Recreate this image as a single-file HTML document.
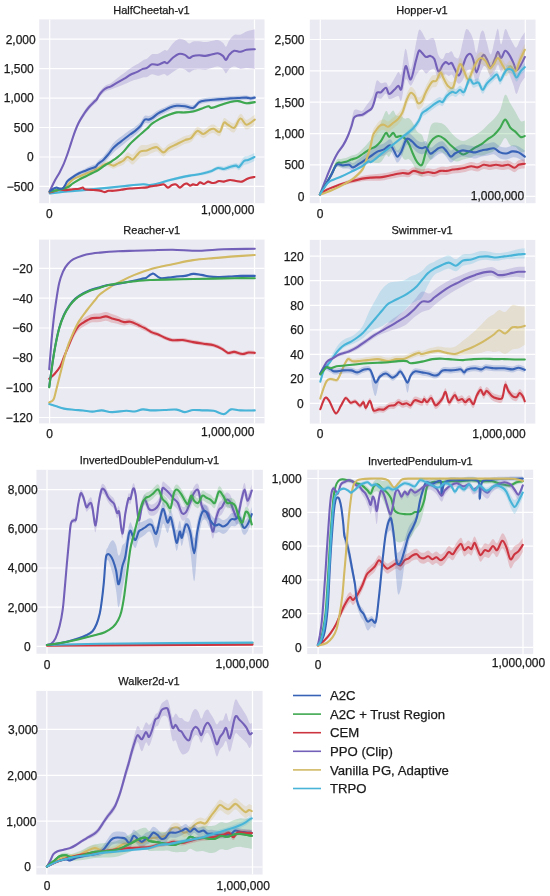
<!DOCTYPE html>
<html><head><meta charset="utf-8"><title>PPO benchmark curves</title>
<style>html,body{margin:0;padding:0;background:#fff;width:550px;height:896px;overflow:hidden}svg{display:block}</style>
</head><body>
<svg width="550" height="896" viewBox="0 0 550 896">
<rect width="550" height="896" fill="#fff"/>
<g id="p1">
<rect x="39.2" y="19.4" width="225.3" height="183.8" fill="#EAEAF2"/>
<line x1="39.2" x2="264.5" y1="39.2" y2="39.2" stroke="#ffffff" stroke-width="1.2"/>
<line x1="39.2" x2="264.5" y1="68.6" y2="68.6" stroke="#ffffff" stroke-width="1.2"/>
<line x1="39.2" x2="264.5" y1="98.1" y2="98.1" stroke="#ffffff" stroke-width="1.2"/>
<line x1="39.2" x2="264.5" y1="127.5" y2="127.5" stroke="#ffffff" stroke-width="1.2"/>
<line x1="39.2" x2="264.5" y1="157.0" y2="157.0" stroke="#ffffff" stroke-width="1.2"/>
<line x1="39.2" x2="264.5" y1="186.4" y2="186.4" stroke="#ffffff" stroke-width="1.2"/>
<line x1="49.7" x2="49.7" y1="19.4" y2="203.2" stroke="#ffffff" stroke-width="1.2"/>
<line x1="254.5" x2="254.5" y1="19.4" y2="203.2" stroke="#ffffff" stroke-width="1.2"/>
<clipPath id="cp1"><rect x="39.2" y="19.4" width="225.3" height="183.8"/></clipPath>
<g clip-path="url(#cp1)">
<path d="M49.5,191.1C50.3,189.3 52.7,183.9 54.4,180.6C56.1,177.3 58.1,174.1 59.6,171.2C61.1,168.4 62.1,166.4 63.4,163.3C64.7,160.2 66.0,156.6 67.3,152.8C68.6,149.1 69.8,144.9 71.1,141.0C72.4,137.0 73.7,132.6 75.0,129.1C76.3,125.6 77.3,122.9 78.8,120.0C80.3,117.0 82.2,114.0 83.9,111.4C85.6,108.8 87.4,106.4 89.1,104.3C90.8,102.3 92.9,100.4 94.2,99.1C95.5,97.8 96.0,97.7 96.8,96.5C97.6,95.3 98.2,93.5 99.3,92.0C100.4,90.5 101.9,88.6 103.2,87.4C104.5,86.2 105.8,85.4 107.0,84.8C108.2,84.1 108.7,84.7 110.5,83.5C112.3,82.3 115.8,79.2 118.1,77.5C120.4,75.7 122.2,74.6 124.3,73.1C126.3,71.5 128.3,69.6 130.4,68.2C132.5,66.8 134.5,65.9 136.6,64.6C138.7,63.3 141.1,61.4 142.8,60.4C144.5,59.5 145.4,59.8 146.9,58.8C148.4,57.7 150.1,55.1 152.0,54.3C153.9,53.5 156.1,54.5 158.2,53.8C160.2,53.2 162.8,50.8 164.3,50.2C165.8,49.6 166.0,51.5 167.4,50.4C168.8,49.3 170.7,45.6 172.6,43.7C174.5,41.8 176.6,39.6 178.7,39.0C180.8,38.5 183.2,39.5 184.9,40.3C186.6,41.0 187.6,43.3 189.0,43.6C190.4,43.8 191.4,42.0 193.1,41.6C194.8,41.2 197.2,41.2 199.3,41.3C201.4,41.4 203.4,42.2 205.4,42.1C207.4,42.1 209.5,41.3 211.6,41.0C213.7,40.6 215.9,39.7 217.8,40.0C219.7,40.3 221.5,41.7 222.9,42.8C224.3,43.9 225.0,47.1 226.0,46.7C227.0,46.3 227.7,42.6 229.1,40.7C230.5,38.7 232.3,36.0 234.2,35.0C236.1,34.0 238.3,35.3 240.4,34.7C242.5,34.1 244.1,32.4 246.5,31.5C248.9,30.6 253.4,29.6 254.8,29.2L254.8,69.2C253.4,69.0 248.9,68.2 246.5,68.1C244.1,68.1 242.5,69.2 240.4,68.9C238.3,68.6 236.1,66.5 234.2,66.6C232.3,66.6 230.5,68.0 229.1,69.1C227.7,70.3 227.0,73.3 226.0,73.3C225.0,73.3 224.3,70.1 222.9,69.0C221.5,67.9 219.7,66.7 217.8,66.6C215.9,66.4 213.7,67.5 211.6,68.0C209.5,68.6 207.4,69.5 205.4,69.7C203.4,69.9 201.4,69.2 199.3,69.3C197.2,69.4 194.8,69.7 193.1,70.2C191.4,70.7 190.4,72.6 189.0,72.4C187.6,72.3 186.6,70.1 184.9,69.5C183.2,68.9 180.8,68.3 178.7,68.8C176.6,69.2 174.5,71.1 172.6,72.3C170.7,73.5 168.8,75.5 167.4,75.8C166.0,76.1 165.8,74.0 164.3,74.0C162.8,74.0 160.2,75.7 158.2,75.8C156.1,75.8 153.9,74.1 152.0,74.3C150.1,74.5 148.4,76.5 146.9,77.1C145.4,77.6 144.5,76.9 142.8,77.4C141.1,77.8 138.7,78.9 136.6,79.6C134.5,80.3 132.5,80.6 130.4,81.4C128.3,82.2 126.3,83.5 124.3,84.3C122.2,85.2 120.4,85.8 118.1,86.7C115.8,87.6 112.3,89.0 110.5,89.7C108.7,90.4 108.2,90.1 107.0,90.7C105.8,91.2 104.5,92.0 103.2,93.2C101.9,94.3 100.4,96.1 99.3,97.6C98.2,99.1 97.6,100.9 96.8,102.1C96.0,103.2 95.5,103.3 94.2,104.5C92.9,105.8 90.8,107.6 89.1,109.7C87.4,111.7 85.6,114.0 83.9,116.6C82.2,119.1 80.3,122.0 78.8,124.8C77.3,127.6 76.3,130.1 75.0,133.5C73.7,136.8 72.4,141.0 71.1,144.8C69.8,148.6 68.6,152.6 67.3,156.2C66.0,159.7 64.7,163.2 63.4,166.1C62.1,169.0 61.1,170.9 59.6,173.6C58.1,176.2 56.1,179.1 54.4,182.2C52.7,185.3 50.3,190.5 49.5,192.1Z" fill="#7360B8" fill-opacity="0.24" stroke="none"/><path d="M49.5,191.6C50.3,189.9 52.7,184.6 54.4,181.4C56.1,178.2 58.1,175.2 59.6,172.4C61.1,169.6 62.1,167.7 63.4,164.7C64.7,161.7 66.0,158.1 67.3,154.5C68.6,150.9 69.8,146.8 71.1,142.9C72.4,139.0 73.7,134.7 75.0,131.3C76.3,127.9 77.3,125.3 78.8,122.4C80.3,119.5 82.2,116.6 83.9,114.0C85.6,111.4 87.4,109.0 89.1,107.0C90.8,105.0 92.9,103.1 94.2,101.8C95.5,100.5 96.0,100.5 96.8,99.3C97.6,98.1 98.2,96.3 99.3,94.8C100.4,93.3 101.9,91.5 103.2,90.3C104.5,89.1 105.8,88.3 107.0,87.7C108.2,87.1 108.7,87.5 110.5,86.6C112.3,85.7 115.8,83.4 118.1,82.1C120.4,80.8 122.2,79.9 124.3,78.7C126.3,77.5 128.3,75.9 130.4,74.8C132.5,73.7 134.5,73.1 136.6,72.1C138.7,71.1 141.1,69.6 142.8,68.9C144.5,68.2 145.4,68.7 146.9,67.9C148.4,67.1 150.1,64.8 152.0,64.3C153.9,63.8 156.1,65.2 158.2,64.8C160.2,64.4 162.8,62.4 164.3,62.1C165.8,61.8 166.0,63.8 167.4,63.1C168.8,62.4 170.7,59.5 172.6,58.0C174.5,56.5 176.6,54.4 178.7,53.9C180.8,53.4 183.2,54.2 184.9,54.9C186.6,55.6 187.6,57.8 189.0,58.0C190.4,58.2 191.4,56.4 193.1,55.9C194.8,55.4 197.2,55.3 199.3,55.3C201.4,55.3 203.4,56.0 205.4,55.9C207.4,55.8 209.5,54.9 211.6,54.5C213.7,54.1 215.9,53.1 217.8,53.3C219.7,53.5 221.5,54.8 222.9,55.9C224.3,57.0 225.0,60.2 226.0,60.0C227.0,59.8 227.7,56.4 229.1,54.9C230.5,53.4 232.3,51.3 234.2,50.8C236.1,50.3 238.3,52.0 240.4,51.8C242.5,51.6 244.1,50.2 246.5,49.8C248.9,49.4 253.4,49.3 254.8,49.2" fill="none" stroke="#7360B8" stroke-width="2.1" stroke-linejoin="round" stroke-linecap="round"/><path d="M49.7,193.0C51.5,192.8 55.4,192.1 60.6,191.5C65.8,191.0 74.2,190.4 81.1,189.7C87.9,189.1 94.8,188.4 101.7,187.6C108.6,186.9 115.3,186.2 122.2,185.4C129.1,184.7 138.2,183.6 142.8,183.3C147.4,183.1 147.1,184.2 150.0,184.0C152.9,183.8 156.7,182.8 160.0,181.9C163.3,181.0 166.7,179.7 170.0,178.8C173.3,177.9 176.7,177.1 180.0,176.3C183.3,175.5 186.7,174.8 190.0,174.2C193.3,173.6 196.7,173.2 200.0,172.5C203.3,171.8 207.0,170.9 210.0,169.8C213.0,168.7 215.7,166.4 218.0,165.9C220.3,165.4 222.0,167.0 224.0,166.8C226.0,166.6 228.0,165.3 230.0,164.6C232.0,164.0 234.5,163.1 236.0,162.9C237.5,162.8 237.7,164.8 239.0,163.8C240.3,162.8 242.5,158.3 244.0,157.0C245.5,155.7 246.2,156.7 248.0,156.0C249.8,155.3 253.4,153.5 254.5,153.0L254.5,161.0C253.4,161.5 249.8,163.3 248.0,164.0C246.2,164.7 245.5,164.0 244.0,165.0C242.5,166.0 240.3,169.6 239.0,170.2C237.7,170.7 237.5,168.4 236.0,168.3C234.5,168.1 232.0,168.9 230.0,169.4C228.0,169.9 226.0,171.1 224.0,171.2C222.0,171.3 220.3,169.7 218.0,170.1C215.7,170.4 213.0,172.5 210.0,173.4C207.0,174.3 203.3,174.9 200.0,175.5C196.7,176.1 193.3,176.4 190.0,177.0C186.7,177.6 183.3,178.2 180.0,178.9C176.7,179.6 173.3,180.3 170.0,181.2C166.7,182.1 163.3,183.3 160.0,184.1C156.7,184.9 152.9,185.8 150.0,186.0C147.1,186.2 147.4,185.1 142.8,185.3C138.2,185.5 129.1,186.5 122.2,187.2C115.3,187.8 108.6,188.5 101.7,189.2C94.8,189.8 87.9,190.5 81.1,191.1C74.2,191.6 65.8,192.2 60.6,192.7C55.4,193.1 51.5,193.8 49.7,194.0Z" fill="#48B4D8" fill-opacity="0.24" stroke="none"/><path d="M49.7,193.5C51.5,193.3 55.4,192.6 60.6,192.1C65.8,191.6 74.2,191.0 81.1,190.4C87.9,189.8 94.8,189.1 101.7,188.4C108.6,187.7 115.3,187.0 122.2,186.3C129.1,185.6 138.2,184.5 142.8,184.3C147.4,184.1 147.1,185.2 150.0,185.0C152.9,184.8 156.7,183.8 160.0,183.0C163.3,182.2 166.7,180.9 170.0,180.0C173.3,179.1 176.7,178.3 180.0,177.6C183.3,176.9 186.7,176.2 190.0,175.6C193.3,175.0 196.7,174.7 200.0,174.0C203.3,173.3 207.0,172.6 210.0,171.6C213.0,170.6 215.7,168.4 218.0,168.0C220.3,167.6 222.0,169.2 224.0,169.0C226.0,168.8 228.0,167.6 230.0,167.0C232.0,166.4 234.5,165.6 236.0,165.6C237.5,165.6 237.7,167.8 239.0,167.0C240.3,166.2 242.5,162.2 244.0,161.0C245.5,159.8 246.2,160.7 248.0,160.0C249.8,159.3 253.4,157.5 254.5,157.0" fill="none" stroke="#48B4D8" stroke-width="2.1" stroke-linejoin="round" stroke-linecap="round"/><path d="M49.7,191.5C50.6,191.2 53.3,190.4 55.0,190.0C56.7,189.6 58.1,189.0 60.0,188.8C61.9,188.7 64.3,189.2 66.4,189.1C68.5,189.0 70.6,188.4 72.7,188.2C74.8,188.0 77.4,188.1 79.1,187.8C80.8,187.5 82.0,186.4 82.9,186.5C83.9,186.6 83.0,187.8 84.8,188.2C86.5,188.6 90.9,188.8 93.4,189.0C95.9,189.2 98.2,189.2 100.0,189.6C101.8,189.9 103.1,191.1 104.5,191.1C105.9,191.1 106.9,190.0 108.4,189.8C109.9,189.6 111.4,190.0 113.5,189.8C115.6,189.6 118.3,189.2 121.1,188.8C123.8,188.4 127.1,187.8 130.0,187.5C132.9,187.2 135.8,187.2 138.6,187.0C141.4,186.8 145.0,186.7 146.9,186.4C148.8,186.1 148.5,185.7 150.0,185.4C151.5,185.1 154.3,184.8 156.0,184.6C157.7,184.4 158.7,184.2 160.0,184.0C161.3,183.8 162.7,183.0 164.0,183.4C165.3,183.8 166.7,186.5 168.0,186.6C169.3,186.7 170.7,184.5 172.0,184.0C173.3,183.5 174.7,183.0 176.0,183.4C177.3,183.8 178.7,186.6 180.0,186.6C181.3,186.6 182.8,184.1 184.0,183.4C185.2,182.7 186.0,182.4 187.0,182.6C188.0,182.8 189.0,184.5 190.0,184.6C191.0,184.7 191.8,183.5 193.0,183.4C194.2,183.3 195.8,184.3 197.0,184.0C198.2,183.7 198.8,181.6 200.0,181.4C201.2,181.2 202.7,183.1 204.0,183.0C205.3,182.9 206.7,180.8 208.0,180.6C209.3,180.4 210.7,181.9 212.0,182.0C213.3,182.1 214.8,181.7 216.0,181.4C217.2,181.1 217.7,180.1 219.0,180.0C220.3,179.9 222.2,180.8 224.0,180.6C225.8,180.4 228.0,179.1 230.0,179.0C232.0,178.9 234.0,179.7 236.0,180.0C238.0,180.3 240.0,181.0 242.0,180.6C244.0,180.2 245.9,178.2 248.0,177.4C250.1,176.6 253.4,176.2 254.5,176.0L254.5,178.0C253.4,178.2 250.1,178.6 248.0,179.4C245.9,180.2 244.0,182.2 242.0,182.6C240.0,183.0 238.0,182.3 236.0,182.0C234.0,181.7 232.0,180.9 230.0,181.0C228.0,181.1 225.8,182.4 224.0,182.6C222.2,182.8 220.3,181.9 219.0,182.0C217.7,182.1 217.2,183.1 216.0,183.4C214.8,183.7 213.3,184.1 212.0,184.0C210.7,183.9 209.3,182.4 208.0,182.6C206.7,182.8 205.3,184.9 204.0,185.0C202.7,185.1 201.2,183.2 200.0,183.4C198.8,183.6 198.2,185.7 197.0,186.0C195.8,186.3 194.2,185.3 193.0,185.4C191.8,185.5 191.0,186.7 190.0,186.6C189.0,186.5 188.0,184.8 187.0,184.6C186.0,184.4 185.2,184.7 184.0,185.4C182.8,186.1 181.3,188.6 180.0,188.6C178.7,188.6 177.3,185.8 176.0,185.4C174.7,185.0 173.3,185.5 172.0,186.0C170.7,186.5 169.3,188.7 168.0,188.6C166.7,188.5 165.3,185.8 164.0,185.4C162.7,185.0 161.3,185.8 160.0,186.0C158.7,186.2 157.7,186.4 156.0,186.6C154.3,186.8 151.5,187.1 150.0,187.4C148.5,187.7 148.8,188.1 146.9,188.4C145.0,188.7 141.4,188.8 138.6,189.0C135.8,189.2 132.9,189.2 130.0,189.5C127.1,189.8 123.8,190.4 121.1,190.8C118.3,191.2 115.6,191.6 113.5,191.8C111.4,192.0 109.9,191.6 108.4,191.8C106.9,192.0 105.9,193.1 104.5,193.1C103.1,193.1 101.8,191.9 100.0,191.6C98.2,191.2 95.9,191.2 93.4,191.0C90.9,190.8 86.5,190.6 84.8,190.2C83.0,189.8 83.9,188.6 82.9,188.5C82.0,188.4 80.8,189.5 79.1,189.8C77.4,190.1 74.8,190.0 72.7,190.2C70.6,190.4 68.5,191.0 66.4,191.1C64.3,191.2 61.9,190.7 60.0,190.8C58.1,191.0 56.7,191.6 55.0,192.0C53.3,192.4 50.6,193.2 49.7,193.5Z" fill="#CC3540" fill-opacity="0.24" stroke="none"/><path d="M49.7,192.5C50.6,192.2 53.3,191.4 55.0,191.0C56.7,190.6 58.1,190.0 60.0,189.8C61.9,189.7 64.3,190.2 66.4,190.1C68.5,190.0 70.6,189.4 72.7,189.2C74.8,189.0 77.4,189.1 79.1,188.8C80.8,188.5 82.0,187.4 82.9,187.5C83.9,187.6 83.0,188.8 84.8,189.2C86.5,189.6 90.9,189.8 93.4,190.0C95.9,190.2 98.2,190.2 100.0,190.6C101.8,190.9 103.1,192.1 104.5,192.1C105.9,192.1 106.9,191.0 108.4,190.8C109.9,190.6 111.4,191.0 113.5,190.8C115.6,190.6 118.3,190.2 121.1,189.8C123.8,189.4 127.1,188.8 130.0,188.5C132.9,188.2 135.8,188.2 138.6,188.0C141.4,187.8 145.0,187.7 146.9,187.4C148.8,187.1 148.5,186.7 150.0,186.4C151.5,186.1 154.3,185.8 156.0,185.6C157.7,185.4 158.7,185.2 160.0,185.0C161.3,184.8 162.7,184.0 164.0,184.4C165.3,184.8 166.7,187.5 168.0,187.6C169.3,187.7 170.7,185.5 172.0,185.0C173.3,184.5 174.7,184.0 176.0,184.4C177.3,184.8 178.7,187.6 180.0,187.6C181.3,187.6 182.8,185.1 184.0,184.4C185.2,183.7 186.0,183.4 187.0,183.6C188.0,183.8 189.0,185.5 190.0,185.6C191.0,185.7 191.8,184.5 193.0,184.4C194.2,184.3 195.8,185.3 197.0,185.0C198.2,184.7 198.8,182.6 200.0,182.4C201.2,182.2 202.7,184.1 204.0,184.0C205.3,183.9 206.7,181.8 208.0,181.6C209.3,181.4 210.7,182.9 212.0,183.0C213.3,183.1 214.8,182.7 216.0,182.4C217.2,182.1 217.7,181.1 219.0,181.0C220.3,180.9 222.2,181.8 224.0,181.6C225.8,181.4 228.0,180.1 230.0,180.0C232.0,179.9 234.0,180.7 236.0,181.0C238.0,181.3 240.0,182.0 242.0,181.6C244.0,181.2 245.9,179.2 248.0,178.4C250.1,177.6 253.4,177.2 254.5,177.0" fill="none" stroke="#CC3540" stroke-width="2.1" stroke-linejoin="round" stroke-linecap="round"/><path d="M49.7,191.0C51.4,190.6 57.2,189.7 60.0,188.7C62.8,187.7 64.3,186.7 66.4,185.0C68.5,183.3 70.6,180.1 72.7,178.4C74.8,176.8 77.0,176.1 79.1,175.1C81.2,174.1 83.4,173.2 85.5,172.3C87.6,171.4 89.7,170.7 91.8,169.6C93.9,168.6 96.1,167.5 98.2,166.3C100.3,165.0 102.8,162.9 104.5,162.0C106.2,161.2 106.9,160.9 108.4,161.0C109.9,161.1 111.8,162.8 113.5,162.5C115.2,162.3 116.8,160.6 118.5,159.6C120.2,158.6 122.1,157.8 123.6,156.6C125.1,155.4 126.0,152.7 127.5,152.4C129.0,152.0 131.0,155.0 132.5,154.6C134.0,154.2 135.2,151.5 136.6,150.0C138.0,148.4 139.0,146.3 140.7,145.5C142.4,144.7 145.0,145.4 146.9,145.1C148.8,144.8 150.3,143.8 152.0,143.5C153.7,143.2 155.2,142.2 157.1,143.0C159.0,143.8 161.4,148.2 163.3,148.4C165.2,148.6 166.2,145.7 168.4,144.3C170.6,142.9 173.9,141.6 176.7,140.2C179.4,138.8 182.5,137.1 184.9,136.1C187.3,135.1 188.9,135.6 191.0,134.1C193.1,132.6 195.1,127.6 197.2,126.9C199.3,126.2 201.3,130.1 203.4,129.9C205.5,129.7 207.8,126.6 209.5,125.7C211.2,124.8 212.0,124.2 213.7,124.6C215.4,124.9 218.1,128.6 219.8,127.5C221.5,126.5 222.5,119.5 223.9,118.3C225.3,117.0 226.3,119.4 228.0,120.2C229.7,121.0 232.1,124.2 234.2,123.2C236.3,122.1 238.3,114.4 240.4,113.9C242.5,113.3 244.1,119.7 246.5,119.9C248.9,120.0 253.4,115.5 254.8,114.6L254.8,124.6C253.4,125.4 248.9,129.8 246.5,129.5C244.1,129.3 242.5,122.9 240.4,123.3C238.3,123.8 236.3,131.4 234.2,132.4C232.1,133.4 229.7,130.1 228.0,129.2C226.3,128.3 225.3,126.0 223.9,127.1C222.5,128.3 221.5,135.3 219.8,136.3C218.1,137.2 215.4,133.4 213.7,133.1C212.0,132.7 211.2,133.2 209.5,134.1C207.8,134.9 205.5,137.9 203.4,138.1C201.3,138.2 199.3,134.2 197.2,134.9C195.1,135.6 193.1,140.6 191.0,142.1C188.9,143.6 187.3,143.1 184.9,144.1C182.5,145.1 179.4,146.8 176.7,148.2C173.9,149.6 170.6,150.9 168.4,152.3C166.2,153.7 165.2,156.5 163.3,156.4C161.4,156.3 159.0,152.1 157.1,151.6C155.2,151.0 153.7,152.4 152.0,153.1C150.3,153.8 148.8,155.0 146.9,155.7C145.0,156.4 142.4,156.4 140.7,157.3C139.0,158.2 138.0,159.8 136.6,161.0C135.2,162.3 134.0,164.6 132.5,164.6C131.0,164.6 129.0,161.1 127.5,161.0C126.0,161.0 125.1,163.5 123.6,164.4C122.1,165.3 120.2,165.9 118.5,166.6C116.8,167.3 115.2,168.7 113.5,168.7C111.8,168.6 109.9,166.7 108.4,166.4C106.9,166.1 106.2,166.1 104.5,166.8C102.8,167.4 100.3,169.1 98.2,170.1C96.1,171.2 93.9,172.3 91.8,173.2C89.7,174.0 87.6,174.7 85.5,175.5C83.4,176.3 81.2,177.0 79.1,177.9C77.0,178.8 74.8,179.3 72.7,180.8C70.6,182.3 68.5,185.4 66.4,187.0C64.3,188.6 62.8,189.5 60.0,190.3C57.2,191.1 51.4,191.7 49.7,192.0Z" fill="#D2B964" fill-opacity="0.24" stroke="none"/><path d="M49.7,191.5C51.4,191.2 57.2,190.4 60.0,189.5C62.8,188.6 64.3,187.7 66.4,186.0C68.5,184.3 70.6,181.2 72.7,179.6C74.8,178.0 77.0,177.4 79.1,176.5C81.2,175.6 83.4,174.8 85.5,173.9C87.6,173.1 89.7,172.4 91.8,171.4C93.9,170.4 96.1,169.4 98.2,168.2C100.3,167.0 102.8,165.2 104.5,164.4C106.2,163.7 106.9,163.5 108.4,163.7C109.9,163.9 111.8,165.7 113.5,165.6C115.2,165.5 116.8,163.9 118.5,163.1C120.2,162.2 122.1,161.6 123.6,160.5C125.1,159.4 126.0,156.8 127.5,156.7C129.0,156.5 131.0,159.8 132.5,159.6C134.0,159.4 135.2,156.9 136.6,155.5C138.0,154.1 139.0,152.2 140.7,151.4C142.4,150.6 145.0,150.9 146.9,150.4C148.8,149.9 150.3,148.8 152.0,148.3C153.7,147.8 155.2,146.6 157.1,147.3C159.0,148.0 161.4,152.2 163.3,152.4C165.2,152.6 166.2,149.7 168.4,148.3C170.6,146.9 173.9,145.6 176.7,144.2C179.4,142.8 182.5,141.1 184.9,140.1C187.3,139.1 188.9,139.6 191.0,138.1C193.1,136.6 195.1,131.6 197.2,130.9C199.3,130.2 201.3,134.2 203.4,134.0C205.5,133.8 207.8,130.8 209.5,129.9C211.2,129.0 212.0,128.5 213.7,128.8C215.4,129.1 218.1,132.9 219.8,131.9C221.5,130.9 222.5,123.9 223.9,122.7C225.3,121.5 226.3,123.9 228.0,124.7C229.7,125.5 232.1,128.8 234.2,127.8C236.3,126.8 238.3,119.1 240.4,118.6C242.5,118.1 244.1,124.5 246.5,124.7C248.9,124.9 253.4,120.4 254.8,119.6" fill="none" stroke="#D2B964" stroke-width="2.1" stroke-linejoin="round" stroke-linecap="round"/><path d="M49.7,190.3C51.4,190.0 57.0,189.0 60.0,188.3C63.0,187.6 65.5,187.1 67.6,186.1C69.7,185.1 70.8,183.6 72.7,182.3C74.6,181.0 77.0,179.6 79.1,178.4C81.2,177.2 83.4,176.4 85.5,175.3C87.6,174.2 89.7,173.2 91.8,172.1C93.9,171.0 96.1,170.2 98.2,168.9C100.3,167.6 102.4,165.8 104.5,164.4C106.6,163.0 108.8,162.0 110.9,160.6C113.0,159.2 115.2,157.9 117.3,156.2C119.4,154.5 121.5,152.6 123.6,150.4C125.7,148.2 127.5,145.4 130.0,142.8C132.5,140.2 135.8,137.3 138.6,134.8C141.4,132.3 144.7,129.7 146.9,127.6C149.1,125.6 149.8,124.2 152.0,122.5C154.2,120.8 157.5,118.9 160.2,117.4C162.9,115.9 165.7,114.7 168.4,113.7C171.2,112.7 173.9,111.6 176.7,111.2C179.4,110.8 182.2,111.4 184.9,111.2C187.6,111.0 190.4,110.8 193.1,110.2C195.8,109.6 198.7,108.4 201.3,107.5C203.9,106.6 206.8,105.1 208.5,105.0C210.2,104.9 209.7,106.9 211.6,106.7C213.5,106.5 216.7,105.0 219.8,104.0C222.9,103.0 227.0,101.6 230.1,100.9C233.2,100.2 235.6,99.7 238.3,99.9C241.0,100.1 243.8,101.8 246.5,102.0C249.2,102.2 253.4,101.1 254.8,100.9L254.8,103.3C253.4,103.5 249.2,104.6 246.5,104.4C243.8,104.2 241.0,102.5 238.3,102.3C235.6,102.1 233.2,102.6 230.1,103.3C227.0,104.0 222.9,105.4 219.8,106.4C216.7,107.4 213.5,108.9 211.6,109.1C209.7,109.3 210.2,107.3 208.5,107.4C206.8,107.5 203.9,109.0 201.3,109.9C198.7,110.8 195.8,112.0 193.1,112.6C190.4,113.2 187.6,113.4 184.9,113.6C182.2,113.8 179.4,113.2 176.7,113.6C173.9,114.0 171.2,115.1 168.4,116.1C165.7,117.1 162.9,118.3 160.2,119.8C157.5,121.3 154.2,123.2 152.0,124.9C149.8,126.6 149.1,128.0 146.9,130.0C144.7,132.1 141.4,134.7 138.6,137.2C135.8,139.7 132.5,142.6 130.0,145.2C127.5,147.8 125.7,150.6 123.6,152.8C121.5,155.0 119.4,156.9 117.3,158.6C115.2,160.3 113.0,161.6 110.9,163.0C108.8,164.4 106.6,165.4 104.5,166.8C102.4,168.2 100.3,170.0 98.2,171.3C96.1,172.6 93.9,173.4 91.8,174.5C89.7,175.6 87.6,176.6 85.5,177.7C83.4,178.8 81.2,179.6 79.1,180.8C77.0,182.0 74.6,183.4 72.7,184.7C70.8,186.0 69.7,187.5 67.6,188.5C65.5,189.5 63.0,190.0 60.0,190.7C57.0,191.4 51.4,192.4 49.7,192.7Z" fill="#3DA84F" fill-opacity="0.24" stroke="none"/><path d="M49.7,191.5C51.4,191.2 57.0,190.2 60.0,189.5C63.0,188.8 65.5,188.3 67.6,187.3C69.7,186.3 70.8,184.8 72.7,183.5C74.6,182.2 77.0,180.8 79.1,179.6C81.2,178.4 83.4,177.6 85.5,176.5C87.6,175.4 89.7,174.4 91.8,173.3C93.9,172.2 96.1,171.4 98.2,170.1C100.3,168.8 102.4,167.0 104.5,165.6C106.6,164.2 108.8,163.2 110.9,161.8C113.0,160.4 115.2,159.1 117.3,157.4C119.4,155.7 121.5,153.8 123.6,151.6C125.7,149.4 127.5,146.6 130.0,144.0C132.5,141.4 135.8,138.5 138.6,136.0C141.4,133.5 144.7,130.9 146.9,128.8C149.1,126.8 149.8,125.4 152.0,123.7C154.2,122.0 157.5,120.1 160.2,118.6C162.9,117.1 165.7,115.9 168.4,114.9C171.2,113.9 173.9,112.8 176.7,112.4C179.4,112.0 182.2,112.6 184.9,112.4C187.6,112.2 190.4,112.0 193.1,111.4C195.8,110.8 198.7,109.6 201.3,108.7C203.9,107.8 206.8,106.3 208.5,106.2C210.2,106.1 209.7,108.1 211.6,107.9C213.5,107.7 216.7,106.2 219.8,105.2C222.9,104.2 227.0,102.8 230.1,102.1C233.2,101.4 235.6,100.9 238.3,101.1C241.0,101.3 243.8,103.0 246.5,103.2C249.2,103.4 253.4,102.3 254.8,102.1" fill="none" stroke="#3DA84F" stroke-width="2.1" stroke-linejoin="round" stroke-linecap="round"/><path d="M49.7,191.0C50.2,190.6 51.9,189.0 53.0,188.3C54.1,187.6 55.4,186.9 56.4,186.8C57.4,186.6 58.0,187.5 59.0,187.5C60.0,187.6 61.5,188.0 62.6,187.3C63.7,186.5 64.7,184.5 65.5,183.2C66.3,181.9 66.4,180.8 67.6,179.5C68.8,178.2 70.8,176.8 72.7,175.5C74.6,174.1 77.0,172.5 79.1,171.3C81.2,170.2 83.4,169.4 85.5,168.4C87.6,167.5 90.1,166.3 91.8,165.6C93.5,164.9 94.5,164.9 95.6,164.1C96.7,163.3 96.9,162.1 98.2,160.8C99.5,159.5 101.6,158.2 103.3,156.5C105.0,154.7 106.7,152.3 108.4,150.1C110.1,147.8 111.8,144.9 113.5,143.0C115.2,141.1 116.8,139.9 118.5,138.5C120.2,137.2 121.7,136.3 123.6,134.8C125.5,133.4 128.2,131.4 130.0,130.1C131.8,128.8 132.7,128.6 134.5,127.2C136.3,125.8 139.0,123.6 140.7,121.7C142.4,119.8 143.4,116.8 144.8,115.8C146.2,114.9 147.7,116.2 148.9,116.0C150.1,115.9 150.4,115.8 152.0,114.8C153.6,113.8 156.1,111.6 158.2,110.3C160.2,109.1 162.2,108.3 164.3,107.4C166.4,106.4 168.4,105.2 170.5,104.4C172.6,103.7 174.3,103.2 176.7,103.0C179.1,102.9 182.2,103.1 184.9,103.5C187.6,103.9 190.7,106.0 193.1,105.3C195.5,104.7 197.2,100.8 199.3,99.6C201.4,98.4 203.0,98.4 205.4,98.0C207.8,97.7 210.9,97.5 213.7,97.3C216.4,97.1 219.2,97.0 221.9,96.8C224.6,96.6 227.4,96.3 230.1,96.2C232.8,96.0 235.6,96.0 238.3,95.8C241.0,95.7 244.4,95.4 246.5,95.5C248.6,95.6 249.2,96.3 250.6,96.4C252.0,96.4 254.1,95.7 254.8,95.6L254.8,99.6C254.1,99.7 252.0,100.4 250.6,100.4C249.2,100.5 248.6,99.7 246.5,99.7C244.4,99.6 241.0,100.0 238.3,100.2C235.6,100.3 232.8,100.4 230.1,100.6C227.4,100.8 224.6,101.2 221.9,101.4C219.2,101.6 216.4,101.8 213.7,102.1C210.9,102.3 207.8,102.5 205.4,103.0C203.0,103.4 201.4,103.4 199.3,104.6C197.2,105.9 195.5,109.8 193.1,110.5C190.7,111.2 187.6,109.2 184.9,108.9C182.2,108.6 179.1,108.4 176.7,108.6C174.3,108.8 172.6,109.4 170.5,110.2C168.4,110.9 166.4,112.2 164.3,113.2C162.2,114.3 160.2,115.1 158.2,116.5C156.1,117.9 153.6,120.5 152.0,121.6C150.4,122.7 150.1,122.9 148.9,123.2C147.7,123.4 146.2,122.3 144.8,123.4C143.4,124.4 142.4,127.6 140.7,129.7C139.0,131.7 136.3,134.1 134.5,135.6C132.7,137.2 131.8,137.5 130.0,138.9C128.2,140.3 125.5,142.6 123.6,144.2C121.7,145.7 120.2,146.9 118.5,148.3C116.8,149.7 115.2,150.9 113.5,152.6C111.8,154.3 110.1,156.5 108.4,158.3C106.7,160.1 105.0,162.0 103.3,163.3C101.6,164.7 99.5,165.6 98.2,166.6C96.9,167.7 96.7,169.0 95.6,169.7C94.5,170.4 93.5,170.2 91.8,170.8C90.1,171.3 87.6,172.2 85.5,173.0C83.4,173.7 81.2,174.3 79.1,175.3C77.0,176.2 74.6,177.6 72.7,178.7C70.8,179.9 68.8,181.1 67.6,182.3C66.4,183.5 66.3,184.6 65.5,185.8C64.7,187.0 63.7,188.9 62.6,189.5C61.5,190.1 60.0,189.6 59.0,189.5C58.0,189.3 57.4,188.4 56.4,188.4C55.4,188.5 54.1,189.1 53.0,189.7C51.9,190.3 50.2,191.6 49.7,192.0Z" fill="#3762B5" fill-opacity="0.24" stroke="none"/><path d="M49.7,191.5C50.2,191.1 51.9,189.7 53.0,189.0C54.1,188.3 55.4,187.7 56.4,187.6C57.4,187.5 58.0,188.4 59.0,188.5C60.0,188.6 61.5,189.1 62.6,188.4C63.7,187.7 64.7,185.8 65.5,184.5C66.3,183.2 66.4,182.1 67.6,180.9C68.8,179.7 70.8,178.4 72.7,177.1C74.6,175.8 77.0,174.4 79.1,173.3C81.2,172.2 83.4,171.5 85.5,170.7C87.6,169.8 90.1,168.8 91.8,168.2C93.5,167.6 94.5,167.7 95.6,166.9C96.7,166.2 96.9,164.9 98.2,163.7C99.5,162.5 101.6,161.5 103.3,159.9C105.0,158.3 106.7,156.2 108.4,154.2C110.1,152.2 111.8,149.6 113.5,147.8C115.2,146.0 116.8,144.8 118.5,143.4C120.2,142.0 121.7,141.0 123.6,139.5C125.5,138.0 128.2,135.8 130.0,134.5C131.8,133.2 132.7,132.9 134.5,131.4C136.3,129.9 139.0,127.7 140.7,125.7C142.4,123.7 143.4,120.6 144.8,119.6C146.2,118.6 147.7,119.8 148.9,119.6C150.1,119.4 150.4,119.2 152.0,118.2C153.6,117.2 156.1,114.7 158.2,113.4C160.2,112.1 162.2,111.3 164.3,110.3C166.4,109.3 168.4,108.0 170.5,107.3C172.6,106.5 174.3,106.0 176.7,105.8C179.1,105.6 182.2,105.8 184.9,106.2C187.6,106.6 190.7,108.6 193.1,107.9C195.5,107.2 197.2,103.3 199.3,102.1C201.4,100.9 203.0,100.9 205.4,100.5C207.8,100.1 210.9,99.9 213.7,99.7C216.4,99.5 219.2,99.3 221.9,99.1C224.6,98.9 227.4,98.6 230.1,98.4C232.8,98.2 235.6,98.1 238.3,98.0C241.0,97.9 244.4,97.5 246.5,97.6C248.6,97.7 249.2,98.4 250.6,98.4C252.0,98.4 254.1,97.7 254.8,97.6" fill="none" stroke="#3762B5" stroke-width="2.1" stroke-linejoin="round" stroke-linecap="round"/>
</g>
</g>
<g id="p2">
<rect x="309.8" y="19.6" width="225.7" height="183.6" fill="#EAEAF2"/>
<line x1="309.8" x2="535.5" y1="39.5" y2="39.5" stroke="#ffffff" stroke-width="1.2"/>
<line x1="309.8" x2="535.5" y1="70.9" y2="70.9" stroke="#ffffff" stroke-width="1.2"/>
<line x1="309.8" x2="535.5" y1="102.2" y2="102.2" stroke="#ffffff" stroke-width="1.2"/>
<line x1="309.8" x2="535.5" y1="133.6" y2="133.6" stroke="#ffffff" stroke-width="1.2"/>
<line x1="309.8" x2="535.5" y1="164.9" y2="164.9" stroke="#ffffff" stroke-width="1.2"/>
<line x1="309.8" x2="535.5" y1="196.3" y2="196.3" stroke="#ffffff" stroke-width="1.2"/>
<line x1="320.3" x2="320.3" y1="19.6" y2="203.2" stroke="#ffffff" stroke-width="1.2"/>
<line x1="525.3" x2="525.3" y1="19.6" y2="203.2" stroke="#ffffff" stroke-width="1.2"/>
<clipPath id="cp2"><rect x="309.8" y="19.6" width="225.7" height="183.6"/></clipPath>
<g clip-path="url(#cp2)">
<path d="M319.9,194.0C320.2,193.1 320.9,191.4 322.0,188.3C323.1,185.3 325.0,180.3 326.8,175.7C328.6,171.2 330.9,165.1 332.7,161.0C334.5,156.9 335.7,154.3 337.5,151.2C339.3,148.1 341.6,145.6 343.4,142.5C345.2,139.4 346.7,136.5 348.1,132.7C349.5,129.0 350.6,123.7 351.6,120.0C352.6,116.3 353.0,112.3 354.0,110.6C355.0,108.9 356.2,109.7 357.6,109.7C359.0,109.8 360.7,111.6 362.3,110.8C363.9,109.9 365.4,106.8 367.0,104.6C368.6,102.5 370.5,100.2 371.7,98.0C372.9,95.8 373.2,94.1 374.1,91.2C375.0,88.3 375.7,81.9 376.8,80.6C377.9,79.3 379.4,82.8 380.9,83.2C382.4,83.5 384.6,82.0 386.0,82.6C387.4,83.2 387.7,87.2 389.1,86.5C390.5,85.9 392.8,81.2 394.3,78.8C395.9,76.4 397.2,73.0 398.4,72.1C399.6,71.3 400.2,77.5 401.4,73.6C402.6,69.7 404.1,49.4 405.6,48.7C407.2,48.0 409.0,70.0 410.7,69.3C412.4,68.6 414.4,51.0 415.8,44.5C417.2,38.0 417.9,32.3 418.9,30.3C419.9,28.3 420.8,30.8 422.0,32.3C423.2,33.8 424.7,38.4 426.1,39.5C427.5,40.6 428.8,38.8 430.2,38.8C431.6,38.8 432.9,36.8 434.3,39.5C435.7,42.2 437.0,51.6 438.4,54.9C439.8,58.1 441.4,59.2 442.6,59.0C443.8,58.8 444.6,54.5 445.6,53.4C446.6,52.4 447.7,53.2 448.7,52.9C449.7,52.6 450.8,50.7 451.8,51.4C452.8,52.0 453.7,56.1 454.9,57.0C456.1,57.9 457.6,59.7 459.0,56.9C460.4,54.2 461.9,45.1 463.1,40.5C464.3,35.9 465.0,30.5 466.2,29.2C467.4,27.9 469.1,30.9 470.3,32.8C471.5,34.7 472.4,37.2 473.4,40.5C474.4,43.9 475.3,54.0 476.5,52.9C477.7,51.8 479.4,37.2 480.6,33.6C481.8,30.0 482.7,30.0 483.7,31.4C484.7,32.8 485.5,38.3 486.7,42.1C487.9,45.9 489.4,55.0 490.8,54.4C492.2,53.8 493.8,42.7 495.0,38.4C496.2,34.2 497.0,27.8 498.0,28.9C499.0,29.9 499.9,44.5 501.1,44.6C502.3,44.7 503.8,30.6 505.2,29.2C506.6,27.8 507.9,33.9 509.3,36.4C510.7,38.9 512.3,42.5 513.5,44.4C514.7,46.2 515.3,48.3 516.5,47.4C517.7,46.5 519.2,41.3 520.6,38.8C522.0,36.3 524.1,33.4 524.8,32.3L524.8,77.5C524.1,78.5 522.0,81.0 520.6,83.7C519.2,86.4 517.7,93.7 516.5,93.9C515.3,94.1 514.7,88.4 513.5,85.2C512.3,81.9 510.7,77.5 509.3,74.3C507.9,71.2 506.6,66.8 505.2,66.4C503.8,66.0 502.3,72.1 501.1,71.9C499.9,71.7 499.0,65.1 498.0,65.0C497.0,64.8 496.2,69.1 495.0,71.1C493.8,73.1 492.2,77.5 490.8,76.9C489.4,76.4 487.9,69.7 486.7,68.0C485.5,66.2 484.7,65.4 483.7,66.2C482.7,67.0 481.8,69.7 480.6,72.6C479.4,75.5 477.7,83.5 476.5,83.7C475.3,83.9 474.4,76.2 473.4,73.8C472.4,71.3 471.5,69.5 470.3,69.2C469.1,68.9 467.4,70.0 466.2,71.7C465.0,73.4 464.3,77.5 463.1,79.5C461.9,81.5 460.4,83.7 459.0,83.7C457.6,83.7 456.1,81.2 454.9,79.6C453.7,78.1 452.8,75.2 451.8,74.6C450.8,74.0 449.7,76.0 448.7,75.9C447.7,75.9 446.6,74.3 445.6,74.3C444.6,74.2 443.8,75.1 442.6,75.8C441.4,76.5 439.8,79.6 438.4,78.5C437.0,77.4 435.7,70.7 434.3,69.3C432.9,67.9 431.6,69.6 430.2,70.3C428.8,71.0 427.5,73.6 426.1,73.4C424.7,73.2 423.2,69.7 422.0,69.3C420.8,68.9 419.9,70.2 418.9,71.3C417.9,72.4 417.2,73.8 415.8,76.2C414.4,78.6 412.4,85.1 410.7,85.7C409.0,86.3 407.2,77.1 405.6,79.5C404.1,81.9 402.6,97.6 401.4,100.3C400.2,103.1 399.6,96.5 398.4,96.0C397.2,95.5 395.9,96.9 394.3,97.4C392.8,97.9 390.5,99.6 389.1,99.0C387.7,98.3 387.4,93.4 386.0,93.4C384.6,93.3 382.4,98.0 380.9,98.7C379.4,99.4 377.9,96.6 376.8,97.7C375.7,98.9 375.0,103.6 374.1,105.7C373.2,107.8 372.9,108.9 371.7,110.3C370.5,111.7 368.6,112.8 367.0,113.9C365.4,115.0 363.9,116.5 362.3,117.0C360.7,117.4 359.0,116.5 357.6,116.7C356.2,117.0 355.0,116.7 354.0,118.4C353.0,120.1 352.6,123.8 351.6,127.1C350.6,130.3 349.5,134.5 348.1,137.8C346.7,141.0 345.2,143.9 343.4,146.6C341.6,149.4 339.3,151.6 337.5,154.4C335.7,157.2 334.5,159.8 332.7,163.6C330.9,167.5 328.6,173.3 326.8,177.6C325.0,181.9 323.1,186.7 322.0,189.6C320.9,192.5 320.2,194.1 319.9,195.0Z" fill="#7360B8" fill-opacity="0.24" stroke="none"/><path d="M319.9,194.5C320.2,193.6 320.9,191.9 322.0,189.0C323.1,186.1 325.0,181.2 326.8,176.8C328.6,172.4 330.9,166.5 332.7,162.6C334.5,158.7 335.7,156.1 337.5,153.2C339.3,150.2 341.6,147.8 343.4,144.9C345.2,142.0 346.7,138.7 348.1,135.5C349.5,132.3 350.6,129.0 351.6,126.0C352.6,123.0 353.0,119.5 354.0,117.7C355.0,115.9 356.2,115.9 357.6,115.4C359.0,114.9 360.7,115.4 362.3,114.8C363.9,114.2 365.4,112.9 367.0,111.8C368.6,110.7 370.5,109.9 371.7,108.3C372.9,106.7 373.2,105.0 374.1,102.4C375.0,99.8 375.7,94.6 376.8,92.9C377.9,91.2 379.4,93.2 380.9,92.3C382.4,91.4 384.6,87.5 386.0,87.8C387.4,88.1 387.7,93.6 389.1,93.9C390.5,94.2 392.8,91.2 394.3,89.8C395.9,88.4 397.2,85.9 398.4,85.7C399.6,85.5 400.2,92.0 401.4,88.8C402.6,85.5 404.1,67.8 405.6,66.2C407.2,64.7 409.0,80.3 410.7,79.5C412.4,78.7 414.4,65.9 415.8,61.1C417.2,56.3 417.9,52.2 418.9,50.8C419.9,49.4 420.8,51.9 422.0,52.9C423.2,53.9 424.7,56.5 426.1,57.0C427.5,57.5 428.8,55.6 430.2,55.9C431.6,56.2 432.9,56.4 434.3,59.0C435.7,61.6 437.0,70.3 438.4,71.3C439.8,72.3 441.4,66.7 442.6,65.2C443.8,63.7 444.6,62.3 445.6,62.1C446.6,61.9 447.7,63.9 448.7,64.1C449.7,64.3 450.8,62.2 451.8,63.1C452.8,64.0 453.7,67.2 454.9,69.3C456.1,71.3 457.6,76.1 459.0,75.4C460.4,74.7 461.9,68.3 463.1,65.2C464.3,62.1 465.0,58.9 466.2,57.0C467.4,55.1 469.1,53.4 470.3,53.9C471.5,54.4 472.4,56.9 473.4,60.0C474.4,63.1 475.3,72.4 476.5,72.4C477.7,72.4 479.4,62.9 480.6,60.0C481.8,57.1 482.7,55.1 483.7,54.9C484.7,54.7 485.5,57.0 486.7,59.0C487.9,61.0 489.4,67.2 490.8,67.2C492.2,67.2 493.8,61.6 495.0,59.0C496.2,56.4 497.0,52.0 498.0,51.8C499.0,51.6 499.9,58.2 501.1,58.0C502.3,57.8 503.8,51.3 505.2,50.8C506.6,50.3 507.9,52.8 509.3,54.9C510.7,57.0 512.3,60.5 513.5,63.1C514.7,65.7 515.3,70.0 516.5,70.3C517.7,70.6 519.2,67.4 520.6,65.2C522.0,63.0 524.1,58.4 524.8,57.0" fill="none" stroke="#7360B8" stroke-width="2.1" stroke-linejoin="round" stroke-linecap="round"/><path d="M319.9,194.0C321.7,190.6 327.8,179.2 330.6,173.6C333.4,167.9 335.0,162.4 336.7,160.0C338.4,157.6 339.2,159.3 340.8,159.0C342.4,158.6 344.3,158.5 346.0,158.0C347.7,157.4 349.2,156.5 351.1,155.8C353.0,155.2 355.2,155.1 357.3,153.8C359.4,152.5 361.3,150.2 363.4,148.1C365.4,146.0 367.5,143.7 369.6,141.1C371.7,138.6 373.9,136.0 375.8,132.9C377.7,129.8 379.2,126.2 380.9,122.6C382.6,119.0 384.6,112.4 386.0,111.1C387.4,109.8 387.9,114.9 389.1,114.8C390.3,114.8 392.0,110.5 393.2,110.6C394.4,110.8 395.1,114.7 396.3,115.5C397.5,116.3 399.0,115.0 400.4,115.5C401.8,116.0 403.1,118.2 404.5,118.6C405.9,119.0 407.2,117.4 408.6,118.1C410.0,118.8 411.4,120.5 412.8,122.7C414.2,124.9 415.4,129.3 416.9,131.3C418.4,133.4 420.5,133.0 422.0,135.0C423.5,137.0 424.6,144.8 426.1,143.2C427.6,141.6 429.1,128.6 431.2,125.1C433.2,121.7 436.2,122.7 438.4,122.7C440.6,122.7 442.5,123.4 444.6,125.0C446.7,126.6 448.8,130.0 450.8,132.2C452.9,134.5 454.8,136.8 456.9,138.3C458.9,139.7 461.0,141.1 463.1,141.1C465.2,141.1 467.2,139.6 469.3,138.6C471.4,137.5 473.3,136.3 475.4,135.0C477.4,133.7 479.5,132.6 481.6,130.8C483.7,129.1 485.8,126.7 487.8,124.7C489.9,122.7 491.8,121.5 493.9,119.1C495.9,116.7 498.2,114.3 500.1,110.3C502.0,106.3 503.5,96.0 505.2,94.8C506.9,93.7 508.7,100.7 510.4,103.6C512.1,106.4 513.8,109.2 515.5,112.1C517.2,115.0 519.1,119.5 520.6,120.9C522.1,122.3 524.1,120.7 524.8,120.6L524.8,151.4C524.1,151.5 522.1,152.7 520.6,151.9C519.1,151.1 517.2,147.9 515.5,146.8C513.8,145.7 512.1,146.9 510.4,145.4C508.7,143.9 506.9,137.9 505.2,137.9C503.5,137.8 502.0,143.1 500.1,145.3C498.2,147.5 495.9,149.6 493.9,150.9C491.8,152.3 489.9,152.7 487.8,153.5C485.8,154.3 483.7,155.2 481.6,155.5C479.5,155.8 477.4,155.1 475.4,155.5C473.3,155.9 471.4,157.4 469.3,158.1C467.2,158.7 465.2,159.0 463.1,159.6C461.0,160.2 458.9,161.6 456.9,161.5C454.8,161.3 452.9,160.2 450.8,158.9C448.8,157.6 446.7,154.9 444.6,153.7C442.5,152.4 440.6,150.5 438.4,151.4C436.2,152.3 433.2,156.8 431.2,159.3C429.1,161.8 427.6,163.5 426.1,166.3C424.6,169.1 423.5,175.0 422.0,176.0C420.5,177.0 418.4,174.4 416.9,172.3C415.4,170.3 414.2,165.9 412.8,163.7C411.4,161.5 410.0,159.8 408.6,159.1C407.2,158.4 405.9,160.5 404.5,159.6C403.1,158.7 401.8,155.3 400.4,153.9C399.0,152.6 397.5,152.1 396.3,151.4C395.1,150.7 394.4,148.7 393.2,149.6C392.0,150.5 390.3,155.8 389.1,156.7C387.9,157.6 387.4,154.0 386.0,154.9C384.6,155.8 382.6,160.7 380.9,162.0C379.2,163.4 377.7,163.0 375.8,163.0C373.9,163.0 371.7,161.9 369.6,162.0C367.5,162.2 365.4,163.2 363.4,163.9C361.3,164.6 359.4,165.7 357.3,166.1C355.2,166.6 353.0,166.4 351.1,166.6C349.2,166.8 347.7,167.3 346.0,167.4C344.3,167.4 342.4,167.1 340.8,167.0C339.2,167.0 338.4,165.1 336.7,167.0C335.0,168.9 333.4,173.7 330.6,178.4C327.8,183.1 321.7,192.2 319.9,195.0Z" fill="#3DA84F" fill-opacity="0.24" stroke="none"/><path d="M319.9,194.5C321.7,191.4 327.8,181.2 330.6,176.1C333.4,171.0 335.0,165.9 336.7,163.7C338.4,161.5 339.2,163.0 340.8,162.7C342.4,162.4 344.3,162.2 346.0,161.7C347.7,161.2 349.2,160.3 351.1,159.6C353.0,158.9 355.2,158.6 357.3,157.6C359.4,156.6 361.3,154.9 363.4,153.5C365.4,152.1 367.5,150.6 369.6,149.4C371.7,148.2 373.9,147.7 375.8,146.3C377.7,144.9 379.2,143.3 380.9,141.1C382.6,138.9 384.6,133.6 386.0,132.9C387.4,132.2 387.9,137.0 389.1,137.0C390.3,137.0 392.0,132.9 393.2,132.9C394.4,132.9 395.1,136.5 396.3,137.0C397.5,137.5 399.0,135.8 400.4,136.0C401.8,136.2 403.1,136.9 404.5,138.1C405.9,139.3 407.2,140.6 408.6,143.2C410.0,145.8 411.4,150.4 412.8,153.5C414.2,156.6 415.4,159.8 416.9,161.7C418.4,163.6 420.5,166.5 422.0,164.8C423.5,163.1 424.6,155.4 426.1,151.4C427.6,147.4 429.1,143.7 431.2,141.1C433.2,138.5 436.2,136.3 438.4,136.0C440.6,135.7 442.5,137.5 444.6,139.1C446.7,140.7 448.8,143.4 450.8,145.3C452.9,147.2 454.8,148.9 456.9,150.4C458.9,151.9 461.0,154.3 463.1,154.5C465.2,154.7 467.2,152.6 469.3,151.4C471.4,150.2 473.3,148.5 475.4,147.3C477.4,146.1 479.5,145.6 481.6,144.2C483.7,142.8 485.8,140.6 487.8,139.1C489.9,137.6 491.8,136.9 493.9,135.0C495.9,133.1 498.2,130.4 500.1,127.8C502.0,125.2 503.5,119.6 505.2,119.6C506.9,119.6 508.7,125.8 510.4,127.8C512.1,129.8 513.8,130.4 515.5,131.9C517.2,133.4 519.1,136.3 520.6,137.0C522.1,137.7 524.1,136.2 524.8,136.0" fill="none" stroke="#3DA84F" stroke-width="2.1" stroke-linejoin="round" stroke-linecap="round"/><path d="M319.9,194.0C321.7,190.8 327.8,179.8 330.6,174.5C333.4,169.3 334.6,164.6 336.7,162.6C338.8,160.5 340.8,162.6 342.9,162.3C344.9,162.1 347.3,160.8 349.0,160.9C350.7,161.1 351.5,163.4 353.2,163.1C354.9,162.7 357.2,160.3 359.3,158.8C361.4,157.3 363.4,155.6 365.5,154.0C367.6,152.5 369.6,150.9 371.7,149.5C373.8,148.1 375.8,146.4 377.8,145.4C379.9,144.4 381.9,144.4 384.0,143.4C386.1,142.4 388.4,139.0 390.1,139.3C391.8,139.6 393.1,143.5 394.3,145.4C395.5,147.3 396.1,150.6 397.3,150.6C398.5,150.6 399.8,148.3 401.4,145.4C402.9,142.5 404.9,134.8 406.6,133.1C408.3,131.4 410.0,133.9 411.7,135.1C413.4,136.3 415.2,139.1 416.9,140.3C418.6,141.5 420.5,142.1 422.0,142.3C423.5,142.5 424.7,140.4 426.1,141.3C427.5,142.2 428.8,146.8 430.2,147.5C431.6,148.2 432.9,146.3 434.3,145.4C435.7,144.5 437.0,143.0 438.4,142.3C439.8,141.6 441.2,140.8 442.6,141.3C444.0,141.8 445.3,143.9 446.7,145.4C448.1,146.9 449.4,150.2 450.8,150.6C452.2,150.9 453.5,148.4 454.9,147.5C456.3,146.6 457.6,145.9 459.0,145.4C460.4,144.9 461.4,144.4 463.1,144.4C464.8,144.4 467.2,145.1 469.3,145.4C471.4,145.7 473.3,146.6 475.4,146.4C477.4,146.2 479.5,144.9 481.6,144.4C483.7,143.9 485.8,143.8 487.8,143.4C489.9,143.1 491.8,141.8 493.9,142.3C495.9,142.8 498.0,145.5 500.1,146.4C502.2,147.3 504.2,147.7 506.3,147.5C508.4,147.3 510.3,145.6 512.4,145.4C514.4,145.2 516.5,145.5 518.6,146.4C520.7,147.3 523.8,149.9 524.8,150.6L524.8,162.6C523.8,161.9 520.7,159.3 518.6,158.4C516.5,157.5 514.4,157.2 512.4,157.4C510.3,157.6 508.4,159.3 506.3,159.5C504.2,159.7 502.2,159.3 500.1,158.4C498.0,157.5 495.9,154.8 493.9,154.3C491.8,153.8 489.9,155.1 487.8,155.4C485.8,155.8 483.7,155.9 481.6,156.4C479.5,156.9 477.4,158.2 475.4,158.4C473.3,158.6 471.4,157.7 469.3,157.4C467.2,157.1 464.8,156.4 463.1,156.4C461.4,156.4 460.4,156.9 459.0,157.4C457.6,157.9 456.3,158.6 454.9,159.5C453.5,160.4 452.2,162.9 450.8,162.6C449.4,162.2 448.1,158.9 446.7,157.4C445.3,155.9 444.0,153.8 442.6,153.3C441.2,152.8 439.8,153.6 438.4,154.3C437.0,155.0 435.7,156.5 434.3,157.4C432.9,158.3 431.6,160.2 430.2,159.5C428.8,158.8 427.5,154.2 426.1,153.3C424.7,152.4 423.5,154.5 422.0,154.3C420.5,154.1 418.6,153.5 416.9,152.3C415.2,151.1 413.4,148.3 411.7,147.1C410.0,145.9 408.3,143.4 406.6,145.1C404.9,146.8 402.9,154.5 401.4,157.4C399.8,160.3 398.5,162.6 397.3,162.6C396.1,162.6 395.5,159.3 394.3,157.4C393.1,155.5 391.8,151.6 390.1,151.3C388.4,151.0 386.1,154.4 384.0,155.4C381.9,156.4 379.9,156.4 377.8,157.4C375.8,158.4 373.8,160.2 371.7,161.5C369.6,162.8 367.6,164.0 365.5,165.2C363.4,166.3 361.4,167.5 359.3,168.6C357.2,169.7 354.9,171.7 353.2,171.7C351.5,171.7 350.7,169.2 349.0,168.7C347.3,168.1 344.9,168.7 342.9,168.5C340.8,168.2 338.8,165.5 336.7,167.0C334.6,168.6 333.4,173.0 330.6,177.7C327.8,182.3 321.7,192.1 319.9,195.0Z" fill="#3762B5" fill-opacity="0.24" stroke="none"/><path d="M319.9,194.5C321.7,191.4 327.8,181.0 330.6,176.1C333.4,171.2 334.6,166.6 336.7,164.8C338.8,163.0 340.8,165.4 342.9,165.4C344.9,165.4 347.3,164.5 349.0,164.8C350.7,165.1 351.5,167.6 353.2,167.4C354.9,167.2 357.2,165.0 359.3,163.7C361.4,162.4 363.4,161.0 365.5,159.6C367.6,158.2 369.6,156.9 371.7,155.5C373.8,154.1 375.8,152.4 377.8,151.4C379.9,150.4 381.9,150.4 384.0,149.4C386.1,148.4 388.4,145.0 390.1,145.3C391.8,145.6 393.1,149.5 394.3,151.4C395.5,153.3 396.1,156.6 397.3,156.6C398.5,156.6 399.8,154.3 401.4,151.4C402.9,148.5 404.9,140.8 406.6,139.1C408.3,137.4 410.0,139.9 411.7,141.1C413.4,142.3 415.2,145.1 416.9,146.3C418.6,147.5 420.5,148.1 422.0,148.3C423.5,148.5 424.7,146.4 426.1,147.3C427.5,148.2 428.8,152.8 430.2,153.5C431.6,154.2 432.9,152.3 434.3,151.4C435.7,150.5 437.0,149.0 438.4,148.3C439.8,147.6 441.2,146.8 442.6,147.3C444.0,147.8 445.3,149.9 446.7,151.4C448.1,152.9 449.4,156.2 450.8,156.6C452.2,156.9 453.5,154.4 454.9,153.5C456.3,152.6 457.6,151.9 459.0,151.4C460.4,150.9 461.4,150.4 463.1,150.4C464.8,150.4 467.2,151.1 469.3,151.4C471.4,151.7 473.3,152.6 475.4,152.4C477.4,152.2 479.5,150.9 481.6,150.4C483.7,149.9 485.8,149.8 487.8,149.4C489.9,149.1 491.8,147.8 493.9,148.3C495.9,148.8 498.0,151.5 500.1,152.4C502.2,153.3 504.2,153.7 506.3,153.5C508.4,153.3 510.3,151.6 512.4,151.4C514.4,151.2 516.5,151.5 518.6,152.4C520.7,153.3 523.8,155.9 524.8,156.6" fill="none" stroke="#3762B5" stroke-width="2.1" stroke-linejoin="round" stroke-linecap="round"/><path d="M319.9,194.0C321.0,193.2 323.7,190.7 326.8,189.0C329.9,187.2 334.7,185.2 338.6,183.7C342.6,182.1 346.6,180.9 350.5,179.6C354.4,178.3 358.8,176.8 362.3,176.0C365.8,175.1 368.4,174.9 371.7,174.5C375.0,174.1 378.5,174.1 381.9,173.6C385.3,173.1 388.8,172.1 392.2,171.4C395.6,170.7 399.8,169.6 402.5,169.3C405.2,169.1 406.7,170.3 408.6,169.9C410.5,169.5 411.6,167.3 413.8,167.2C416.0,167.1 419.6,169.0 422.0,169.2C424.4,169.4 426.1,168.2 428.2,168.2C430.2,168.2 432.2,169.3 434.3,169.1C436.4,168.9 438.4,167.3 440.5,167.0C442.6,166.6 444.6,167.2 446.7,166.9C448.8,166.7 450.8,165.8 452.8,165.5C454.9,165.1 456.9,165.2 459.0,164.9C461.1,164.6 463.1,164.2 465.2,163.7C467.2,163.2 469.2,162.2 471.3,162.1C473.4,162.0 475.4,163.5 477.5,163.2C479.6,163.0 481.6,160.9 483.7,160.6C485.8,160.3 487.8,161.6 489.8,161.5C491.9,161.5 493.9,160.5 496.0,160.5C498.1,160.5 500.1,161.5 502.1,161.5C504.2,161.4 506.2,160.1 508.3,160.4C510.4,160.7 512.8,163.4 514.5,163.4C516.2,163.4 516.9,161.0 518.6,160.3C520.3,159.6 523.8,159.4 524.8,159.2L524.8,168.2C523.8,168.4 520.3,168.6 518.6,169.3C516.9,169.9 516.2,172.2 514.5,172.2C512.8,172.2 510.4,169.5 508.3,169.2C506.2,168.8 504.2,170.2 502.1,170.1C500.1,170.1 498.1,169.1 496.0,169.1C493.9,169.1 491.9,170.1 489.8,170.1C487.8,170.0 485.8,168.8 483.7,169.0C481.6,169.3 479.6,171.4 477.5,171.6C475.4,171.8 473.4,170.3 471.3,170.3C469.2,170.4 467.2,171.5 465.2,171.9C463.1,172.3 461.1,172.7 459.0,172.9C456.9,173.2 454.9,173.2 452.8,173.5C450.8,173.8 448.8,174.6 446.7,174.9C444.6,175.1 442.6,174.5 440.5,174.8C438.4,175.2 436.4,176.7 434.3,176.9C432.2,177.0 430.2,175.8 428.2,175.8C426.1,175.8 424.4,177.0 422.0,176.8C419.6,176.6 416.0,174.5 413.8,174.6C411.6,174.7 410.5,177.0 408.6,177.3C406.7,177.6 405.2,176.4 402.5,176.7C399.8,176.9 395.6,177.9 392.2,178.6C388.8,179.2 385.3,180.3 381.9,180.6C378.5,181.0 375.0,180.6 371.7,180.7C368.4,180.8 365.8,180.7 362.3,181.2C358.8,181.7 354.4,182.7 350.5,183.6C346.6,184.5 342.6,185.4 338.6,186.5C334.7,187.7 329.9,189.2 326.8,190.6C323.7,192.1 321.0,194.3 319.9,195.0Z" fill="#CC3540" fill-opacity="0.24" stroke="none"/><path d="M319.9,194.5C321.0,193.7 323.7,191.4 326.8,189.8C329.9,188.2 334.7,186.5 338.6,185.1C342.6,183.7 346.6,182.7 350.5,181.6C354.4,180.5 358.8,179.3 362.3,178.6C365.8,177.9 368.4,177.8 371.7,177.6C375.0,177.3 378.5,177.5 381.9,177.1C385.3,176.7 388.8,175.7 392.2,175.0C395.6,174.3 399.8,173.2 402.5,173.0C405.2,172.8 406.7,173.9 408.6,173.6C410.5,173.2 411.6,171.0 413.8,170.9C416.0,170.8 419.6,172.8 422.0,173.0C424.4,173.2 426.1,172.0 428.2,172.0C430.2,172.0 432.2,173.2 434.3,173.0C436.4,172.8 438.4,171.2 440.5,170.9C442.6,170.6 444.6,171.1 446.7,170.9C448.8,170.7 450.8,169.8 452.8,169.5C454.9,169.2 456.9,169.2 459.0,168.9C461.1,168.6 463.1,168.2 465.2,167.8C467.2,167.4 469.2,166.3 471.3,166.2C473.4,166.1 475.4,167.6 477.5,167.4C479.6,167.2 481.6,165.1 483.7,164.8C485.8,164.5 487.8,165.8 489.8,165.8C491.9,165.8 493.9,164.8 496.0,164.8C498.1,164.8 500.1,165.8 502.1,165.8C504.2,165.8 506.2,164.5 508.3,164.8C510.4,165.1 512.8,167.8 514.5,167.8C516.2,167.8 516.9,165.5 518.6,164.8C520.3,164.1 523.8,163.9 524.8,163.7" fill="none" stroke="#CC3540" stroke-width="2.1" stroke-linejoin="round" stroke-linecap="round"/><path d="M319.9,194.0C320.9,193.6 323.9,192.6 326.0,191.8C328.1,190.9 329.6,190.4 332.7,188.8C335.8,187.3 341.1,184.6 344.6,182.5C348.2,180.4 351.1,178.8 354.0,176.2C356.9,173.7 360.1,170.8 362.3,167.1C364.5,163.4 365.6,158.4 367.0,154.2C368.4,149.9 369.6,145.4 370.6,141.4C371.6,137.5 371.9,133.3 372.9,130.5C373.9,127.7 375.3,126.2 376.5,124.5C377.7,122.8 378.8,121.3 380.0,120.4C381.2,119.6 382.6,119.3 384.0,119.5C385.4,119.6 386.7,121.7 388.1,121.5C389.5,121.3 390.5,119.7 392.2,118.3C393.9,116.9 396.7,115.0 398.4,113.0C400.1,111.1 401.1,109.9 402.5,106.8C403.9,103.7 405.2,97.7 406.6,94.4C408.0,91.1 409.3,87.8 410.7,87.1C412.1,86.4 413.6,88.4 414.8,90.1C416.0,91.8 416.7,96.4 417.9,97.2C419.1,98.1 420.8,96.7 422.0,95.1C423.2,93.5 424.1,90.1 425.1,87.9C426.1,85.7 427.0,83.8 428.2,81.8C429.4,79.8 430.9,76.8 432.3,75.6C433.7,74.4 435.0,76.1 436.4,74.6C437.8,73.1 439.3,66.8 440.5,66.4C441.7,66.1 442.4,70.3 443.6,72.5C444.8,74.7 446.2,78.2 447.7,79.7C449.2,81.2 451.4,83.2 452.8,81.8C454.2,80.4 454.7,75.5 455.9,71.5C457.1,67.5 458.6,59.1 460.0,58.1C461.4,57.1 462.7,62.7 464.1,65.3C465.5,67.9 466.8,73.5 468.2,73.5C469.6,73.5 470.9,68.2 472.3,65.3C473.7,62.4 475.1,58.3 476.5,56.1C477.9,53.9 479.1,52.2 480.6,52.0C482.1,51.8 484.2,53.4 485.7,55.1C487.2,56.8 488.4,61.8 489.8,62.3C491.2,62.8 492.5,59.8 493.9,58.1C495.3,56.4 496.4,51.6 498.0,52.0C499.6,52.4 501.8,58.2 503.2,60.2C504.6,62.2 505.1,64.3 506.3,64.3C507.5,64.3 508.9,60.0 510.4,60.2C511.9,60.4 514.0,66.1 515.5,65.3C517.0,64.5 518.1,58.7 519.6,55.1C521.1,51.5 523.9,45.7 524.8,43.8L524.8,55.8C523.9,57.7 521.1,63.5 519.6,67.1C518.1,70.7 517.0,76.4 515.5,77.3C514.0,78.2 511.9,72.4 510.4,72.2C508.9,72.0 507.5,76.3 506.3,76.3C505.1,76.3 504.6,74.2 503.2,72.2C501.8,70.2 499.6,64.3 498.0,64.0C496.4,63.6 495.3,68.4 493.9,70.1C492.5,71.8 491.2,74.8 489.8,74.3C488.4,73.8 487.2,68.8 485.7,67.1C484.2,65.4 482.1,63.8 480.6,64.0C479.1,64.2 477.9,65.9 476.5,68.1C475.1,70.3 473.7,74.4 472.3,77.3C470.9,80.2 469.6,85.5 468.2,85.5C466.8,85.5 465.5,79.9 464.1,77.3C462.7,74.7 461.4,69.1 460.0,70.1C458.6,71.1 457.1,79.5 455.9,83.5C454.7,87.5 454.2,92.4 452.8,93.8C451.4,95.2 449.2,93.2 447.7,91.7C446.2,90.2 444.8,86.7 443.6,84.5C442.4,82.3 441.7,78.1 440.5,78.4C439.3,78.8 437.8,85.1 436.4,86.6C435.0,88.1 433.7,86.4 432.3,87.6C430.9,88.8 429.4,91.8 428.2,93.8C427.0,95.8 426.1,97.7 425.1,99.9C424.1,102.1 423.2,105.6 422.0,107.1C420.8,108.6 419.1,110.0 417.9,109.2C416.7,108.3 416.0,103.6 414.8,101.9C413.6,100.2 412.1,98.1 410.7,98.7C409.3,99.4 408.0,102.6 406.6,105.8C405.2,109.0 403.9,115.0 402.5,118.0C401.1,121.1 400.1,122.3 398.4,124.1C396.7,126.0 393.9,127.8 392.2,129.1C390.5,130.5 389.5,132.0 388.1,132.1C386.7,132.3 385.4,130.2 384.0,129.9C382.6,129.7 381.2,130.0 380.0,130.8C378.8,131.6 377.7,133.1 376.5,134.7C375.3,136.3 373.9,137.8 372.9,140.5C371.9,143.2 371.6,147.2 370.6,150.8C369.6,154.3 368.4,158.1 367.0,161.7C365.6,165.2 364.5,169.3 362.3,172.3C360.1,175.3 356.9,177.6 354.0,179.8C351.1,182.0 348.2,183.5 344.6,185.3C341.1,187.2 335.8,189.5 332.7,190.8C329.6,192.1 328.1,192.5 326.0,193.2C323.9,193.9 320.9,194.7 319.9,195.0Z" fill="#D2B964" fill-opacity="0.24" stroke="none"/><path d="M319.9,194.5C320.9,194.2 323.9,193.3 326.0,192.5C328.1,191.7 329.6,191.2 332.7,189.8C335.8,188.4 341.1,185.9 344.6,183.9C348.2,181.9 351.1,180.4 354.0,178.0C356.9,175.6 360.1,173.0 362.3,169.7C364.5,166.3 365.6,161.8 367.0,157.9C368.4,154.0 369.6,149.8 370.6,146.1C371.6,142.4 371.9,138.2 372.9,135.5C373.9,132.8 375.3,131.2 376.5,129.6C377.7,127.9 378.8,126.4 380.0,125.6C381.2,124.8 382.6,124.5 384.0,124.7C385.4,124.9 386.7,127.0 388.1,126.8C389.5,126.6 390.5,125.1 392.2,123.7C393.9,122.3 396.7,120.5 398.4,118.6C400.1,116.7 401.1,115.5 402.5,112.4C403.9,109.3 405.2,103.3 406.6,100.1C408.0,96.8 409.3,93.6 410.7,92.9C412.1,92.2 413.6,94.3 414.8,96.0C416.0,97.7 416.7,102.4 417.9,103.2C419.1,104.0 420.8,102.6 422.0,101.1C423.2,99.5 424.1,96.1 425.1,93.9C426.1,91.7 427.0,89.8 428.2,87.8C429.4,85.8 430.9,82.8 432.3,81.6C433.7,80.4 435.0,82.1 436.4,80.6C437.8,79.1 439.3,72.8 440.5,72.4C441.7,72.1 442.4,76.3 443.6,78.5C444.8,80.7 446.2,84.2 447.7,85.7C449.2,87.2 451.4,89.2 452.8,87.8C454.2,86.4 454.7,81.5 455.9,77.5C457.1,73.5 458.6,65.1 460.0,64.1C461.4,63.1 462.7,68.7 464.1,71.3C465.5,73.9 466.8,79.5 468.2,79.5C469.6,79.5 470.9,74.2 472.3,71.3C473.7,68.4 475.1,64.3 476.5,62.1C477.9,59.9 479.1,58.2 480.6,58.0C482.1,57.8 484.2,59.4 485.7,61.1C487.2,62.8 488.4,67.8 489.8,68.3C491.2,68.8 492.5,65.8 493.9,64.1C495.3,62.4 496.4,57.6 498.0,58.0C499.6,58.4 501.8,64.2 503.2,66.2C504.6,68.2 505.1,70.3 506.3,70.3C507.5,70.3 508.9,66.0 510.4,66.2C511.9,66.4 514.0,72.1 515.5,71.3C517.0,70.5 518.1,64.7 519.6,61.1C521.1,57.5 523.9,51.7 524.8,49.8" fill="none" stroke="#D2B964" stroke-width="2.1" stroke-linejoin="round" stroke-linecap="round"/><path d="M319.9,194.0C320.7,192.8 322.9,189.1 324.5,186.9C326.1,184.8 326.7,182.8 329.4,181.0C332.1,179.2 337.3,177.7 340.8,176.0C344.3,174.4 346.9,173.0 350.5,171.2C354.1,169.4 359.4,167.0 362.3,165.2C365.2,163.4 366.6,161.2 368.2,160.4C369.8,159.6 369.4,161.9 371.7,160.6C374.0,159.2 378.5,155.0 381.9,152.2C385.3,149.4 388.8,146.7 392.2,143.9C395.6,141.1 399.1,138.2 402.5,135.2C405.9,132.2 410.1,128.8 412.8,125.7C415.5,122.6 417.4,119.5 418.9,116.7C420.4,114.0 420.8,111.1 422.0,109.4C423.2,107.7 424.7,107.3 426.1,106.3C427.5,105.3 428.8,104.3 430.2,103.3C431.6,102.3 432.8,101.2 434.3,100.2C435.9,99.2 438.1,97.4 439.5,97.1C440.9,96.8 441.4,98.9 442.6,98.1C443.8,97.2 445.2,93.7 446.7,92.0C448.2,90.3 450.3,88.4 451.8,87.9C453.3,87.4 454.5,89.2 455.9,88.9C457.3,88.6 458.6,86.0 460.0,85.8C461.4,85.6 462.6,89.6 464.1,87.9C465.7,86.2 467.8,76.9 469.3,75.5C470.9,74.1 471.9,79.2 473.4,79.7C474.9,80.2 477.0,77.6 478.5,78.6C480.0,79.6 481.2,85.6 482.6,85.8C484.0,86.0 485.1,81.6 486.7,79.7C488.2,77.8 490.2,76.0 491.9,74.5C493.6,73.0 495.6,70.1 497.0,70.4C498.4,70.8 498.9,76.8 500.1,76.6C501.3,76.4 503.0,71.3 504.2,69.4C505.4,67.5 505.9,65.8 507.3,65.3C508.7,64.8 510.9,64.9 512.4,66.3C513.9,67.7 515.1,73.3 516.5,73.5C517.9,73.7 519.2,69.0 520.6,67.3C522.0,65.6 524.1,63.9 524.8,63.2L524.8,71.2C524.1,71.9 522.0,73.6 520.6,75.3C519.2,77.0 517.9,81.7 516.5,81.5C515.1,81.3 513.9,75.7 512.4,74.3C510.9,72.9 508.7,72.8 507.3,73.3C505.9,73.8 505.4,75.5 504.2,77.4C503.0,79.3 501.3,84.4 500.1,84.6C498.9,84.8 498.4,78.8 497.0,78.4C495.6,78.1 493.6,81.0 491.9,82.5C490.2,84.0 488.2,85.8 486.7,87.7C485.1,89.6 484.0,94.0 482.6,93.8C481.2,93.6 480.0,87.6 478.5,86.6C477.0,85.6 474.9,88.2 473.4,87.7C471.9,87.2 470.9,82.1 469.3,83.5C467.8,84.9 465.7,94.2 464.1,95.9C462.6,97.6 461.4,93.6 460.0,93.8C458.6,94.0 457.3,96.6 455.9,96.9C454.5,97.2 453.3,95.4 451.8,95.9C450.3,96.4 448.2,98.3 446.7,100.0C445.2,101.7 443.8,105.2 442.6,106.1C441.4,106.9 440.9,104.8 439.5,105.1C438.1,105.4 435.9,107.2 434.3,108.2C432.8,109.2 431.6,110.3 430.2,111.3C428.8,112.3 427.5,113.3 426.1,114.3C424.7,115.3 423.2,115.7 422.0,117.4C420.8,119.1 420.4,122.0 418.9,124.5C417.4,126.9 415.5,129.5 412.8,131.9C410.1,134.3 405.9,136.3 402.5,138.8C399.1,141.3 395.6,144.0 392.2,146.7C388.8,149.4 385.3,152.1 381.9,154.8C378.5,157.5 374.0,161.5 371.7,162.8C369.4,164.2 369.8,161.9 368.2,162.6C366.6,163.3 365.2,165.5 362.3,167.2C359.4,169.0 354.1,171.3 350.5,173.0C346.9,174.7 344.3,176.0 340.8,177.6C337.3,179.1 332.1,180.5 329.4,182.2C326.7,184.0 326.1,185.9 324.5,188.1C322.9,190.2 320.7,193.8 319.9,195.0Z" fill="#48B4D8" fill-opacity="0.24" stroke="none"/><path d="M319.9,194.5C320.7,193.3 322.9,189.7 324.5,187.5C326.1,185.3 326.7,183.4 329.4,181.6C332.1,179.8 337.3,178.4 340.8,176.8C344.3,175.2 346.9,173.9 350.5,172.1C354.1,170.3 359.4,168.0 362.3,166.2C365.2,164.4 366.6,162.2 368.2,161.5C369.8,160.8 369.4,163.0 371.7,161.7C374.0,160.4 378.5,156.2 381.9,153.5C385.3,150.8 388.8,148.1 392.2,145.3C395.6,142.6 399.1,139.8 402.5,137.0C405.9,134.2 410.1,131.5 412.8,128.8C415.5,126.1 417.4,123.2 418.9,120.6C420.4,118.0 420.8,115.1 422.0,113.4C423.2,111.7 424.7,111.3 426.1,110.3C427.5,109.3 428.8,108.3 430.2,107.3C431.6,106.3 432.8,105.2 434.3,104.2C435.9,103.2 438.1,101.4 439.5,101.1C440.9,100.8 441.4,102.9 442.6,102.1C443.8,101.2 445.2,97.7 446.7,96.0C448.2,94.3 450.3,92.4 451.8,91.9C453.3,91.4 454.5,93.2 455.9,92.9C457.3,92.6 458.6,90.0 460.0,89.8C461.4,89.6 462.6,93.6 464.1,91.9C465.7,90.2 467.8,80.9 469.3,79.5C470.9,78.1 471.9,83.2 473.4,83.7C474.9,84.2 477.0,81.6 478.5,82.6C480.0,83.6 481.2,89.6 482.6,89.8C484.0,90.0 485.1,85.6 486.7,83.7C488.2,81.8 490.2,80.0 491.9,78.5C493.6,77.0 495.6,74.1 497.0,74.4C498.4,74.8 498.9,80.8 500.1,80.6C501.3,80.4 503.0,75.3 504.2,73.4C505.4,71.5 505.9,69.8 507.3,69.3C508.7,68.8 510.9,68.9 512.4,70.3C513.9,71.7 515.1,77.3 516.5,77.5C517.9,77.7 519.2,73.0 520.6,71.3C522.0,69.6 524.1,67.9 524.8,67.2" fill="none" stroke="#48B4D8" stroke-width="2.1" stroke-linejoin="round" stroke-linecap="round"/>
</g>
</g>
<g id="p3">
<rect x="39.0" y="239.6" width="225.5" height="183.8" fill="#EAEAF2"/>
<line x1="39.0" x2="264.5" y1="268.4" y2="268.4" stroke="#ffffff" stroke-width="1.2"/>
<line x1="39.0" x2="264.5" y1="298.2" y2="298.2" stroke="#ffffff" stroke-width="1.2"/>
<line x1="39.0" x2="264.5" y1="328.0" y2="328.0" stroke="#ffffff" stroke-width="1.2"/>
<line x1="39.0" x2="264.5" y1="357.9" y2="357.9" stroke="#ffffff" stroke-width="1.2"/>
<line x1="39.0" x2="264.5" y1="387.7" y2="387.7" stroke="#ffffff" stroke-width="1.2"/>
<line x1="39.0" x2="264.5" y1="417.5" y2="417.5" stroke="#ffffff" stroke-width="1.2"/>
<line x1="49.6" x2="49.6" y1="239.6" y2="423.4" stroke="#ffffff" stroke-width="1.2"/>
<line x1="254.5" x2="254.5" y1="239.6" y2="423.4" stroke="#ffffff" stroke-width="1.2"/>
<clipPath id="cp3"><rect x="39.0" y="239.6" width="225.5" height="183.8"/></clipPath>
<g clip-path="url(#cp3)">
<path d="M49.2,378.0C50.1,377.1 52.7,375.0 54.5,372.8C56.3,370.6 58.6,367.7 60.2,364.8C61.8,361.8 62.6,358.7 64.0,355.1C65.4,351.4 67.1,347.0 68.7,342.9C70.3,338.8 71.9,333.9 73.5,330.5C75.1,327.1 76.6,324.5 78.2,322.6C79.8,320.6 81.4,319.8 83.0,318.7C84.6,317.6 86.1,316.6 87.7,315.8C89.3,315.0 90.4,314.3 92.4,313.9C94.5,313.4 97.8,313.7 100.0,313.3C102.2,313.0 103.8,311.8 105.8,312.0C107.8,312.1 109.9,313.3 111.9,314.0C114.0,314.8 116.0,315.4 118.1,316.2C120.2,317.0 122.2,318.3 124.3,318.7C126.3,319.1 128.0,318.1 130.4,318.7C132.8,319.3 135.8,321.1 138.6,322.5C141.3,323.8 144.7,325.6 146.9,326.9C149.1,328.1 150.1,329.2 152.0,330.1C153.9,331.1 156.1,331.5 158.2,332.4C160.2,333.3 161.9,334.5 164.3,335.5C166.7,336.5 169.5,337.8 172.6,338.2C175.7,338.6 179.4,337.7 182.8,338.0C186.2,338.3 189.7,339.5 193.1,340.1C196.5,340.7 200.0,341.2 203.4,341.7C206.8,342.2 210.6,342.4 213.7,343.3C216.8,344.2 219.5,345.5 221.9,346.8C224.3,348.1 225.9,350.4 228.0,350.9C230.1,351.4 231.8,349.7 234.2,349.9C236.6,350.1 240.0,351.9 242.4,352.0C244.8,352.1 246.5,350.7 248.6,350.5C250.7,350.3 253.8,350.8 254.8,350.9L254.8,354.9C253.8,354.8 250.7,354.3 248.6,354.5C246.5,354.7 244.8,356.1 242.4,356.0C240.0,355.9 236.6,354.1 234.2,353.9C231.8,353.7 230.1,355.4 228.0,354.9C225.9,354.4 224.3,352.1 221.9,350.8C219.5,349.5 216.8,348.2 213.7,347.3C210.6,346.4 206.8,346.2 203.4,345.7C200.0,345.2 196.5,344.7 193.1,344.1C189.7,343.5 186.2,342.3 182.8,342.0C179.4,341.7 175.7,342.6 172.6,342.2C169.5,341.8 166.7,340.4 164.3,339.5C161.9,338.6 160.2,337.4 158.2,336.6C156.1,335.8 153.9,335.5 152.0,334.7C150.1,333.9 149.1,332.9 146.9,331.7C144.7,330.6 141.3,329.1 138.6,327.9C135.8,326.7 132.8,325.1 130.4,324.7C128.0,324.3 126.3,325.6 124.3,325.5C122.2,325.4 120.2,324.5 118.1,324.0C116.0,323.5 114.0,323.3 111.9,322.8C109.9,322.2 107.8,321.0 105.8,320.8C103.8,320.7 102.2,321.8 100.0,322.1C97.8,322.3 94.5,322.0 92.4,322.3C90.4,322.7 89.3,323.4 87.7,324.2C86.1,324.9 84.6,325.8 83.0,326.9C81.4,328.0 79.8,328.8 78.2,330.6C76.6,332.5 75.1,335.0 73.5,337.9C71.9,340.8 70.3,344.8 68.7,348.3C67.1,351.8 65.4,355.6 64.0,358.9C62.6,362.2 61.8,365.3 60.2,368.0C58.6,370.7 56.3,373.2 54.5,375.2C52.7,377.1 50.1,378.9 49.2,379.6Z" fill="#CC3540" fill-opacity="0.24" stroke="none"/><path d="M49.2,378.8C50.1,378.0 52.7,376.1 54.5,374.0C56.3,371.9 58.6,369.2 60.2,366.4C61.8,363.6 62.6,360.5 64.0,357.0C65.4,353.5 67.1,349.4 68.7,345.6C70.3,341.8 71.9,337.4 73.5,334.2C75.1,331.0 76.6,328.5 78.2,326.6C79.8,324.7 81.4,323.9 83.0,322.8C84.6,321.7 86.1,320.8 87.7,320.0C89.3,319.2 90.4,318.5 92.4,318.1C94.5,317.7 97.8,318.0 100.0,317.7C102.2,317.4 103.8,316.3 105.8,316.4C107.8,316.5 109.9,317.8 111.9,318.4C114.0,319.0 116.0,319.5 118.1,320.1C120.2,320.7 122.2,321.8 124.3,322.1C126.3,322.4 128.0,321.2 130.4,321.7C132.8,322.2 135.8,323.9 138.6,325.2C141.3,326.5 144.7,328.1 146.9,329.3C149.1,330.5 150.1,331.5 152.0,332.4C153.9,333.3 156.1,333.6 158.2,334.5C160.2,335.4 161.9,336.6 164.3,337.5C166.7,338.4 169.5,339.8 172.6,340.2C175.7,340.6 179.4,339.7 182.8,340.0C186.2,340.3 189.7,341.5 193.1,342.1C196.5,342.7 200.0,343.2 203.4,343.7C206.8,344.2 210.6,344.4 213.7,345.3C216.8,346.2 219.5,347.5 221.9,348.8C224.3,350.1 225.9,352.4 228.0,352.9C230.1,353.4 231.8,351.7 234.2,351.9C236.6,352.1 240.0,353.9 242.4,354.0C244.8,354.1 246.5,352.7 248.6,352.5C250.7,352.3 253.8,352.8 254.8,352.9" fill="none" stroke="#CC3540" stroke-width="2.1" stroke-linejoin="round" stroke-linecap="round"/><path d="M49.2,403.2C50.4,403.6 53.9,404.7 56.4,405.5C58.9,406.3 61.1,407.2 64.0,407.8C66.8,408.4 70.3,408.6 73.5,408.9C76.7,409.2 79.8,409.4 83.0,409.7C86.2,410.0 89.3,410.8 92.4,410.8C95.5,410.8 98.5,409.5 101.7,409.6C105.0,409.7 107.8,411.2 111.9,411.3C116.0,411.4 122.5,410.1 126.3,410.0C130.1,409.9 131.8,410.9 134.5,410.7C137.2,410.5 139.9,408.8 142.8,408.6C145.7,408.4 148.4,409.5 152.0,409.6C155.6,409.7 160.2,409.3 164.3,409.2C168.4,409.1 173.3,408.4 176.7,408.8C180.1,409.2 182.2,411.2 184.9,411.3C187.6,411.4 190.0,409.5 193.1,409.2C196.2,408.9 200.0,409.5 203.4,409.6C206.8,409.7 210.3,409.4 213.7,410.0C217.1,410.6 221.0,413.5 223.9,413.3C226.8,413.1 228.3,409.2 231.1,408.6C233.8,408.0 236.4,409.4 240.4,409.6C244.4,409.8 252.4,409.6 254.8,409.6L254.8,411.2C252.4,411.2 244.4,411.4 240.4,411.2C236.4,411.0 233.8,409.6 231.1,410.2C228.3,410.8 226.8,414.7 223.9,414.9C221.0,415.1 217.1,412.2 213.7,411.6C210.3,411.0 206.8,411.3 203.4,411.2C200.0,411.1 196.2,410.5 193.1,410.8C190.0,411.1 187.6,413.0 184.9,412.9C182.2,412.8 180.1,410.8 176.7,410.4C173.3,410.1 168.4,410.7 164.3,410.8C160.2,410.9 155.6,411.3 152.0,411.2C148.4,411.1 145.7,410.0 142.8,410.2C139.9,410.4 137.2,412.1 134.5,412.3C131.8,412.5 130.1,411.5 126.3,411.6C122.5,411.7 116.0,413.0 111.9,412.9C107.8,412.8 105.0,411.3 101.7,411.2C98.5,411.1 95.5,412.4 92.4,412.4C89.3,412.4 86.2,411.6 83.0,411.3C79.8,411.0 76.7,410.8 73.5,410.5C70.3,410.2 66.8,410.0 64.0,409.4C61.1,408.8 58.9,407.9 56.4,407.1C53.9,406.3 50.4,405.2 49.2,404.8Z" fill="#48B4D8" fill-opacity="0.24" stroke="none"/><path d="M49.2,404.0C50.4,404.4 53.9,405.5 56.4,406.3C58.9,407.1 61.1,408.0 64.0,408.6C66.8,409.2 70.3,409.4 73.5,409.7C76.7,410.0 79.8,410.2 83.0,410.5C86.2,410.8 89.3,411.6 92.4,411.6C95.5,411.6 98.5,410.3 101.7,410.4C105.0,410.5 107.8,412.0 111.9,412.1C116.0,412.2 122.5,410.9 126.3,410.8C130.1,410.7 131.8,411.7 134.5,411.5C137.2,411.3 139.9,409.6 142.8,409.4C145.7,409.2 148.4,410.3 152.0,410.4C155.6,410.5 160.2,410.1 164.3,410.0C168.4,409.9 173.3,409.2 176.7,409.6C180.1,410.0 182.2,412.0 184.9,412.1C187.6,412.2 190.0,410.3 193.1,410.0C196.2,409.7 200.0,410.3 203.4,410.4C206.8,410.5 210.3,410.2 213.7,410.8C217.1,411.4 221.0,414.3 223.9,414.1C226.8,413.9 228.3,410.0 231.1,409.4C233.8,408.8 236.4,410.2 240.4,410.4C244.4,410.6 252.4,410.4 254.8,410.4" fill="none" stroke="#48B4D8" stroke-width="2.1" stroke-linejoin="round" stroke-linecap="round"/><path d="M49.2,401.9C49.9,401.4 52.3,401.2 53.5,399.0C54.7,396.8 55.3,392.9 56.4,388.6C57.5,384.3 58.9,378.4 60.2,373.4C61.5,368.3 62.6,363.3 64.0,358.3C65.4,353.2 67.1,347.5 68.7,343.1C70.3,338.7 71.8,335.5 73.5,331.7C75.2,327.9 77.0,323.9 79.2,320.3C81.4,316.7 84.2,313.2 86.7,309.9C89.2,306.6 92.1,303.1 94.3,300.4C96.5,297.7 97.4,296.0 100.0,293.7C102.6,291.4 106.2,289.0 109.9,286.7C113.6,284.4 118.1,282.1 122.2,280.0C126.3,277.9 129.5,276.3 134.5,274.3C139.5,272.3 145.7,269.9 152.0,268.1C158.3,266.3 165.8,265.0 172.6,263.6C179.4,262.2 186.2,260.5 193.1,259.5C199.9,258.5 206.8,258.1 213.7,257.5C220.5,256.9 227.3,256.3 234.2,255.8C241.0,255.3 251.4,254.6 254.8,254.4L254.8,255.6C251.4,255.8 241.0,256.5 234.2,257.0C227.3,257.5 220.5,258.1 213.7,258.7C206.8,259.3 199.9,259.7 193.1,260.7C186.2,261.7 179.4,263.4 172.6,264.8C165.8,266.2 158.3,267.5 152.0,269.3C145.7,271.1 139.5,273.5 134.5,275.5C129.5,277.5 126.3,279.1 122.2,281.2C118.1,283.3 113.6,285.6 109.9,287.9C106.2,290.2 102.6,292.6 100.0,294.9C97.4,297.2 96.5,298.9 94.3,301.6C92.1,304.3 89.2,307.8 86.7,311.1C84.2,314.4 81.4,317.9 79.2,321.5C77.0,325.1 75.2,329.1 73.5,332.9C71.8,336.7 70.3,339.9 68.7,344.3C67.1,348.7 65.4,354.4 64.0,359.5C62.6,364.6 61.5,369.6 60.2,374.6C58.9,379.7 57.5,385.5 56.4,389.8C55.3,394.1 54.7,398.0 53.5,400.2C52.3,402.4 49.9,402.6 49.2,403.1Z" fill="#D2B964" fill-opacity="0.24" stroke="none"/><path d="M49.2,402.5C49.9,402.0 52.3,401.8 53.5,399.6C54.7,397.4 55.3,393.5 56.4,389.2C57.5,384.9 58.9,379.1 60.2,374.0C61.5,368.9 62.6,363.9 64.0,358.9C65.4,353.8 67.1,348.1 68.7,343.7C70.3,339.3 71.8,336.1 73.5,332.3C75.2,328.5 77.0,324.5 79.2,320.9C81.4,317.3 84.2,313.8 86.7,310.5C89.2,307.2 92.1,303.7 94.3,301.0C96.5,298.3 97.4,296.6 100.0,294.3C102.6,292.0 106.2,289.6 109.9,287.3C113.6,285.0 118.1,282.7 122.2,280.6C126.3,278.5 129.5,276.9 134.5,274.9C139.5,272.9 145.7,270.5 152.0,268.7C158.3,266.9 165.8,265.6 172.6,264.2C179.4,262.8 186.2,261.1 193.1,260.1C199.9,259.1 206.8,258.7 213.7,258.1C220.5,257.5 227.3,256.9 234.2,256.4C241.0,255.9 251.4,255.2 254.8,255.0" fill="none" stroke="#D2B964" stroke-width="2.1" stroke-linejoin="round" stroke-linecap="round"/><path d="M49.2,385.8C49.8,381.7 51.6,368.1 52.6,361.1C53.6,354.2 54.3,349.8 55.4,344.1C56.5,338.4 57.8,332.1 59.2,327.0C60.6,321.9 62.2,317.5 64.0,313.7C65.8,309.9 67.8,306.9 69.7,304.2C71.6,301.5 73.2,299.6 75.4,297.6C77.6,295.7 80.5,293.9 83.0,292.5C85.5,291.1 87.7,290.1 90.5,289.0C93.3,287.9 97.1,287.0 100.0,286.2C102.9,285.4 105.5,284.4 107.8,284.0C110.1,283.6 111.1,283.9 114.0,283.5C116.9,283.1 121.5,282.2 125.0,281.5C128.5,280.8 132.0,280.1 135.0,279.5C138.0,278.9 141.0,278.0 142.8,277.6C144.6,277.2 144.8,277.6 146.0,277.0C147.2,276.4 149.0,274.6 150.0,273.9C151.0,273.2 151.3,273.1 152.0,272.9C152.7,272.7 152.6,272.2 154.0,272.9C155.4,273.6 157.8,276.4 160.2,277.0C162.6,277.6 165.7,276.9 168.4,276.6C171.2,276.4 173.9,275.8 176.7,275.5C179.4,275.2 182.2,275.3 184.9,274.9C187.6,274.5 190.4,273.1 193.1,272.9C195.8,272.7 198.6,273.5 201.3,273.9C204.0,274.3 206.8,275.1 209.5,275.5C212.2,275.9 214.4,276.0 217.8,276.0C221.2,276.0 226.3,275.7 230.1,275.5C233.9,275.3 236.3,275.0 240.4,274.9C244.5,274.8 252.4,274.9 254.8,274.9L254.8,276.9C252.4,276.9 244.5,276.8 240.4,276.9C236.3,277.0 233.9,277.3 230.1,277.5C226.3,277.7 221.2,278.0 217.8,278.0C214.4,278.0 212.2,277.9 209.5,277.5C206.8,277.1 204.0,276.3 201.3,275.9C198.6,275.5 195.8,274.7 193.1,274.9C190.4,275.1 187.6,276.5 184.9,276.9C182.2,277.3 179.4,277.2 176.7,277.5C173.9,277.8 171.2,278.4 168.4,278.6C165.7,278.9 162.6,279.6 160.2,279.0C157.8,278.4 155.4,275.6 154.0,274.9C152.6,274.2 152.7,274.7 152.0,274.9C151.3,275.1 151.0,275.2 150.0,275.9C149.0,276.6 147.2,278.4 146.0,279.0C144.8,279.6 144.6,279.2 142.8,279.6C141.0,280.0 138.0,280.9 135.0,281.5C132.0,282.1 128.5,282.8 125.0,283.5C121.5,284.2 116.9,285.1 114.0,285.5C111.1,285.9 110.1,285.6 107.8,286.0C105.5,286.4 102.9,287.4 100.0,288.2C97.1,289.0 93.3,289.9 90.5,291.0C87.7,292.1 85.5,293.1 83.0,294.5C80.5,295.9 77.6,297.7 75.4,299.6C73.2,301.6 71.6,303.5 69.7,306.2C67.8,308.9 65.8,311.9 64.0,315.7C62.2,319.5 60.6,323.9 59.2,329.0C57.8,334.1 56.5,340.4 55.4,346.1C54.3,351.8 53.6,356.2 52.6,363.1C51.6,370.1 49.8,383.7 49.2,387.8Z" fill="#3762B5" fill-opacity="0.24" stroke="none"/><path d="M49.2,386.8C49.8,382.7 51.6,369.1 52.6,362.1C53.6,355.2 54.3,350.8 55.4,345.1C56.5,339.4 57.8,333.1 59.2,328.0C60.6,322.9 62.2,318.5 64.0,314.7C65.8,310.9 67.8,307.9 69.7,305.2C71.6,302.5 73.2,300.6 75.4,298.6C77.6,296.7 80.5,294.9 83.0,293.5C85.5,292.1 87.7,291.1 90.5,290.0C93.3,288.9 97.1,288.0 100.0,287.2C102.9,286.4 105.5,285.4 107.8,285.0C110.1,284.6 111.1,284.9 114.0,284.5C116.9,284.1 121.5,283.2 125.0,282.5C128.5,281.8 132.0,281.1 135.0,280.5C138.0,279.9 141.0,279.0 142.8,278.6C144.6,278.2 144.8,278.6 146.0,278.0C147.2,277.4 149.0,275.6 150.0,274.9C151.0,274.2 151.3,274.1 152.0,273.9C152.7,273.7 152.6,273.2 154.0,273.9C155.4,274.6 157.8,277.4 160.2,278.0C162.6,278.6 165.7,277.9 168.4,277.6C171.2,277.4 173.9,276.8 176.7,276.5C179.4,276.2 182.2,276.3 184.9,275.9C187.6,275.5 190.4,274.1 193.1,273.9C195.8,273.7 198.6,274.5 201.3,274.9C204.0,275.3 206.8,276.1 209.5,276.5C212.2,276.9 214.4,277.0 217.8,277.0C221.2,277.0 226.3,276.7 230.1,276.5C233.9,276.3 236.3,276.0 240.4,275.9C244.5,275.8 252.4,275.9 254.8,275.9" fill="none" stroke="#3762B5" stroke-width="2.1" stroke-linejoin="round" stroke-linecap="round"/><path d="M49.2,386.5C49.8,382.4 51.6,368.8 52.6,361.8C53.6,354.9 54.3,350.5 55.4,344.8C56.5,339.1 57.8,332.8 59.2,327.7C60.6,322.6 62.2,318.2 64.0,314.4C65.8,310.6 67.8,307.6 69.7,304.9C71.6,302.2 73.2,300.2 75.4,298.3C77.6,296.4 80.5,294.6 83.0,293.2C85.5,291.8 87.7,290.8 90.5,289.7C93.3,288.6 97.1,287.8 100.0,286.9C102.9,286.0 104.8,285.2 107.8,284.5C110.8,283.8 114.3,283.1 118.1,282.5C121.9,281.9 126.3,281.4 130.4,280.9C134.5,280.4 139.2,280.0 142.8,279.7C146.4,279.4 147.0,279.4 152.0,279.2C157.0,279.0 165.8,278.8 172.6,278.6C179.4,278.4 186.2,278.3 193.1,278.2C199.9,278.1 206.8,277.9 213.7,277.8C220.5,277.7 227.3,277.5 234.2,277.4C241.0,277.3 251.4,277.4 254.8,277.4L254.8,279.0C251.4,279.0 241.0,278.9 234.2,279.0C227.3,279.1 220.5,279.3 213.7,279.4C206.8,279.5 199.9,279.7 193.1,279.8C186.2,279.9 179.4,280.0 172.6,280.2C165.8,280.4 157.0,280.6 152.0,280.8C147.0,281.0 146.4,281.0 142.8,281.3C139.2,281.6 134.5,282.0 130.4,282.5C126.3,283.0 121.9,283.5 118.1,284.1C114.3,284.7 110.8,285.4 107.8,286.1C104.8,286.8 102.9,287.6 100.0,288.5C97.1,289.4 93.3,290.2 90.5,291.3C87.7,292.4 85.5,293.4 83.0,294.8C80.5,296.2 77.6,298.0 75.4,299.9C73.2,301.9 71.6,303.8 69.7,306.5C67.8,309.2 65.8,312.2 64.0,316.0C62.2,319.8 60.6,324.2 59.2,329.3C57.8,334.4 56.5,340.7 55.4,346.4C54.3,352.1 53.6,356.5 52.6,363.4C51.6,370.4 49.8,384.0 49.2,388.1Z" fill="#3DA84F" fill-opacity="0.24" stroke="none"/><path d="M49.2,387.3C49.8,383.2 51.6,369.6 52.6,362.6C53.6,355.7 54.3,351.3 55.4,345.6C56.5,339.9 57.8,333.6 59.2,328.5C60.6,323.4 62.2,319.0 64.0,315.2C65.8,311.4 67.8,308.4 69.7,305.7C71.6,303.0 73.2,301.1 75.4,299.1C77.6,297.2 80.5,295.4 83.0,294.0C85.5,292.6 87.7,291.6 90.5,290.5C93.3,289.4 97.1,288.6 100.0,287.7C102.9,286.8 104.8,286.0 107.8,285.3C110.8,284.6 114.3,283.9 118.1,283.3C121.9,282.7 126.3,282.2 130.4,281.7C134.5,281.2 139.2,280.8 142.8,280.5C146.4,280.2 147.0,280.2 152.0,280.0C157.0,279.8 165.8,279.6 172.6,279.4C179.4,279.2 186.2,279.1 193.1,279.0C199.9,278.9 206.8,278.7 213.7,278.6C220.5,278.5 227.3,278.3 234.2,278.2C241.0,278.1 251.4,278.2 254.8,278.2" fill="none" stroke="#3DA84F" stroke-width="2.1" stroke-linejoin="round" stroke-linecap="round"/><path d="M49.2,368.7C49.6,363.8 50.9,347.4 51.6,339.3C52.3,331.2 52.8,326.6 53.5,320.3C54.2,314.0 55.0,307.6 56.0,301.3C57.0,295.0 58.0,287.4 59.2,282.4C60.4,277.3 61.6,274.2 63.0,271.0C64.4,267.8 66.0,265.5 67.8,263.4C69.5,261.3 71.0,260.0 73.5,258.6C76.0,257.2 79.8,255.8 83.0,254.8C86.2,253.9 89.6,253.4 92.4,252.9C95.2,252.4 95.7,252.4 100.0,252.0C104.3,251.6 112.3,251.0 118.1,250.7C123.8,250.4 128.8,250.3 134.5,250.1C140.2,249.9 145.7,249.9 152.0,249.7C158.3,249.5 164.7,249.0 172.6,249.1C180.5,249.2 190.8,250.2 199.3,250.1C207.9,250.0 214.7,248.9 223.9,248.6C233.2,248.3 249.7,248.3 254.8,248.2L254.8,249.4C249.7,249.5 233.2,249.5 223.9,249.8C214.7,250.1 207.9,251.2 199.3,251.3C190.8,251.4 180.5,250.4 172.6,250.3C164.7,250.2 158.3,250.7 152.0,250.9C145.7,251.1 140.2,251.1 134.5,251.3C128.8,251.5 123.8,251.6 118.1,251.9C112.3,252.2 104.3,252.8 100.0,253.2C95.7,253.6 95.2,253.6 92.4,254.1C89.6,254.6 86.2,255.1 83.0,256.0C79.8,256.9 76.0,258.4 73.5,259.8C71.0,261.2 69.5,262.5 67.8,264.6C66.0,266.7 64.4,269.0 63.0,272.2C61.6,275.4 60.4,278.6 59.2,283.6C58.0,288.7 57.0,296.2 56.0,302.5C55.0,308.8 54.2,315.2 53.5,321.5C52.8,327.8 52.3,332.4 51.6,340.5C50.9,348.6 49.6,365.0 49.2,369.9Z" fill="#7360B8" fill-opacity="0.24" stroke="none"/><path d="M49.2,369.3C49.6,364.4 50.9,348.0 51.6,339.9C52.3,331.8 52.8,327.2 53.5,320.9C54.2,314.6 55.0,308.2 56.0,301.9C57.0,295.6 58.0,288.1 59.2,283.0C60.4,277.9 61.6,274.8 63.0,271.6C64.4,268.4 66.0,266.1 67.8,264.0C69.5,261.9 71.0,260.6 73.5,259.2C76.0,257.8 79.8,256.4 83.0,255.4C86.2,254.5 89.6,254.0 92.4,253.5C95.2,253.0 95.7,253.0 100.0,252.6C104.3,252.2 112.3,251.6 118.1,251.3C123.8,251.0 128.8,250.9 134.5,250.7C140.2,250.5 145.7,250.5 152.0,250.3C158.3,250.1 164.7,249.6 172.6,249.7C180.5,249.8 190.8,250.8 199.3,250.7C207.9,250.6 214.7,249.5 223.9,249.2C233.2,248.9 249.7,248.9 254.8,248.8" fill="none" stroke="#7360B8" stroke-width="2.1" stroke-linejoin="round" stroke-linecap="round"/>
</g>
</g>
<g id="p4">
<rect x="309.8" y="239.9" width="225.5" height="183.7" fill="#EAEAF2"/>
<line x1="309.8" x2="535.3" y1="256.2" y2="256.2" stroke="#ffffff" stroke-width="1.2"/>
<line x1="309.8" x2="535.3" y1="280.7" y2="280.7" stroke="#ffffff" stroke-width="1.2"/>
<line x1="309.8" x2="535.3" y1="305.3" y2="305.3" stroke="#ffffff" stroke-width="1.2"/>
<line x1="309.8" x2="535.3" y1="329.8" y2="329.8" stroke="#ffffff" stroke-width="1.2"/>
<line x1="309.8" x2="535.3" y1="354.3" y2="354.3" stroke="#ffffff" stroke-width="1.2"/>
<line x1="309.8" x2="535.3" y1="378.9" y2="378.9" stroke="#ffffff" stroke-width="1.2"/>
<line x1="309.8" x2="535.3" y1="403.4" y2="403.4" stroke="#ffffff" stroke-width="1.2"/>
<line x1="320.3" x2="320.3" y1="239.9" y2="423.6" stroke="#ffffff" stroke-width="1.2"/>
<line x1="525.1" x2="525.1" y1="239.9" y2="423.6" stroke="#ffffff" stroke-width="1.2"/>
<clipPath id="cp4"><rect x="309.8" y="239.9" width="225.5" height="183.7"/></clipPath>
<g clip-path="url(#cp4)">
<path d="M320.3,380.5C320.8,378.6 322.4,372.2 323.4,369.4C324.4,366.5 325.2,365.5 326.4,363.4C327.6,361.4 329.2,359.3 330.6,357.1C332.0,354.9 333.2,352.5 334.7,350.2C336.2,347.8 338.1,344.8 339.8,343.0C341.5,341.1 343.0,340.2 344.9,339.1C346.8,338.0 349.0,337.7 351.1,336.6C353.2,335.5 355.2,334.2 357.3,332.3C359.4,330.3 361.3,328.4 363.4,324.7C365.4,321.1 367.5,314.8 369.6,310.6C371.7,306.3 373.8,302.7 375.8,299.2C377.9,295.6 380.0,291.8 381.9,289.3C383.8,286.8 385.4,285.4 387.1,284.2C388.8,283.0 390.3,282.5 392.2,282.1C394.1,281.7 396.3,281.8 398.4,281.5C400.4,281.2 402.4,281.1 404.5,280.2C406.6,279.4 408.6,277.6 410.7,276.6C412.8,275.5 415.0,275.0 416.9,274.0C418.8,273.0 420.1,272.3 422.0,270.8C423.9,269.3 426.1,266.3 428.2,264.8C430.2,263.3 432.2,262.7 434.3,261.7C436.4,260.7 438.1,259.7 440.5,258.6C442.9,257.6 446.1,255.3 448.7,255.4C451.3,255.5 453.5,259.2 455.9,259.1C458.3,258.9 460.5,255.4 463.1,254.5C465.7,253.6 468.6,254.3 471.3,253.8C474.0,253.2 476.8,251.7 479.5,251.3C482.2,250.9 485.1,251.1 487.8,251.4C490.6,251.7 493.3,252.8 496.0,253.0C498.7,253.2 501.5,252.8 504.2,252.4C506.9,252.0 510.0,251.2 512.4,250.7C514.8,250.1 516.5,249.6 518.6,249.1C520.7,248.7 523.8,248.4 524.8,248.2L524.8,258.5C523.8,258.5 520.7,258.4 518.6,258.4C516.5,258.5 514.8,258.8 512.4,259.0C510.0,259.2 506.9,259.1 504.2,259.4C501.5,259.7 498.7,260.7 496.0,260.7C493.3,260.8 490.6,259.9 487.8,259.9C485.1,259.8 482.2,259.8 479.5,260.5C476.8,261.2 474.0,263.1 471.3,263.9C468.6,264.8 465.7,264.5 463.1,265.7C460.5,266.9 458.3,270.8 455.9,271.3C453.5,271.8 451.3,268.5 448.7,268.6C446.1,268.7 442.9,270.8 440.5,271.8C438.1,272.9 436.4,272.8 434.3,274.9C432.2,277.0 430.2,280.9 428.2,284.7C426.1,288.5 423.9,294.8 422.0,297.5C420.1,300.2 418.8,299.6 416.9,300.7C415.0,301.7 412.8,302.4 410.7,304.0C408.6,305.6 406.6,308.2 404.5,310.2C402.4,312.2 400.4,314.0 398.4,316.0C396.3,318.0 394.1,321.0 392.2,322.1C390.3,323.2 388.8,322.0 387.1,322.7C385.4,323.4 383.8,325.2 381.9,326.2C380.0,327.2 377.9,327.7 375.8,328.7C373.8,329.7 371.7,330.7 369.6,332.2C367.5,333.7 365.4,336.3 363.4,337.9C361.3,339.5 359.4,340.6 357.3,341.7C355.2,342.8 353.2,343.7 351.1,344.6C349.0,345.5 346.8,346.2 344.9,347.3C343.0,348.4 341.5,349.4 339.8,351.1C338.1,352.7 336.2,355.1 334.7,357.1C333.2,359.1 332.0,361.3 330.6,363.1C329.2,364.9 327.6,366.4 326.4,368.0C325.2,369.6 324.4,370.4 323.4,372.9C322.4,375.4 320.8,381.3 320.3,383.0Z" fill="#48B4D8" fill-opacity="0.24" stroke="none"/><path d="M320.3,381.7C320.8,380.0 322.4,374.0 323.4,371.4C324.4,368.8 325.2,368.0 326.4,366.3C327.6,364.6 329.2,363.0 330.6,361.1C332.0,359.2 333.2,357.1 334.7,355.0C336.2,352.9 338.1,350.5 339.8,348.8C341.5,347.1 343.0,345.9 344.9,344.7C346.8,343.5 349.0,342.8 351.1,341.6C353.2,340.4 355.2,339.0 357.3,337.5C359.4,336.0 361.3,334.4 363.4,332.4C365.4,330.3 367.5,327.6 369.6,325.2C371.7,322.8 373.8,320.4 375.8,318.0C377.9,315.6 380.0,313.0 381.9,310.8C383.8,308.6 385.4,306.2 387.1,304.7C388.8,303.2 390.3,302.6 392.2,301.6C394.1,300.6 396.3,299.5 398.4,298.5C400.4,297.5 402.4,296.6 404.5,295.4C406.6,294.2 408.6,292.8 410.7,291.3C412.8,289.8 415.0,288.1 416.9,286.2C418.8,284.3 420.1,282.2 422.0,280.0C423.9,277.8 426.1,274.8 428.2,272.9C430.2,271.0 432.2,269.9 434.3,268.7C436.4,267.5 438.1,266.7 440.5,265.7C442.9,264.7 446.1,262.6 448.7,262.6C451.3,262.6 453.5,266.1 455.9,265.7C458.3,265.3 460.5,261.5 463.1,260.5C465.7,259.5 468.6,260.1 471.3,259.5C474.0,258.9 476.8,257.3 479.5,256.8C482.2,256.3 485.1,256.3 487.8,256.4C490.6,256.5 493.3,257.5 496.0,257.5C498.7,257.5 501.5,256.8 504.2,256.4C506.9,256.0 510.0,255.7 512.4,255.4C514.8,255.1 516.5,254.6 518.6,254.4C520.7,254.2 523.8,254.1 524.8,254.0" fill="none" stroke="#48B4D8" stroke-width="2.1" stroke-linejoin="round" stroke-linecap="round"/><path d="M320.3,372.6C321.4,370.6 324.7,363.3 326.8,360.7C328.9,358.0 330.7,358.2 332.7,356.9C334.7,355.7 336.4,354.2 338.6,353.1C340.8,352.0 343.7,351.3 345.7,350.5C347.7,349.8 348.7,349.4 350.5,348.6C352.3,347.7 354.4,346.6 356.4,345.3C358.4,344.1 360.3,342.5 362.3,341.2C364.3,339.8 366.2,338.5 368.2,337.2C370.2,335.8 372.1,334.4 374.1,333.1C376.1,331.9 377.3,331.8 380.0,329.8C382.7,327.7 387.0,323.5 390.1,321.0C393.2,318.6 395.6,317.1 398.4,315.1C401.1,313.1 403.9,311.4 406.6,308.8C409.3,306.2 412.2,302.5 414.8,299.6C417.4,296.7 419.6,292.6 422.0,291.6C424.4,290.6 427.1,293.9 429.2,293.6C431.2,293.3 432.1,291.4 434.3,289.9C436.5,288.3 439.9,286.0 442.6,284.3C445.4,282.6 448.1,281.0 450.8,279.6C453.5,278.2 456.3,277.1 459.0,275.9C461.7,274.7 464.5,273.4 467.2,272.4C469.9,271.4 472.6,270.8 475.4,270.1C478.1,269.4 480.9,268.9 483.7,268.4C486.4,267.9 489.5,266.7 491.9,267.0C494.3,267.2 495.9,269.4 498.0,269.9C500.1,270.4 501.8,270.2 504.2,269.9C506.6,269.6 510.0,268.4 512.4,267.9C514.8,267.4 516.5,267.0 518.6,266.8C520.7,266.6 523.8,266.8 524.8,266.8L524.8,277.8C523.8,277.6 520.7,277.0 518.6,276.9C516.5,276.8 514.8,276.9 512.4,277.1C510.0,277.3 506.6,277.7 504.2,277.9C501.8,278.1 500.1,278.7 498.0,278.4C495.9,278.0 494.3,276.0 491.9,275.8C489.5,275.5 486.4,276.3 483.7,277.0C480.9,277.7 478.1,278.9 475.4,280.1C472.6,281.2 469.9,282.3 467.2,283.7C464.5,285.1 461.7,286.8 459.0,288.3C456.3,289.9 453.5,291.2 450.8,292.9C448.1,294.6 445.4,296.4 442.6,298.5C439.9,300.6 436.5,303.4 434.3,305.3C432.1,307.2 431.2,308.7 429.2,309.8C427.1,310.9 424.4,310.7 422.0,311.9C419.6,313.1 417.4,314.8 414.8,316.8C412.2,318.9 409.3,322.3 406.6,324.2C403.9,326.1 401.1,327.2 398.4,328.3C395.6,329.4 393.2,329.7 390.1,330.8C387.0,331.9 382.7,333.5 380.0,334.8C377.3,336.0 376.1,336.9 374.1,338.1C372.1,339.4 370.2,340.8 368.2,342.2C366.2,343.5 364.3,344.8 362.3,346.2C360.3,347.5 358.4,348.9 356.4,350.1C354.4,351.2 352.3,352.1 350.5,352.8C348.7,353.6 347.7,353.9 345.7,354.5C343.7,355.1 340.8,355.6 338.6,356.5C336.4,357.4 334.7,358.8 332.7,359.9C330.7,361.0 328.9,360.7 326.8,363.1C324.7,365.6 321.4,372.7 320.3,374.6Z" fill="#7360B8" fill-opacity="0.24" stroke="none"/><path d="M320.3,373.6C321.4,371.7 324.7,364.4 326.8,361.9C328.9,359.4 330.7,359.6 332.7,358.4C334.7,357.2 336.4,355.8 338.6,354.8C340.8,353.8 343.7,353.2 345.7,352.5C347.7,351.8 348.7,351.5 350.5,350.7C352.3,349.9 354.4,348.9 356.4,347.7C358.4,346.5 360.3,345.0 362.3,343.6C364.3,342.2 366.2,340.9 368.2,339.5C370.2,338.1 372.1,336.6 374.1,335.3C376.1,334.0 377.3,333.3 380.0,331.8C382.7,330.3 387.0,328.0 390.1,326.2C393.2,324.4 395.6,322.8 398.4,321.1C401.1,319.4 403.9,318.1 406.6,316.0C409.3,313.9 412.2,311.2 414.8,308.8C417.4,306.4 419.6,302.8 422.0,301.6C424.4,300.4 427.1,302.3 429.2,301.6C431.2,300.9 432.1,299.2 434.3,297.5C436.5,295.8 439.9,293.2 442.6,291.3C445.4,289.4 448.1,287.7 450.8,286.2C453.5,284.7 456.3,283.5 459.0,282.1C461.7,280.7 464.5,279.2 467.2,278.0C469.9,276.8 472.6,275.8 475.4,274.9C478.1,274.0 480.9,272.9 483.7,272.4C486.4,271.9 489.5,271.4 491.9,271.8C494.3,272.2 495.9,274.4 498.0,274.9C500.1,275.4 501.8,275.2 504.2,274.9C506.6,274.6 510.0,273.4 512.4,272.9C514.8,272.4 516.5,272.0 518.6,271.8C520.7,271.6 523.8,271.8 524.8,271.8" fill="none" stroke="#7360B8" stroke-width="2.1" stroke-linejoin="round" stroke-linecap="round"/><path d="M320.3,397.6C320.8,396.0 322.2,391.0 323.3,387.9C324.4,384.9 325.6,381.2 326.8,379.5C328.0,377.7 329.2,377.7 330.4,377.5C331.6,377.2 332.7,377.9 333.9,377.9C335.1,377.9 336.3,379.0 337.5,377.7C338.7,376.5 339.8,373.1 341.0,370.5C342.2,367.9 343.4,364.4 344.6,362.1C345.8,359.8 346.7,357.2 348.1,356.7C349.5,356.1 350.8,358.6 352.8,358.8C354.8,359.1 357.4,358.5 359.9,358.3C362.3,358.0 364.5,357.5 367.5,357.1C370.5,356.6 374.4,355.6 377.8,355.7C381.2,355.8 385.0,357.7 388.1,357.7C391.2,357.7 393.6,356.2 396.3,355.8C399.0,355.4 401.8,356.1 404.5,355.5C407.2,354.8 410.4,352.8 412.8,351.9C415.2,351.0 417.4,350.0 418.9,349.9C420.4,349.7 420.1,351.3 422.0,351.0C423.9,350.7 427.5,348.9 430.2,348.1C432.9,347.4 435.6,346.5 438.4,346.4C441.1,346.3 443.9,347.5 446.7,347.6C449.4,347.7 452.2,347.9 454.9,346.8C457.6,345.6 460.4,342.7 463.1,340.6C465.8,338.5 468.6,336.4 471.3,334.0C474.0,331.7 476.8,329.2 479.5,326.5C482.2,323.8 485.4,320.0 487.8,318.0C490.2,316.0 492.0,315.6 493.9,314.3C495.8,312.9 497.2,310.5 499.1,310.1C501.0,309.7 503.0,312.8 505.2,311.9C507.4,311.1 510.2,305.9 512.4,304.9C514.6,304.0 516.5,305.8 518.6,306.1C520.7,306.4 523.8,306.7 524.8,306.8L524.8,344.8C523.8,345.4 520.7,347.8 518.6,348.5C516.5,349.3 514.6,348.5 512.4,349.4C510.2,350.3 507.4,353.6 505.2,353.9C503.0,354.2 501.0,351.5 499.1,351.2C497.2,350.9 495.8,352.1 493.9,352.0C492.0,351.9 490.2,350.7 487.8,350.9C485.4,351.1 482.2,352.5 479.5,353.1C476.8,353.7 474.0,354.2 471.3,354.5C468.6,354.8 465.8,354.6 463.1,354.9C460.4,355.2 457.6,356.4 454.9,356.3C452.2,356.3 449.4,355.2 446.7,354.6C443.9,354.1 441.1,353.1 438.4,353.0C435.6,353.0 432.9,353.8 430.2,354.5C427.5,355.1 423.9,356.8 422.0,357.0C420.1,357.2 420.4,355.7 418.9,355.9C417.4,356.0 415.2,357.0 412.8,357.9C410.4,358.8 407.2,360.8 404.5,361.5C401.8,362.1 399.0,361.4 396.3,361.8C393.6,362.2 391.2,363.7 388.1,363.7C385.0,363.7 381.2,361.8 377.8,361.6C374.4,361.4 370.5,362.3 367.5,362.6C364.5,362.9 362.3,363.3 359.9,363.5C357.4,363.7 354.8,364.1 352.8,363.8C350.8,363.5 349.5,361.0 348.1,361.5C346.7,362.0 345.8,364.6 344.6,366.8C343.4,369.1 342.2,372.5 341.0,375.0C339.8,377.5 338.7,380.8 337.5,381.9C336.3,383.0 335.1,381.8 333.9,381.6C332.7,381.4 331.6,380.7 330.4,380.8C329.2,380.9 328.0,380.7 326.8,382.3C325.6,383.9 324.4,387.4 323.3,390.3C322.2,393.2 320.8,398.1 320.3,399.6Z" fill="#D2B964" fill-opacity="0.24" stroke="none"/><path d="M320.3,398.6C320.8,397.0 322.2,392.1 323.3,389.1C324.4,386.1 325.6,382.5 326.8,380.8C328.0,379.1 329.2,379.2 330.4,379.0C331.6,378.8 332.7,379.5 333.9,379.6C335.1,379.7 336.3,380.8 337.5,379.6C338.7,378.4 339.8,375.1 341.0,372.5C342.2,369.9 343.4,366.6 344.6,364.3C345.8,362.1 346.7,359.5 348.1,359.0C349.5,358.5 350.8,361.0 352.8,361.3C354.8,361.6 357.4,361.2 359.9,361.0C362.3,360.8 364.5,360.4 367.5,360.1C370.5,359.8 374.4,358.9 377.8,359.1C381.2,359.3 385.0,361.1 388.1,361.1C391.2,361.1 393.6,359.5 396.3,359.1C399.0,358.7 401.8,359.4 404.5,358.7C407.2,358.0 410.4,356.0 412.8,355.0C415.2,354.0 417.4,353.1 418.9,352.9C420.4,352.7 420.1,354.2 422.0,354.0C423.9,353.8 427.5,352.4 430.2,351.9C432.9,351.4 435.6,350.7 438.4,350.9C441.1,351.1 443.9,352.4 446.7,352.9C449.4,353.4 452.2,354.3 454.9,354.0C457.6,353.7 460.4,351.9 463.1,350.9C465.8,349.9 468.6,349.0 471.3,347.8C474.0,346.6 476.8,345.2 479.5,343.7C482.2,342.2 485.4,340.1 487.8,338.6C490.2,337.1 492.0,335.9 493.9,334.5C495.8,333.1 497.2,330.5 499.1,330.3C501.0,330.1 503.0,333.9 505.2,333.4C507.4,332.9 510.2,328.3 512.4,327.3C514.6,326.3 516.5,327.6 518.6,327.3C520.7,327.1 523.8,326.1 524.8,325.8" fill="none" stroke="#D2B964" stroke-width="2.1" stroke-linejoin="round" stroke-linecap="round"/><path d="M320.3,370.5C321.1,369.5 323.7,365.0 325.4,364.3C327.1,363.6 329.1,365.7 330.6,366.4C332.2,367.1 332.6,368.2 334.7,368.4C336.8,368.6 340.2,367.6 342.9,367.4C345.6,367.2 348.7,367.1 351.1,367.4C353.5,367.7 355.2,369.5 357.3,369.4C359.4,369.3 361.3,367.3 363.4,366.8C365.4,366.3 368.1,365.4 369.6,366.4C371.2,367.3 371.7,370.3 372.7,372.5C373.7,374.7 374.6,379.5 375.8,379.7C377.0,379.9 378.2,375.1 379.9,373.6C381.6,372.1 383.9,370.3 386.0,370.5C388.1,370.7 390.5,374.3 392.2,374.6C393.9,374.9 394.9,373.5 396.3,372.5C397.7,371.5 399.0,368.0 400.4,368.4C401.8,368.8 403.3,372.7 404.5,374.6C405.7,376.5 406.6,380.1 407.6,379.7C408.6,379.3 409.5,374.4 410.7,372.5C411.9,370.6 412.9,368.9 414.8,368.4C416.7,367.9 419.8,369.0 422.0,369.4C424.2,369.8 426.1,370.0 428.2,370.5C430.2,371.0 432.6,372.3 434.3,372.5C436.0,372.7 437.0,372.4 438.4,371.5C439.8,370.6 440.5,368.1 442.6,367.4C444.7,366.7 448.4,367.5 450.8,367.4C453.2,367.3 455.2,367.0 456.9,366.8C458.6,366.6 459.8,366.0 461.0,366.4C462.2,366.8 463.1,369.4 464.1,369.4C465.1,369.4 465.3,367.1 467.2,366.4C469.1,365.7 473.0,365.3 475.4,365.3C477.8,365.3 479.9,366.6 481.6,366.4C483.3,366.2 483.6,364.5 485.7,364.3C487.8,364.1 490.8,365.1 493.9,365.3C497.0,365.5 501.1,365.1 504.2,365.3C507.3,365.5 510.0,366.5 512.4,366.4C514.8,366.3 516.5,364.6 518.6,364.7C520.7,364.8 523.8,366.4 524.8,366.8L524.8,372.8C523.8,372.4 520.7,370.8 518.6,370.7C516.5,370.6 514.8,372.3 512.4,372.4C510.0,372.5 507.3,371.5 504.2,371.3C501.1,371.1 497.0,371.5 493.9,371.3C490.8,371.1 487.8,370.1 485.7,370.3C483.6,370.5 483.3,372.2 481.6,372.4C479.9,372.6 477.8,371.3 475.4,371.3C473.0,371.3 469.1,371.7 467.2,372.4C465.3,373.1 465.1,375.4 464.1,375.4C463.1,375.4 462.2,372.8 461.0,372.4C459.8,372.0 458.6,372.6 456.9,372.8C455.2,373.0 453.2,373.3 450.8,373.4C448.4,373.5 444.7,372.7 442.6,373.4C440.5,374.1 439.8,376.6 438.4,377.5C437.0,378.4 436.0,378.7 434.3,378.5C432.6,378.3 430.2,377.0 428.2,376.5C426.1,376.0 424.2,375.8 422.0,375.4C419.8,375.0 416.7,373.9 414.8,374.4C412.9,374.9 411.9,375.4 410.7,378.5C409.5,381.6 408.6,392.3 407.6,392.7C406.6,393.1 405.7,383.7 404.5,380.6C403.3,377.6 401.8,374.8 400.4,374.4C399.0,374.0 397.7,377.5 396.3,378.5C394.9,379.5 393.9,380.9 392.2,380.6C390.5,380.3 388.1,376.7 386.0,376.5C383.9,376.3 381.6,376.4 379.9,379.6C378.2,382.8 377.0,394.2 375.8,395.7C374.6,397.2 373.7,392.4 372.7,388.5C371.7,384.6 371.2,375.0 369.6,372.4C368.1,369.8 365.4,372.3 363.4,372.8C361.3,373.3 359.4,375.3 357.3,375.4C355.2,375.5 353.5,373.7 351.1,373.4C348.7,373.1 345.6,373.2 342.9,373.4C340.2,373.6 336.8,374.6 334.7,374.4C332.6,374.2 332.2,373.1 330.6,372.4C329.1,371.7 327.1,369.6 325.4,370.3C323.7,371.0 321.1,375.5 320.3,376.5Z" fill="#3762B5" fill-opacity="0.24" stroke="none"/><path d="M320.3,373.5C321.1,372.5 323.7,368.0 325.4,367.3C327.1,366.6 329.1,368.7 330.6,369.4C332.2,370.1 332.6,371.2 334.7,371.4C336.8,371.6 340.2,370.6 342.9,370.4C345.6,370.2 348.7,370.1 351.1,370.4C353.5,370.7 355.2,372.5 357.3,372.4C359.4,372.3 361.3,370.3 363.4,369.8C365.4,369.3 368.1,368.4 369.6,369.4C371.2,370.3 371.7,373.3 372.7,375.5C373.7,377.7 374.6,382.5 375.8,382.7C377.0,382.9 378.2,378.1 379.9,376.6C381.6,375.1 383.9,373.3 386.0,373.5C388.1,373.7 390.5,377.3 392.2,377.6C393.9,377.9 394.9,376.5 396.3,375.5C397.7,374.5 399.0,371.0 400.4,371.4C401.8,371.8 403.3,375.7 404.5,377.6C405.7,379.5 406.6,383.1 407.6,382.7C408.6,382.3 409.5,377.4 410.7,375.5C411.9,373.6 412.9,371.9 414.8,371.4C416.7,370.9 419.8,372.0 422.0,372.4C424.2,372.8 426.1,373.0 428.2,373.5C430.2,374.0 432.6,375.3 434.3,375.5C436.0,375.7 437.0,375.4 438.4,374.5C439.8,373.6 440.5,371.1 442.6,370.4C444.7,369.7 448.4,370.5 450.8,370.4C453.2,370.3 455.2,370.0 456.9,369.8C458.6,369.6 459.8,369.0 461.0,369.4C462.2,369.8 463.1,372.4 464.1,372.4C465.1,372.4 465.3,370.1 467.2,369.4C469.1,368.7 473.0,368.3 475.4,368.3C477.8,368.3 479.9,369.6 481.6,369.4C483.3,369.2 483.6,367.5 485.7,367.3C487.8,367.1 490.8,368.1 493.9,368.3C497.0,368.5 501.1,368.1 504.2,368.3C507.3,368.5 510.0,369.5 512.4,369.4C514.8,369.3 516.5,367.6 518.6,367.7C520.7,367.8 523.8,369.4 524.8,369.8" fill="none" stroke="#3762B5" stroke-width="2.1" stroke-linejoin="round" stroke-linecap="round"/><path d="M320.3,373.7C321.3,372.5 324.7,367.5 326.4,366.5C328.1,365.5 328.9,367.7 330.6,367.5C332.3,367.3 334.0,366.0 336.7,365.5C339.4,365.0 343.6,364.9 347.0,364.5C350.4,364.1 353.9,363.8 357.3,363.4C360.7,363.0 364.1,362.6 367.5,362.4C370.9,362.2 374.4,362.2 377.8,362.0C381.2,361.8 384.7,361.7 388.1,361.4C391.5,361.1 395.3,360.5 398.4,360.3C401.5,360.1 404.6,360.0 406.6,360.3C408.7,360.6 408.1,362.3 410.7,362.4C413.3,362.5 418.4,361.5 422.0,360.8C425.6,360.1 428.9,358.8 432.3,358.3C435.7,357.8 439.2,357.8 442.6,357.9C446.0,358.0 449.4,358.5 452.8,358.7C456.2,358.9 459.7,359.4 463.1,359.3C466.5,359.2 470.0,358.5 473.4,358.3C476.8,358.1 480.3,357.9 483.7,357.9C487.1,357.9 490.5,358.2 493.9,358.3C497.3,358.4 500.8,358.2 504.2,358.3C507.6,358.4 511.1,358.6 514.5,358.7C517.9,358.8 523.1,358.7 524.8,358.7L524.8,360.3C523.1,360.3 517.9,360.4 514.5,360.3C511.1,360.2 507.6,360.0 504.2,359.9C500.8,359.8 497.3,360.0 493.9,359.9C490.5,359.8 487.1,359.5 483.7,359.5C480.3,359.5 476.8,359.7 473.4,359.9C470.0,360.1 466.5,360.8 463.1,360.9C459.7,361.0 456.2,360.5 452.8,360.3C449.4,360.1 446.0,359.6 442.6,359.5C439.2,359.4 435.7,359.4 432.3,359.9C428.9,360.4 425.6,361.7 422.0,362.4C418.4,363.1 413.3,364.1 410.7,364.0C408.1,363.9 408.7,362.2 406.6,361.9C404.6,361.6 401.5,361.7 398.4,361.9C395.3,362.1 391.5,362.7 388.1,363.0C384.7,363.3 381.2,363.4 377.8,363.6C374.4,363.8 370.9,363.8 367.5,364.0C364.1,364.2 360.7,364.6 357.3,365.0C353.9,365.4 350.4,365.8 347.0,366.1C343.6,366.5 339.4,366.6 336.7,367.1C334.0,367.6 332.3,368.9 330.6,369.1C328.9,369.3 328.1,367.1 326.4,368.1C324.7,369.1 321.3,374.1 320.3,375.3Z" fill="#3DA84F" fill-opacity="0.24" stroke="none"/><path d="M320.3,374.5C321.3,373.3 324.7,368.3 326.4,367.3C328.1,366.3 328.9,368.5 330.6,368.3C332.3,368.1 334.0,366.8 336.7,366.3C339.4,365.8 343.6,365.7 347.0,365.3C350.4,364.9 353.9,364.6 357.3,364.2C360.7,363.8 364.1,363.4 367.5,363.2C370.9,363.0 374.4,363.0 377.8,362.8C381.2,362.6 384.7,362.5 388.1,362.2C391.5,361.9 395.3,361.3 398.4,361.1C401.5,360.9 404.6,360.8 406.6,361.1C408.7,361.5 408.1,363.1 410.7,363.2C413.3,363.3 418.4,362.3 422.0,361.6C425.6,360.9 428.9,359.6 432.3,359.1C435.7,358.6 439.2,358.6 442.6,358.7C446.0,358.8 449.4,359.3 452.8,359.5C456.2,359.7 459.7,360.2 463.1,360.1C466.5,360.0 470.0,359.3 473.4,359.1C476.8,358.9 480.3,358.7 483.7,358.7C487.1,358.7 490.5,359.0 493.9,359.1C497.3,359.2 500.8,359.0 504.2,359.1C507.6,359.2 511.1,359.4 514.5,359.5C517.9,359.6 523.1,359.5 524.8,359.5" fill="none" stroke="#3DA84F" stroke-width="2.1" stroke-linejoin="round" stroke-linecap="round"/><path d="M320.3,408.2C321.1,406.3 323.5,398.3 325.0,396.8C326.5,395.4 327.4,397.1 329.2,399.6C331.0,402.0 333.7,411.0 335.7,411.7C337.7,412.4 339.3,406.5 341.0,403.9C342.7,401.3 344.1,396.6 345.7,396.0C347.3,395.5 348.9,400.0 350.5,400.6C352.1,401.1 353.6,398.7 355.2,399.2C356.8,399.6 358.5,403.1 359.9,403.2C361.3,403.3 362.5,399.2 363.5,399.5C364.5,399.9 364.7,405.6 365.8,405.4C366.9,405.1 368.7,397.8 370.0,398.1C371.3,398.5 372.0,406.2 373.5,407.6C375.0,408.9 377.1,406.6 378.8,406.4C380.6,406.2 382.3,406.9 384.0,406.3C385.7,405.7 387.4,403.4 389.1,402.7C390.8,401.9 392.8,402.6 394.3,401.9C395.9,401.3 397.0,398.9 398.4,398.7C399.8,398.5 401.1,400.6 402.5,400.8C403.9,400.9 405.2,399.5 406.6,399.7C408.0,399.8 409.3,402.3 410.7,401.8C412.1,401.3 412.9,397.2 414.8,396.6C416.7,396.1 420.4,398.8 422.0,398.6C423.6,398.4 423.2,395.5 424.1,395.5C425.0,395.5 425.9,398.8 427.1,398.6C428.3,398.4 429.8,394.0 431.2,394.5C432.6,395.0 434.0,401.0 435.4,401.7C436.8,402.3 438.3,399.7 439.5,398.5C440.7,397.3 441.6,396.1 442.6,394.4C443.6,392.7 444.6,387.6 445.6,388.3C446.6,389.0 447.7,397.3 448.7,398.5C449.7,399.7 450.8,396.6 451.8,395.4C452.8,394.2 453.9,391.1 454.9,391.3C455.9,391.5 456.8,395.8 458.0,396.5C459.2,397.1 460.9,395.0 462.1,395.4C463.3,395.7 464.0,398.4 465.2,398.4C466.4,398.4 467.9,395.0 469.3,395.3C470.7,395.7 472.2,401.0 473.4,400.5C474.6,400.0 475.3,394.7 476.5,392.3C477.7,389.9 479.4,386.3 480.6,386.1C481.8,385.9 482.7,391.0 483.7,391.2C484.7,391.3 485.3,386.9 486.7,387.1C488.1,387.2 490.3,391.0 491.9,392.2C493.4,393.4 494.3,393.9 496.0,394.2C497.7,394.5 500.6,396.4 502.1,394.2C503.6,392.0 504.2,382.1 505.2,380.9C506.2,379.7 507.1,385.1 508.3,387.0C509.5,388.8 511.0,391.1 512.4,392.1C513.8,393.2 515.3,393.7 516.5,393.1C517.7,392.6 518.6,389.2 519.6,389.0C520.6,388.9 521.8,390.7 522.7,392.1C523.6,393.5 524.4,396.4 524.8,397.2L524.8,405.2C524.4,404.3 523.6,401.5 522.7,400.1C521.8,398.7 520.6,396.8 519.6,397.0C518.6,397.1 517.7,400.6 516.5,401.1C515.3,401.6 513.8,401.1 512.4,400.1C511.0,399.0 509.5,396.7 508.3,394.8C507.1,392.9 506.2,387.5 505.2,388.7C504.2,389.9 503.6,399.8 502.1,402.0C500.6,404.2 497.7,402.3 496.0,402.0C494.3,401.6 493.4,401.2 491.9,400.0C490.3,398.8 488.1,394.9 486.7,394.7C485.3,394.6 484.7,399.0 483.7,398.8C482.7,398.7 481.8,393.5 480.6,393.7C479.4,393.9 477.7,397.5 476.5,399.9C475.3,402.3 474.6,407.6 473.4,408.1C472.2,408.6 470.7,403.2 469.3,402.9C467.9,402.5 466.4,406.0 465.2,406.0C464.0,406.0 463.3,403.2 462.1,402.8C460.9,402.5 459.2,404.6 458.0,403.9C456.8,403.2 455.9,398.9 454.9,398.7C453.9,398.5 452.8,401.6 451.8,402.8C450.8,404.0 449.7,407.1 448.7,405.9C447.7,404.7 446.6,396.4 445.6,395.7C444.6,395.0 443.6,400.1 442.6,401.8C441.6,403.5 440.7,404.7 439.5,405.9C438.3,407.1 436.8,409.6 435.4,408.9C434.0,408.3 432.6,402.2 431.2,401.7C429.8,401.2 428.3,405.6 427.1,405.8C425.9,406.0 425.0,402.7 424.1,402.7C423.2,402.7 423.6,405.6 422.0,405.8C420.4,406.0 416.7,403.3 414.8,403.8C412.9,404.3 412.1,408.3 410.7,408.8C409.3,409.3 408.0,406.9 406.6,406.7C405.2,406.6 403.9,408.0 402.5,407.8C401.1,407.6 399.8,405.5 398.4,405.7C397.0,405.8 395.9,408.1 394.3,408.7C392.8,409.2 390.8,408.5 389.1,409.1C387.4,409.8 385.7,412.0 384.0,412.5C382.3,413.0 380.6,412.2 378.8,412.4C377.1,412.5 375.0,414.7 373.5,413.2C372.0,411.8 371.3,404.1 370.0,403.6C368.7,403.2 366.9,410.5 365.8,410.6C364.7,410.8 364.5,405.1 363.5,404.7C362.5,404.3 361.3,408.3 359.9,408.2C358.5,408.1 356.8,404.4 355.2,403.8C353.6,403.3 352.1,405.5 350.5,404.8C348.9,404.2 347.3,399.5 345.7,400.0C344.1,400.4 342.7,405.0 341.0,407.5C339.3,410.0 337.7,415.8 335.7,414.9C333.7,414.0 331.0,404.9 329.2,402.2C327.4,399.6 326.5,397.9 325.0,399.2C323.5,400.5 321.1,408.4 320.3,410.2Z" fill="#CC3540" fill-opacity="0.24" stroke="none"/><path d="M320.3,409.2C321.1,407.3 323.5,399.4 325.0,398.0C326.5,396.6 327.4,398.3 329.2,400.9C331.0,403.4 333.7,412.5 335.7,413.3C337.7,414.1 339.3,408.2 341.0,405.7C342.7,403.1 344.1,398.5 345.7,398.0C347.3,397.5 348.9,402.1 350.5,402.7C352.1,403.3 353.6,401.0 355.2,401.5C356.8,402.0 358.5,405.6 359.9,405.7C361.3,405.8 362.5,401.7 363.5,402.1C364.5,402.5 364.7,408.2 365.8,408.0C366.9,407.8 368.7,400.5 370.0,400.9C371.3,401.3 372.0,409.0 373.5,410.4C375.0,411.8 377.1,409.6 378.8,409.4C380.6,409.2 382.3,410.0 384.0,409.4C385.7,408.8 387.4,406.6 389.1,405.9C390.8,405.2 392.8,405.9 394.3,405.3C395.9,404.7 397.0,402.4 398.4,402.2C399.8,402.0 401.1,404.1 402.5,404.3C403.9,404.5 405.2,403.0 406.6,403.2C408.0,403.4 409.3,405.8 410.7,405.3C412.1,404.8 412.9,400.7 414.8,400.2C416.7,399.7 420.4,402.4 422.0,402.2C423.6,402.0 423.2,399.1 424.1,399.1C425.0,399.1 425.9,402.4 427.1,402.2C428.3,402.0 429.8,397.6 431.2,398.1C432.6,398.6 434.0,404.6 435.4,405.3C436.8,406.0 438.3,403.4 439.5,402.2C440.7,401.0 441.6,399.8 442.6,398.1C443.6,396.4 444.6,391.3 445.6,392.0C446.6,392.7 447.7,401.0 448.7,402.2C449.7,403.4 450.8,400.3 451.8,399.1C452.8,397.9 453.9,394.8 454.9,395.0C455.9,395.2 456.8,399.5 458.0,400.2C459.2,400.9 460.9,398.8 462.1,399.1C463.3,399.4 464.0,402.2 465.2,402.2C466.4,402.2 467.9,398.8 469.3,399.1C470.7,399.5 472.2,404.8 473.4,404.3C474.6,403.8 475.3,398.5 476.5,396.1C477.7,393.7 479.4,390.1 480.6,389.9C481.8,389.7 482.7,394.8 483.7,395.0C484.7,395.2 485.3,390.7 486.7,390.9C488.1,391.1 490.3,394.9 491.9,396.1C493.4,397.3 494.3,397.8 496.0,398.1C497.7,398.4 500.6,400.3 502.1,398.1C503.6,395.9 504.2,386.0 505.2,384.8C506.2,383.6 507.1,389.0 508.3,390.9C509.5,392.8 511.0,395.1 512.4,396.1C513.8,397.1 515.3,397.6 516.5,397.1C517.7,396.6 518.6,393.2 519.6,393.0C520.6,392.8 521.8,394.7 522.7,396.1C523.6,397.5 524.4,400.4 524.8,401.2" fill="none" stroke="#CC3540" stroke-width="2.1" stroke-linejoin="round" stroke-linecap="round"/>
</g>
</g>
<g id="p5">
<rect x="36.5" y="469.8" width="226.4" height="184.0" fill="#EAEAF2"/>
<line x1="36.5" x2="262.9" y1="489.6" y2="489.6" stroke="#ffffff" stroke-width="1.2"/>
<line x1="36.5" x2="262.9" y1="528.8" y2="528.8" stroke="#ffffff" stroke-width="1.2"/>
<line x1="36.5" x2="262.9" y1="568.0" y2="568.0" stroke="#ffffff" stroke-width="1.2"/>
<line x1="36.5" x2="262.9" y1="607.2" y2="607.2" stroke="#ffffff" stroke-width="1.2"/>
<line x1="36.5" x2="262.9" y1="646.4" y2="646.4" stroke="#ffffff" stroke-width="1.2"/>
<line x1="47.0" x2="47.0" y1="469.8" y2="653.8" stroke="#ffffff" stroke-width="1.2"/>
<line x1="252.9" x2="252.9" y1="469.8" y2="653.8" stroke="#ffffff" stroke-width="1.2"/>
<clipPath id="cp5"><rect x="36.5" y="469.8" width="226.4" height="184.0"/></clipPath>
<g clip-path="url(#cp5)">
<path d="M46.9,644.8 L252.6,642.5L252.6,643.5 L46.9,645.8Z" fill="#D2B964" fill-opacity="0.24" stroke="none"/><path d="M46.9,645.3 L252.6,643.0" fill="none" stroke="#D2B964" stroke-width="2.1" stroke-linejoin="round" stroke-linecap="round"/><path d="M46.9,645.1 L252.6,644.1L252.6,645.1 L46.9,646.1Z" fill="#CC3540" fill-opacity="0.24" stroke="none"/><path d="M46.9,645.6 L252.6,644.6" fill="none" stroke="#CC3540" stroke-width="2.1" stroke-linejoin="round" stroke-linecap="round"/><path d="M46.9,644.5C55.8,644.3 65.7,643.7 100.0,643.3C134.3,642.9 227.2,642.3 252.6,642.1L252.6,643.1C227.2,643.3 134.3,643.9 100.0,644.3C65.7,644.7 55.8,645.3 46.9,645.5Z" fill="#48B4D8" fill-opacity="0.24" stroke="none"/><path d="M46.9,645.0C55.8,644.8 65.7,644.2 100.0,643.8C134.3,643.4 227.2,642.8 252.6,642.6" fill="none" stroke="#48B4D8" stroke-width="2.1" stroke-linejoin="round" stroke-linecap="round"/><path d="M46.9,644.5C47.6,644.2 50.0,643.9 51.4,642.7C52.8,641.5 54.1,640.3 55.5,637.3C56.9,634.4 58.4,629.7 59.6,624.8C60.8,619.9 61.9,614.3 62.7,608.1C63.6,601.9 64.0,595.0 64.7,587.4C65.4,579.9 66.1,570.6 66.8,562.7C67.5,554.8 68.2,546.9 68.9,540.0C69.6,533.1 70.1,525.0 70.9,521.3C71.8,517.6 73.2,518.6 74.0,517.8C74.8,517.0 75.3,519.2 76.0,516.5C76.7,513.8 77.3,506.2 78.1,501.8C78.9,497.4 79.8,491.7 80.6,490.2C81.4,488.7 82.2,490.9 83.2,492.9C84.2,495.0 85.4,501.5 86.3,502.6C87.2,503.8 87.7,500.9 88.4,500.0C89.2,499.1 90.1,497.0 90.8,497.3C91.5,497.6 91.7,498.4 92.5,502.0C93.3,505.5 94.6,519.3 95.6,518.5C96.6,517.7 97.7,502.6 98.7,497.0C99.7,491.3 100.7,486.4 101.7,484.5C102.7,482.6 103.8,484.3 104.8,485.5C105.8,486.7 106.9,490.0 107.9,491.7C108.9,493.4 110.0,494.6 111.0,495.8C112.0,497.0 113.1,496.8 114.1,498.9C115.1,500.9 116.2,506.7 117.1,508.1C117.9,509.5 118.3,503.7 119.2,507.1C120.1,510.5 121.3,528.5 122.3,528.7C123.3,528.9 124.4,513.9 125.4,508.1C126.4,502.3 127.7,496.1 128.5,493.7C129.3,491.3 129.7,495.4 130.5,493.7C131.3,492.0 132.3,484.2 133.2,483.5C134.0,482.8 134.7,484.3 135.6,489.6C136.5,494.9 137.7,513.2 138.7,515.3C139.7,517.4 140.8,505.4 141.8,501.9C142.8,498.5 143.7,494.3 144.9,494.6C146.1,494.8 147.6,501.9 149.0,503.6C150.4,505.2 151.7,504.7 153.1,504.3C154.5,503.9 156.0,502.7 157.2,501.1C158.4,499.5 159.4,497.9 160.3,494.8C161.2,491.7 161.6,484.3 162.4,482.4C163.2,480.5 164.2,482.4 165.4,483.2C166.6,484.0 168.2,485.7 169.6,487.1C171.0,488.6 172.3,490.5 173.7,492.0C175.1,493.5 176.4,493.6 177.8,496.0C179.2,498.4 180.5,504.6 181.9,506.2C183.3,507.8 184.6,507.0 186.0,505.4C187.4,503.8 188.7,499.6 190.1,496.4C191.5,493.2 192.8,488.3 194.2,486.3C195.6,484.3 197.1,482.3 198.3,484.4C199.5,486.5 200.4,495.4 201.4,498.8C202.4,502.2 203.3,503.3 204.5,504.7C205.7,506.2 207.2,504.1 208.6,507.4C210.0,510.7 211.5,523.8 212.7,524.6C213.9,525.4 214.8,515.9 215.8,512.3C216.8,508.7 217.9,505.1 218.9,503.0C219.9,500.9 220.8,501.7 222.0,500.0C223.2,498.3 224.7,493.7 226.1,492.8C227.5,491.9 229.0,493.1 230.2,494.8C231.4,496.5 232.1,500.4 233.3,503.0C234.5,505.6 236.0,511.9 237.4,510.2C238.8,508.5 240.3,497.5 241.5,492.9C242.7,488.4 243.6,482.6 244.6,482.9C245.6,483.1 246.4,494.2 247.6,494.4C248.8,494.7 251.1,486.2 251.8,484.5L251.8,496.5C251.1,498.3 248.8,507.2 247.6,507.2C246.4,507.1 245.6,496.2 244.6,496.1C243.6,496.0 242.7,502.0 241.5,506.7C240.3,511.4 238.8,522.5 237.4,524.2C236.0,525.9 234.5,519.6 233.3,517.0C232.1,514.4 231.4,510.5 230.2,508.8C229.0,507.1 227.5,505.9 226.1,506.8C224.7,507.7 223.2,512.3 222.0,514.0C220.8,515.7 219.9,515.0 218.9,517.0C217.9,519.0 216.8,522.7 215.8,526.3C214.8,529.9 213.9,539.5 212.7,538.6C211.5,537.7 210.0,524.3 208.6,520.8C207.2,517.3 205.7,519.1 204.5,517.5C203.3,515.8 202.4,514.5 201.4,511.0C200.4,507.5 199.5,498.6 198.3,496.6C197.1,494.6 195.6,496.8 194.2,498.9C192.8,501.0 191.5,506.1 190.1,509.4C188.7,512.7 187.4,517.0 186.0,518.8C184.6,520.6 183.3,521.5 181.9,520.0C180.5,518.5 179.2,512.2 177.8,509.8C176.4,507.4 175.1,507.0 173.7,505.4C172.3,503.8 171.0,501.7 169.6,500.1C168.2,498.5 166.6,496.7 165.4,495.8C164.2,494.9 163.2,492.8 162.4,494.6C161.6,496.5 161.2,503.8 160.3,506.8C159.4,509.9 158.4,511.4 157.2,512.9C156.0,514.3 154.5,515.4 153.1,515.7C151.7,515.9 150.4,516.2 149.0,514.5C147.6,512.7 146.1,505.4 144.9,505.0C143.7,504.7 142.8,508.7 141.8,512.1C140.8,515.5 139.7,527.4 138.7,525.3C137.7,523.2 136.5,504.9 135.6,499.6C134.7,494.3 134.0,492.8 133.2,493.5C132.3,494.2 131.3,502.0 130.5,503.7C129.7,505.4 129.3,501.3 128.5,503.7C127.7,506.1 126.4,512.3 125.4,518.1C124.4,523.9 123.3,538.9 122.3,538.7C121.3,538.5 120.1,520.5 119.2,517.1C118.3,513.7 117.9,519.5 117.1,518.1C116.2,516.7 115.1,510.9 114.1,508.9C113.1,506.8 112.0,507.0 111.0,505.8C110.0,504.6 108.9,503.4 107.9,501.7C106.9,500.0 105.8,496.7 104.8,495.5C103.8,494.3 102.7,492.3 101.7,494.5C100.7,496.7 99.7,502.5 98.7,508.8C97.7,515.1 96.6,531.4 95.6,532.3C94.6,533.2 93.3,518.0 92.5,514.0C91.7,510.1 91.5,509.2 90.8,508.5C90.1,507.8 89.2,509.3 88.4,509.8C87.7,510.3 87.2,512.9 86.3,511.4C85.4,509.8 84.2,502.9 83.2,500.5C82.2,498.1 81.4,495.8 80.6,497.0C79.8,498.3 78.9,503.8 78.1,508.0C77.3,512.2 76.7,519.6 76.0,522.1C75.3,524.6 74.8,522.3 74.0,522.8C73.2,523.4 71.8,522.0 70.9,525.5C70.1,529.0 69.6,537.0 68.9,543.8C68.2,550.6 67.5,558.5 66.8,566.3C66.1,574.1 65.4,583.3 64.7,590.8C64.0,598.2 63.6,605.0 62.7,611.1C61.9,617.2 60.8,622.7 59.6,627.4C58.4,632.1 56.9,636.6 55.5,639.5C54.1,642.3 52.8,643.3 51.4,644.3C50.0,645.3 47.6,645.3 46.9,645.5Z" fill="#7360B8" fill-opacity="0.24" stroke="none"/><path d="M46.9,645.0C47.6,644.8 50.0,644.6 51.4,643.5C52.8,642.4 54.1,641.3 55.5,638.4C56.9,635.5 58.4,630.9 59.6,626.1C60.8,621.3 61.9,615.8 62.7,609.6C63.6,603.4 64.0,596.6 64.7,589.1C65.4,581.6 66.1,572.4 66.8,564.5C67.5,556.6 68.2,548.8 68.9,541.9C69.6,535.0 70.1,527.0 70.9,523.4C71.8,519.8 73.2,521.0 74.0,520.3C74.8,519.6 75.3,521.9 76.0,519.3C76.7,516.7 77.3,509.2 78.1,504.9C78.9,500.6 79.8,495.0 80.6,493.6C81.4,492.2 82.2,494.5 83.2,496.7C84.2,498.9 85.4,505.6 86.3,507.0C87.2,508.4 87.7,505.6 88.4,504.9C89.2,504.2 90.1,502.4 90.8,502.9C91.5,503.4 91.7,504.2 92.5,508.0C93.3,511.8 94.6,526.2 95.6,525.4C96.6,524.5 97.7,508.9 98.7,502.9C99.7,496.9 100.7,491.6 101.7,489.5C102.7,487.4 103.8,489.3 104.8,490.5C105.8,491.7 106.9,495.0 107.9,496.7C108.9,498.4 110.0,499.6 111.0,500.8C112.0,502.0 113.1,501.8 114.1,503.9C115.1,505.9 116.2,511.7 117.1,513.1C117.9,514.5 118.3,508.7 119.2,512.1C120.1,515.5 121.3,533.5 122.3,533.7C123.3,533.9 124.4,518.9 125.4,513.1C126.4,507.3 127.7,501.1 128.5,498.7C129.3,496.3 129.7,500.4 130.5,498.7C131.3,497.0 132.3,489.2 133.2,488.5C134.0,487.8 134.7,489.3 135.6,494.6C136.5,499.9 137.7,518.2 138.7,520.3C139.7,522.4 140.8,510.4 141.8,507.0C142.8,503.6 143.7,499.5 144.9,499.8C146.1,500.1 147.6,507.3 149.0,509.0C150.4,510.7 151.7,510.3 153.1,510.0C154.5,509.7 156.0,508.5 157.2,507.0C158.4,505.5 159.4,503.9 160.3,500.8C161.2,497.7 161.6,490.4 162.4,488.5C163.2,486.6 164.2,488.6 165.4,489.5C166.6,490.4 168.2,492.1 169.6,493.6C171.0,495.1 172.3,497.1 173.7,498.7C175.1,500.2 176.4,500.5 177.8,502.9C179.2,505.3 180.5,511.6 181.9,513.1C183.3,514.6 184.6,513.8 186.0,512.1C187.4,510.4 188.7,506.1 190.1,502.9C191.5,499.6 192.8,494.7 194.2,492.6C195.6,490.5 197.1,488.4 198.3,490.5C199.5,492.6 200.4,501.5 201.4,504.9C202.4,508.3 203.3,509.6 204.5,511.1C205.7,512.6 207.2,510.7 208.6,514.1C210.0,517.5 211.5,530.7 212.7,531.6C213.9,532.5 214.8,522.9 215.8,519.3C216.8,515.7 217.9,512.0 218.9,510.0C219.9,507.9 220.8,508.7 222.0,507.0C223.2,505.3 224.7,500.7 226.1,499.8C227.5,498.9 229.0,500.1 230.2,501.8C231.4,503.5 232.1,507.4 233.3,510.0C234.5,512.6 236.0,518.9 237.4,517.2C238.8,515.5 240.3,504.4 241.5,499.8C242.7,495.2 243.6,489.3 244.6,489.5C245.6,489.7 246.4,500.6 247.6,500.8C248.8,501.0 251.1,492.2 251.8,490.5" fill="none" stroke="#7360B8" stroke-width="2.1" stroke-linejoin="round" stroke-linecap="round"/><path d="M46.9,644.5C48.7,644.2 54.0,643.4 57.5,642.8C61.0,642.1 64.4,641.5 67.8,640.6C71.2,639.6 75.0,638.3 78.1,637.3C81.2,636.2 83.9,635.2 86.3,634.0C88.7,632.7 90.8,631.7 92.5,629.8C94.2,627.8 95.4,625.2 96.6,622.1C97.8,619.0 98.8,615.0 99.7,611.0C100.6,607.0 101.0,603.5 101.7,598.2C102.4,592.8 103.1,586.5 103.8,579.0C104.5,571.4 105.1,558.2 105.8,552.9C106.5,547.6 107.2,548.9 107.9,547.2C108.6,545.5 109.2,544.0 110.0,542.8C110.8,541.7 112.0,539.9 113.0,540.3C114.0,540.7 115.2,542.8 116.1,545.2C117.0,547.7 117.5,553.6 118.2,555.0C118.9,556.4 119.5,555.3 120.2,553.7C120.9,552.1 121.4,547.5 122.3,545.5C123.2,543.5 124.4,544.7 125.4,541.7C126.4,538.7 127.7,530.9 128.5,527.7C129.3,524.5 129.8,522.4 130.5,522.3C131.2,522.2 131.8,525.7 132.6,527.1C133.4,528.5 134.6,531.4 135.6,530.8C136.6,530.2 137.7,524.8 138.7,523.3C139.7,521.8 140.8,522.3 141.8,521.9C142.8,521.4 143.7,521.2 144.9,520.6C146.1,520.0 147.8,518.6 149.0,518.4C150.2,518.2 150.9,517.7 152.1,519.1C153.3,520.6 154.8,528.5 156.2,527.0C157.6,525.6 159.1,514.4 160.3,510.2C161.5,506.0 162.2,501.1 163.4,502.0C164.6,502.9 166.3,514.1 167.5,515.4C168.7,516.7 169.6,509.0 170.6,509.7C171.6,510.3 172.7,515.9 173.7,519.3C174.7,522.7 175.7,529.9 176.7,530.2C177.7,530.4 178.9,521.0 179.8,520.8C180.7,520.5 180.9,529.0 181.9,528.6C182.9,528.2 184.6,519.7 186.0,518.4C187.4,517.1 188.7,517.8 190.1,521.1C191.5,524.4 193.0,538.1 194.2,538.2C195.4,538.3 196.1,526.5 197.3,521.4C198.5,516.4 200.0,510.8 201.4,508.0C202.8,505.1 204.1,503.8 205.5,504.6C206.9,505.3 208.0,510.0 209.6,512.3C211.2,514.7 213.2,517.7 214.8,518.6C216.4,519.6 217.5,517.6 218.9,517.8C220.3,518.1 221.6,520.1 223.0,520.1C224.4,520.2 225.7,519.4 227.1,518.3C228.5,517.1 229.8,514.1 231.2,513.2C232.6,512.4 233.9,513.5 235.3,513.1C236.7,512.6 238.0,509.5 239.4,510.8C240.8,512.1 242.1,519.7 243.5,520.9C244.9,522.0 246.2,519.9 247.6,517.6C249.0,515.3 251.1,508.8 251.8,507.1L251.8,521.1C251.1,522.8 249.0,529.2 247.6,531.4C246.2,533.6 244.9,535.7 243.5,534.5C242.1,533.3 240.8,525.6 239.4,524.2C238.0,522.8 236.7,525.9 235.3,526.3C233.9,526.6 232.6,525.4 231.2,526.3C229.8,527.2 228.5,530.3 227.1,531.5C225.7,532.8 224.4,533.8 223.0,533.9C221.6,533.9 220.3,532.1 218.9,532.0C217.5,531.8 216.4,533.9 214.8,533.2C213.2,532.4 211.2,529.6 209.6,527.4C208.0,525.2 206.9,520.6 205.5,520.0C204.1,519.4 202.8,518.8 201.4,523.8C200.0,528.8 198.5,540.4 197.3,550.0C196.1,559.5 195.4,581.3 194.2,581.2C193.0,581.1 191.5,557.7 190.1,549.6C188.7,541.5 187.4,533.0 186.0,532.4C184.6,531.8 182.9,544.6 181.9,545.8C180.9,547.0 180.7,538.8 179.8,539.6C178.9,540.5 177.7,551.2 176.7,550.9C175.7,550.5 174.7,541.8 173.7,537.5C172.7,533.2 171.6,526.0 170.6,525.2C169.6,524.4 168.7,533.2 167.5,532.9C166.3,532.6 164.6,523.3 163.4,523.6C162.2,523.9 161.5,530.9 160.3,534.9C159.1,539.0 157.6,547.8 156.2,547.9C154.8,548.0 153.3,538.2 152.1,535.5C150.9,532.8 150.2,531.5 149.0,531.4C147.8,531.3 146.1,533.9 144.9,534.8C143.7,535.7 142.8,536.3 141.8,537.0C140.8,537.8 139.7,537.6 138.7,539.4C137.7,541.2 136.6,547.0 135.6,547.8C134.6,548.6 133.4,545.5 132.6,544.1C131.8,542.7 131.2,539.2 130.5,539.3C129.8,539.4 129.3,539.2 128.5,544.7C127.7,550.2 126.4,564.7 125.4,572.2C124.4,579.7 123.2,584.6 122.3,589.5C121.4,594.4 120.9,598.9 120.2,601.8C119.5,604.7 118.9,608.9 118.2,607.0C117.5,605.1 117.0,595.7 116.1,590.4C115.2,585.1 114.0,579.5 113.0,575.3C112.0,571.1 110.8,567.4 110.0,564.9C109.2,562.4 108.6,560.5 107.9,560.2C107.2,559.9 106.5,558.8 105.8,563.2C105.1,567.7 104.5,579.9 103.8,586.8C103.1,593.7 102.4,599.7 101.7,604.6C101.0,609.6 100.6,612.8 99.7,616.4C98.8,619.9 97.8,623.2 96.6,625.9C95.4,628.6 94.2,630.9 92.5,632.6C90.8,634.4 88.7,635.5 86.3,636.6C83.9,637.8 81.2,638.6 78.1,639.5C75.0,640.5 71.2,641.7 67.8,642.4C64.4,643.2 61.0,643.7 57.5,644.2C54.0,644.7 48.7,645.3 46.9,645.5Z" fill="#3762B5" fill-opacity="0.24" stroke="none"/><path d="M46.9,645.0C48.7,644.8 54.0,644.1 57.5,643.5C61.0,642.9 64.4,642.4 67.8,641.5C71.2,640.6 75.0,639.4 78.1,638.4C81.2,637.4 83.9,636.5 86.3,635.3C88.7,634.1 90.8,633.1 92.5,631.2C94.2,629.3 95.4,626.9 96.6,624.0C97.8,621.1 98.8,617.5 99.7,613.7C100.6,609.9 101.0,606.5 101.7,601.4C102.4,596.3 103.1,590.1 103.8,582.9C104.5,575.7 105.1,563.1 105.8,558.3C106.5,553.5 107.2,554.7 107.9,554.2C108.6,553.7 109.2,554.2 110.0,555.2C110.8,556.2 112.0,557.7 113.0,560.3C114.0,562.9 115.2,566.6 116.1,570.6C117.0,574.6 117.5,582.6 118.2,584.0C118.9,585.4 119.5,581.7 120.2,578.8C120.9,575.9 121.4,570.3 122.3,566.5C123.2,562.7 124.4,561.3 125.4,556.2C126.4,551.1 127.7,540.0 128.5,535.7C129.3,531.4 129.8,530.6 130.5,530.6C131.2,530.6 131.8,534.2 132.6,535.7C133.4,537.2 134.6,540.5 135.6,539.8C136.6,539.1 137.7,533.3 138.7,531.6C139.7,529.9 140.8,530.2 141.8,529.5C142.8,528.8 143.7,528.4 144.9,527.5C146.1,526.6 147.8,524.8 149.0,524.4C150.2,524.0 150.9,523.8 152.1,525.4C153.3,527.0 154.8,535.1 156.2,533.7C157.6,532.3 159.1,521.3 160.3,517.2C161.5,513.1 162.2,508.1 163.4,509.0C164.6,509.9 166.3,521.0 167.5,522.4C168.7,523.8 169.6,516.0 170.6,517.2C171.6,518.4 172.7,525.2 173.7,529.5C174.7,533.8 175.7,542.5 176.7,542.9C177.7,543.2 178.9,532.5 179.8,531.6C180.7,530.8 180.9,539.0 181.9,537.8C182.9,536.6 184.6,525.4 186.0,524.4C187.4,523.4 188.7,526.8 190.1,531.6C191.5,536.4 193.0,553.2 194.2,553.2C195.4,553.2 196.1,538.1 197.3,531.6C198.5,525.1 200.0,517.5 201.4,514.1C202.8,510.7 204.1,510.2 205.5,511.1C206.9,512.0 208.0,516.9 209.6,519.3C211.2,521.7 213.2,524.5 214.8,525.4C216.4,526.2 217.5,524.2 218.9,524.4C220.3,524.6 221.6,526.5 223.0,526.5C224.4,526.5 225.7,525.6 227.1,524.4C228.5,523.2 229.8,520.1 231.2,519.3C232.6,518.4 233.9,519.6 235.3,519.3C236.7,518.9 238.0,515.8 239.4,517.2C240.8,518.6 242.1,526.3 243.5,527.5C244.9,528.7 246.2,526.6 247.6,524.4C249.0,522.2 251.1,515.8 251.8,514.1" fill="none" stroke="#3762B5" stroke-width="2.1" stroke-linejoin="round" stroke-linecap="round"/><path d="M46.9,644.5C48.7,644.2 52.3,643.9 57.5,642.9C62.7,642.0 71.9,640.1 78.1,638.7C84.3,637.3 90.0,635.7 94.5,634.5C99.0,633.2 101.7,632.7 104.8,631.3C107.9,629.9 110.8,628.2 113.0,626.1C115.2,624.1 116.8,621.5 118.2,618.9C119.6,616.3 120.3,614.7 121.3,610.4C122.3,606.2 123.3,600.5 124.3,593.4C125.3,586.4 126.4,576.2 127.4,568.1C128.4,560.0 129.5,550.9 130.5,544.9C131.5,538.9 132.6,536.2 133.6,532.0C134.6,527.7 135.7,523.5 136.7,519.3C137.7,515.1 138.8,510.4 139.8,506.8C140.8,503.1 141.8,499.6 142.8,497.3C143.8,495.0 144.9,493.9 145.9,493.0C146.9,492.1 147.8,492.5 149.0,491.8C150.2,491.0 151.6,489.8 153.1,488.6C154.6,487.4 156.6,483.6 158.2,484.5C159.8,485.4 161.0,491.5 162.4,493.7C163.8,495.9 165.1,496.3 166.5,497.9C167.9,499.4 169.4,504.6 170.6,503.0C171.8,501.4 172.7,491.7 173.7,488.6C174.7,485.5 175.5,484.5 176.7,484.5C177.9,484.5 179.5,486.7 180.9,488.6C182.3,490.5 183.8,494.1 185.0,495.8C186.2,497.5 187.0,499.8 188.0,498.9C189.0,498.0 190.1,491.2 191.1,490.7C192.1,490.2 193.0,494.6 194.2,495.8C195.4,497.0 196.9,498.8 198.3,497.9C199.7,497.0 201.0,491.6 202.4,490.7C203.8,489.8 205.1,492.0 206.5,492.7C207.9,493.4 209.3,493.9 210.7,494.8C212.1,495.7 213.4,499.3 214.8,497.9C216.2,496.5 217.5,487.8 218.9,486.6C220.3,485.4 221.6,488.8 223.0,490.7C224.4,492.6 225.7,496.7 227.1,497.9C228.5,499.1 229.8,497.4 231.2,497.9C232.6,498.4 233.9,498.2 235.3,500.9C236.7,503.6 238.2,511.5 239.4,514.3C240.6,517.0 241.5,518.6 242.5,517.4C243.5,516.2 244.6,508.5 245.6,507.1C246.6,505.7 247.7,507.1 248.7,509.1C249.7,511.2 251.3,517.7 251.8,519.4L251.8,529.4C251.3,527.7 249.7,521.1 248.7,519.1C247.7,517.1 246.6,515.7 245.6,517.1C244.6,518.5 243.5,526.2 242.5,527.4C241.5,528.6 240.6,527.0 239.4,524.3C238.2,521.5 236.7,513.6 235.3,510.9C233.9,508.2 232.6,508.4 231.2,507.9C229.8,507.4 228.5,509.1 227.1,507.9C225.7,506.7 224.4,502.6 223.0,500.7C221.6,498.8 220.3,495.4 218.9,496.6C217.5,497.8 216.2,506.5 214.8,507.9C213.4,509.3 212.1,505.7 210.7,504.8C209.3,503.9 207.9,503.4 206.5,502.7C205.1,502.0 203.8,499.8 202.4,500.7C201.0,501.6 199.7,507.0 198.3,507.9C196.9,508.8 195.4,507.0 194.2,505.8C193.0,504.6 192.1,500.2 191.1,500.7C190.1,501.2 189.0,508.0 188.0,508.9C187.0,509.8 186.2,507.5 185.0,505.8C183.8,504.1 182.3,500.5 180.9,498.6C179.5,496.7 177.9,494.5 176.7,494.5C175.5,494.5 174.7,495.5 173.7,498.6C172.7,501.7 171.8,511.4 170.6,513.0C169.4,514.5 167.9,509.4 166.5,507.9C165.1,506.3 163.8,505.9 162.4,503.7C161.0,501.5 159.8,495.4 158.2,494.5C156.6,493.6 154.6,497.4 153.1,498.6C151.6,499.8 150.2,501.0 149.0,501.6C147.8,502.3 146.9,501.6 145.9,502.4C144.9,503.2 143.8,504.2 142.8,506.3C141.8,508.5 140.8,511.9 139.8,515.4C138.8,519.0 137.7,523.5 136.7,527.5C135.7,531.5 134.6,535.5 133.6,539.4C132.6,543.4 131.5,545.5 130.5,551.1C129.5,556.7 128.4,565.4 127.4,573.1C126.4,580.8 125.3,590.5 124.3,597.2C123.3,603.8 122.3,609.0 121.3,613.0C120.3,616.9 119.6,618.4 118.2,620.9C116.8,623.4 115.2,626.0 113.0,628.1C110.8,630.1 107.9,631.8 104.8,633.1C101.7,634.4 99.0,635.0 94.5,636.1C90.0,637.3 84.3,638.8 78.1,640.1C71.9,641.4 62.7,643.2 57.5,644.1C52.3,645.0 48.7,645.3 46.9,645.5Z" fill="#3DA84F" fill-opacity="0.24" stroke="none"/><path d="M46.9,645.0C48.7,644.8 52.3,644.4 57.5,643.5C62.7,642.6 71.9,640.8 78.1,639.4C84.3,638.0 90.0,636.5 94.5,635.3C99.0,634.1 101.7,633.6 104.8,632.2C107.9,630.8 110.8,629.2 113.0,627.1C115.2,625.0 116.8,622.5 118.2,619.9C119.6,617.3 120.3,615.8 121.3,611.7C122.3,607.6 123.3,602.1 124.3,595.3C125.3,588.4 126.4,578.5 127.4,570.6C128.4,562.7 129.5,553.8 130.5,548.0C131.5,542.2 132.6,539.8 133.6,535.7C134.6,531.6 135.7,527.5 136.7,523.4C137.7,519.3 138.8,514.7 139.8,511.1C140.8,507.5 141.8,504.0 142.8,501.8C143.8,499.6 144.9,498.6 145.9,497.7C146.9,496.8 147.8,497.4 149.0,496.7C150.2,496.0 151.6,494.8 153.1,493.6C154.6,492.4 156.6,488.6 158.2,489.5C159.8,490.4 161.0,496.5 162.4,498.7C163.8,500.9 165.1,501.3 166.5,502.9C167.9,504.4 169.4,509.6 170.6,508.0C171.8,506.4 172.7,496.7 173.7,493.6C174.7,490.5 175.5,489.5 176.7,489.5C177.9,489.5 179.5,491.7 180.9,493.6C182.3,495.5 183.8,499.1 185.0,500.8C186.2,502.5 187.0,504.8 188.0,503.9C189.0,503.0 190.1,496.2 191.1,495.7C192.1,495.2 193.0,499.6 194.2,500.8C195.4,502.0 196.9,503.8 198.3,502.9C199.7,502.0 201.0,496.6 202.4,495.7C203.8,494.8 205.1,497.0 206.5,497.7C207.9,498.4 209.3,498.9 210.7,499.8C212.1,500.7 213.4,504.3 214.8,502.9C216.2,501.5 217.5,492.8 218.9,491.6C220.3,490.4 221.6,493.8 223.0,495.7C224.4,497.6 225.7,501.7 227.1,502.9C228.5,504.1 229.8,502.4 231.2,502.9C232.6,503.4 233.9,503.2 235.3,505.9C236.7,508.6 238.2,516.5 239.4,519.3C240.6,522.0 241.5,523.6 242.5,522.4C243.5,521.2 244.6,513.5 245.6,512.1C246.6,510.7 247.7,512.1 248.7,514.1C249.7,516.1 251.3,522.7 251.8,524.4" fill="none" stroke="#3DA84F" stroke-width="2.1" stroke-linejoin="round" stroke-linecap="round"/>
</g>
</g>
<g id="p6">
<rect x="307.2" y="469.7" width="226.0" height="184.4" fill="#EAEAF2"/>
<line x1="307.2" x2="533.2" y1="478.5" y2="478.5" stroke="#ffffff" stroke-width="1.2"/>
<line x1="307.2" x2="533.2" y1="512.3" y2="512.3" stroke="#ffffff" stroke-width="1.2"/>
<line x1="307.2" x2="533.2" y1="546.1" y2="546.1" stroke="#ffffff" stroke-width="1.2"/>
<line x1="307.2" x2="533.2" y1="579.8" y2="579.8" stroke="#ffffff" stroke-width="1.2"/>
<line x1="307.2" x2="533.2" y1="613.6" y2="613.6" stroke="#ffffff" stroke-width="1.2"/>
<line x1="307.2" x2="533.2" y1="647.4" y2="647.4" stroke="#ffffff" stroke-width="1.2"/>
<line x1="318.1" x2="318.1" y1="469.7" y2="654.1" stroke="#ffffff" stroke-width="1.2"/>
<line x1="523.0" x2="523.0" y1="469.7" y2="654.1" stroke="#ffffff" stroke-width="1.2"/>
<clipPath id="cp6"><rect x="307.2" y="469.7" width="226.0" height="184.4"/></clipPath>
<g clip-path="url(#cp6)">
<path d="M317.9,644.5C318.3,643.7 319.7,641.7 320.5,639.4C321.3,637.1 321.9,635.4 322.8,630.6C323.7,625.9 324.9,619.1 325.7,610.9C326.5,602.7 327.0,592.0 327.7,581.6C328.4,571.1 329.0,558.7 329.6,548.3C330.2,537.8 330.9,527.7 331.6,518.9C332.3,510.1 333.0,501.0 333.6,495.4C334.2,489.9 334.7,488.2 335.5,485.6C336.3,482.9 337.3,480.9 338.4,479.7C339.5,478.4 340.7,478.1 342.3,477.9C343.9,477.8 346.5,478.4 348.1,478.7C349.8,479.0 350.8,479.1 352.2,479.6C353.6,480.0 354.9,481.0 356.3,481.4C357.7,481.9 359.0,481.8 360.4,482.3C361.8,482.8 363.3,483.8 364.5,484.6C365.7,485.4 366.6,486.2 367.6,487.0C368.6,487.8 369.7,490.4 370.7,489.5C371.7,488.6 372.6,483.4 373.8,481.6C375.0,479.9 376.5,478.9 377.9,478.8C379.3,478.7 380.5,480.5 382.0,480.9C383.5,481.2 385.6,480.4 387.1,480.9C388.6,481.4 390.0,481.8 391.2,483.7C392.4,485.7 393.1,490.9 394.3,492.6C395.5,494.2 396.7,493.7 398.4,493.5C400.1,493.4 402.5,492.3 404.6,491.6C406.7,490.9 409.1,489.8 410.8,489.3C412.5,488.8 413.4,488.6 414.9,488.6C416.4,488.5 418.5,488.9 420.0,489.0C421.5,489.1 422.9,490.4 424.1,489.3C425.3,488.2 425.8,484.2 427.2,482.4C428.6,480.6 430.1,479.0 432.3,478.4C434.5,477.8 437.5,478.7 440.6,478.6C443.7,478.5 447.4,477.9 450.8,477.8C454.2,477.7 457.7,478.1 461.1,478.0C464.5,477.9 468.0,477.2 471.4,477.2C474.8,477.3 478.3,478.2 481.7,478.4C485.1,478.7 488.5,478.1 491.9,478.7C495.3,479.2 499.1,481.2 502.2,482.0C505.3,482.7 508.0,483.4 510.4,483.1C512.8,482.8 514.5,480.8 516.6,480.2C518.7,479.5 521.8,479.4 522.8,479.3L522.8,483.3C521.8,483.5 518.7,483.7 516.6,484.4C514.5,485.1 512.8,487.2 510.4,487.5C508.0,487.9 505.3,487.3 502.2,486.6C499.1,486.0 495.3,484.1 491.9,483.6C488.5,483.1 485.1,483.9 481.7,483.7C478.3,483.6 474.8,482.8 471.4,482.8C468.0,482.9 464.5,483.7 461.1,484.0C457.7,484.2 454.2,483.9 450.8,484.1C447.4,484.3 443.7,485.0 440.6,485.2C437.5,485.4 434.5,484.4 432.3,485.3C430.1,486.1 428.6,486.5 427.2,490.4C425.8,494.3 425.3,503.2 424.1,508.7C422.9,514.1 421.5,519.4 420.0,523.0C418.5,526.6 416.4,527.9 414.9,530.2C413.4,532.6 412.5,535.4 410.8,537.1C409.1,538.9 406.7,539.9 404.6,540.8C402.5,541.7 400.1,542.7 398.4,542.3C396.7,541.9 395.5,541.5 394.3,538.6C393.1,535.6 392.4,529.5 391.2,524.7C390.0,519.9 388.6,514.5 387.1,510.1C385.6,505.6 383.5,501.1 382.0,498.1C380.5,495.1 379.3,492.7 377.9,491.8C376.5,490.8 375.0,491.4 373.8,492.5C372.6,493.7 371.7,498.4 370.7,498.8C369.7,499.2 368.6,496.1 367.6,494.8C366.6,493.5 365.7,492.2 364.5,490.9C363.3,489.5 361.8,487.5 360.4,486.5C359.0,485.6 357.7,485.8 356.3,485.2C354.9,484.6 353.6,483.6 352.2,483.0C350.8,482.5 349.8,482.3 348.1,481.9C346.5,481.5 343.9,480.6 342.3,480.7C340.7,480.7 339.5,480.9 338.4,482.1C337.3,483.3 336.3,485.3 335.5,487.8C334.7,490.4 334.2,492.0 333.6,497.6C333.0,503.1 332.3,512.1 331.6,520.9C330.9,529.6 330.2,539.7 329.6,550.1C329.0,560.5 328.4,572.9 327.7,583.2C327.0,593.6 326.5,604.4 325.7,612.5C324.9,620.6 323.7,627.3 322.8,632.0C321.9,636.7 321.3,638.3 320.5,640.6C319.7,642.8 318.3,644.7 317.9,645.5Z" fill="#3DA84F" fill-opacity="0.24" stroke="none"/><path d="M317.9,645.0C318.3,644.2 319.7,642.3 320.5,640.0C321.3,637.7 321.9,636.0 322.8,631.3C323.7,626.6 324.9,619.9 325.7,611.7C326.5,603.6 327.0,592.8 327.7,582.4C328.4,572.0 329.0,559.6 329.6,549.2C330.2,538.8 330.9,528.7 331.6,519.9C332.3,511.1 333.0,502.0 333.6,496.5C334.2,491.0 334.7,489.3 335.5,486.7C336.3,484.1 337.3,482.1 338.4,480.9C339.5,479.7 340.7,479.4 342.3,479.3C343.9,479.2 346.5,480.0 348.1,480.3C349.8,480.6 350.8,480.8 352.2,481.3C353.6,481.8 354.9,482.8 356.3,483.3C357.7,483.8 359.0,483.7 360.4,484.4C361.8,485.1 363.3,486.5 364.5,487.5C365.7,488.5 366.6,489.5 367.6,490.5C368.6,491.5 369.7,494.3 370.7,493.6C371.7,492.9 372.6,487.9 373.8,486.4C375.0,484.9 376.5,484.0 377.9,484.4C379.3,484.8 380.5,487.1 382.0,488.5C383.5,489.9 385.6,490.9 387.1,492.6C388.6,494.3 390.0,495.8 391.2,498.7C392.4,501.6 393.1,507.6 394.3,510.0C395.5,512.4 396.7,512.4 398.4,513.1C400.1,513.8 402.5,513.9 404.6,514.1C406.7,514.3 409.1,514.4 410.8,514.1C412.5,513.8 413.4,512.6 414.9,512.1C416.4,511.6 418.5,512.9 420.0,511.0C421.5,509.1 422.9,504.9 424.1,500.8C425.3,496.7 425.8,489.5 427.2,486.4C428.6,483.3 430.1,483.0 432.3,482.3C434.5,481.6 437.5,482.5 440.6,482.3C443.7,482.1 447.4,481.5 450.8,481.3C454.2,481.1 457.7,481.5 461.1,481.3C464.5,481.1 468.0,480.3 471.4,480.3C474.8,480.3 478.3,481.1 481.7,481.3C485.1,481.5 488.5,480.8 491.9,481.3C495.3,481.8 499.1,483.7 502.2,484.4C505.3,485.1 508.0,485.8 510.4,485.4C512.8,485.0 514.5,483.0 516.6,482.3C518.7,481.6 521.8,481.5 522.8,481.3" fill="none" stroke="#3DA84F" stroke-width="2.1" stroke-linejoin="round" stroke-linecap="round"/><path d="M317.9,645.1C319.0,644.1 322.7,641.2 324.8,638.9C326.9,636.7 328.7,634.6 330.6,631.6C332.6,628.7 334.7,625.2 336.5,621.2C338.3,617.3 339.8,611.9 341.4,607.9C343.0,603.9 344.8,599.6 346.3,597.0C347.8,594.4 349.1,592.4 350.2,592.1C351.3,591.8 351.8,595.6 353.1,595.0C354.5,594.4 356.7,590.7 358.3,588.2C359.9,585.7 361.1,583.1 362.5,580.0C363.9,576.9 365.2,572.1 366.6,569.7C368.0,567.3 369.3,567.0 370.7,565.6C372.1,564.2 373.4,563.2 374.8,561.5C376.2,559.8 377.5,555.6 378.9,555.3C380.3,555.0 381.6,558.1 383.0,559.5C384.4,560.9 385.7,563.3 387.1,563.6C388.5,563.9 389.6,562.4 391.2,561.5C392.8,560.6 394.8,558.6 396.4,558.4C397.9,558.2 399.1,561.0 400.5,560.5C401.9,560.0 403.2,556.4 404.6,555.2C406.0,554.0 407.3,554.0 408.7,553.1C410.1,552.2 411.4,550.7 412.8,549.9C414.2,549.2 415.7,548.5 416.9,548.9C418.1,549.2 418.8,551.2 420.0,551.9C421.2,552.6 422.7,553.0 424.1,552.8C425.5,552.6 426.8,550.5 428.2,550.6C429.6,550.8 430.9,553.5 432.3,553.7C433.7,553.8 435.0,551.4 436.4,551.6C437.8,551.7 439.2,554.5 440.6,554.5C442.0,554.5 443.3,552.8 444.7,551.4C446.1,550.0 447.4,546.7 448.8,546.1C450.2,545.6 451.5,548.9 452.9,548.1C454.3,547.4 455.6,543.6 457.0,541.9C458.4,540.1 459.9,537.4 461.1,537.7C462.3,538.0 463.0,543.3 464.2,543.8C465.4,544.3 467.1,540.8 468.3,540.6C469.5,540.4 470.4,543.4 471.4,542.7C472.4,542.0 473.5,536.4 474.5,536.4C475.5,536.4 476.5,540.5 477.5,542.6C478.5,544.6 479.4,548.4 480.6,548.6C481.8,548.7 483.3,544.1 484.7,543.4C486.1,542.7 487.4,545.0 488.8,544.3C490.2,543.6 491.6,539.3 493.0,539.1C494.4,538.9 495.6,544.1 497.1,543.2C498.6,542.2 500.7,534.1 502.2,533.4C503.7,532.6 504.9,535.9 506.3,538.7C507.7,541.6 509.0,549.2 510.4,550.4C511.8,551.6 513.1,547.1 514.5,545.9C515.9,544.8 517.2,544.8 518.6,543.4C520.0,542.1 522.1,538.8 522.8,537.9L522.8,551.9C522.1,553.0 520.0,557.0 518.6,558.8C517.2,560.5 515.9,560.9 514.5,562.5C513.1,564.1 511.8,569.4 510.4,568.2C509.0,567.0 507.7,558.6 506.3,555.3C504.9,551.9 503.7,547.9 502.2,548.2C500.7,548.5 498.6,556.3 497.1,557.0C495.6,557.8 494.4,552.7 493.0,552.9C491.6,553.0 490.2,557.2 488.8,557.9C487.4,558.5 486.1,556.1 484.7,556.8C483.3,557.5 481.8,562.0 480.6,561.8C479.4,561.6 478.5,557.7 477.5,555.6C476.5,553.6 475.5,549.4 474.5,549.4C473.5,549.4 472.4,554.9 471.4,555.5C470.4,556.2 469.5,553.2 468.3,553.4C467.1,553.5 465.4,556.9 464.2,556.4C463.0,555.8 462.3,550.5 461.1,550.1C459.9,549.7 458.4,552.5 457.0,554.1C455.6,555.8 454.3,559.6 452.9,560.3C451.5,560.9 450.2,557.6 448.8,558.1C447.4,558.6 446.1,561.9 444.7,563.2C443.3,564.5 442.0,566.1 440.6,566.1C439.2,566.1 437.8,563.2 436.4,563.0C435.0,562.8 433.7,565.2 432.3,564.9C430.9,564.7 429.6,562.0 428.2,561.8C426.8,561.6 425.5,563.6 424.1,563.8C422.7,563.9 421.2,563.4 420.0,562.7C418.8,562.0 418.1,559.9 416.9,559.5C415.7,559.2 414.2,559.8 412.8,560.5C411.4,561.1 410.1,562.7 408.7,563.5C407.3,564.3 406.0,564.2 404.6,565.4C403.2,566.6 401.9,570.0 400.5,570.5C399.1,571.0 397.9,568.2 396.4,568.4C394.8,568.6 392.8,570.6 391.2,571.5C389.6,572.4 388.5,573.9 387.1,573.6C385.7,573.3 384.4,570.9 383.0,569.5C381.6,568.1 380.3,565.0 378.9,565.3C377.5,565.6 376.2,569.8 374.8,571.5C373.4,573.2 372.1,574.2 370.7,575.6C369.3,577.0 368.0,577.3 366.6,579.7C365.2,582.1 363.9,586.9 362.5,590.0C361.1,593.1 359.9,595.7 358.3,598.2C356.7,600.7 354.5,604.4 353.1,605.0C351.8,605.6 351.3,601.8 350.2,602.1C349.1,602.4 347.8,604.8 346.3,607.0C344.8,609.2 343.0,612.4 341.4,615.5C339.8,618.6 338.3,622.4 336.5,625.6C334.7,628.8 332.6,632.2 330.6,634.8C328.7,637.3 326.9,639.2 324.8,641.1C322.7,643.0 319.0,645.3 317.9,646.1Z" fill="#CC3540" fill-opacity="0.24" stroke="none"/><path d="M317.9,645.6C319.0,644.7 322.7,642.1 324.8,640.0C326.9,637.9 328.7,636.0 330.6,633.2C332.6,630.4 334.7,627.0 336.5,623.4C338.3,619.8 339.8,615.3 341.4,611.7C343.0,608.1 344.8,604.4 346.3,602.0C347.8,599.6 349.1,597.4 350.2,597.1C351.3,596.8 351.8,600.6 353.1,600.0C354.5,599.4 356.7,595.7 358.3,593.2C359.9,590.7 361.1,588.1 362.5,585.0C363.9,581.9 365.2,577.1 366.6,574.7C368.0,572.3 369.3,572.0 370.7,570.6C372.1,569.2 373.4,568.2 374.8,566.5C376.2,564.8 377.5,560.6 378.9,560.3C380.3,560.0 381.6,563.1 383.0,564.5C384.4,565.9 385.7,568.3 387.1,568.6C388.5,568.9 389.6,567.4 391.2,566.5C392.8,565.6 394.8,563.6 396.4,563.4C397.9,563.2 399.1,566.0 400.5,565.5C401.9,565.0 403.2,561.5 404.6,560.3C406.0,559.1 407.3,559.1 408.7,558.3C410.1,557.4 411.4,555.9 412.8,555.2C414.2,554.5 415.7,553.9 416.9,554.2C418.1,554.6 418.8,556.6 420.0,557.3C421.2,558.0 422.7,558.5 424.1,558.3C425.5,558.1 426.8,556.0 428.2,556.2C429.6,556.4 430.9,559.1 432.3,559.3C433.7,559.5 435.0,557.1 436.4,557.3C437.8,557.5 439.2,560.3 440.6,560.3C442.0,560.3 443.3,558.7 444.7,557.3C446.1,555.9 447.4,552.6 448.8,552.1C450.2,551.6 451.5,554.9 452.9,554.2C454.3,553.5 455.6,549.7 457.0,548.0C458.4,546.3 459.9,543.5 461.1,543.9C462.3,544.2 463.0,549.6 464.2,550.1C465.4,550.6 467.1,547.2 468.3,547.0C469.5,546.8 470.4,549.8 471.4,549.1C472.4,548.4 473.5,542.9 474.5,542.9C475.5,542.9 476.5,547.0 477.5,549.1C478.5,551.2 479.4,555.0 480.6,555.2C481.8,555.4 483.3,550.8 484.7,550.1C486.1,549.4 487.4,551.8 488.8,551.1C490.2,550.4 491.6,546.2 493.0,546.0C494.4,545.8 495.6,551.0 497.1,550.1C498.6,549.2 500.7,541.3 502.2,540.8C503.7,540.3 504.9,543.9 506.3,547.0C507.7,550.1 509.0,558.1 510.4,559.3C511.8,560.5 513.1,555.6 514.5,554.2C515.9,552.8 517.2,552.7 518.6,551.1C520.0,549.5 522.1,545.9 522.8,544.9" fill="none" stroke="#CC3540" stroke-width="2.1" stroke-linejoin="round" stroke-linecap="round"/><path d="M317.9,644.5C318.5,643.8 320.4,642.6 321.5,640.3C322.6,637.9 323.8,635.9 324.8,630.3C325.8,624.7 326.9,616.5 327.7,606.6C328.5,596.8 329.0,582.8 329.6,571.4C330.2,560.0 330.9,547.9 331.6,538.1C332.3,528.3 333.0,519.1 333.6,512.5C334.2,506.0 334.9,501.5 335.5,498.7C336.1,495.9 336.9,495.9 337.5,495.7C338.1,495.5 338.8,495.9 339.4,497.4C340.0,499.0 340.8,501.3 341.4,504.8C342.0,508.3 342.8,514.5 343.3,518.6C343.8,522.7 343.8,527.0 344.3,529.6C344.8,532.3 345.5,531.7 346.3,534.3C347.1,536.9 348.2,540.6 349.2,545.3C350.2,550.0 351.1,556.7 352.1,562.4C353.1,568.1 354.2,574.0 355.0,579.5C355.8,585.0 355.9,590.9 356.8,595.3C357.7,599.6 359.3,603.2 360.4,605.6C361.5,608.0 362.3,607.5 363.5,609.6C364.7,611.6 366.2,616.6 367.6,617.7C369.0,618.8 370.3,616.0 371.7,616.1C373.1,616.2 374.6,622.1 375.8,618.5C377.0,614.8 378.0,601.7 378.9,594.3C379.8,586.9 380.3,580.6 381.0,573.8C381.7,566.9 382.1,561.2 383.0,553.2C383.9,545.2 384.9,532.1 386.1,525.6C387.3,519.2 389.2,515.5 390.2,514.3C391.2,513.1 391.6,515.4 392.3,518.4C393.0,521.3 393.6,526.5 394.3,531.8C395.0,537.1 395.7,546.8 396.4,550.3C397.1,553.7 397.5,552.8 398.4,552.5C399.2,552.2 400.5,550.4 401.5,548.3C402.5,546.2 403.4,543.4 404.6,539.8C405.8,536.3 407.3,530.3 408.7,527.2C410.1,524.0 411.4,523.3 412.8,520.9C414.2,518.5 415.7,516.5 416.9,512.7C418.1,508.8 419.0,502.1 420.0,497.8C421.0,493.5 422.0,490.1 423.0,487.0C424.0,484.0 424.7,480.3 426.2,479.4C427.7,478.4 429.6,481.3 432.0,481.1C434.4,480.9 439.0,476.4 440.6,478.2C442.2,480.0 440.9,491.3 441.5,491.8C442.1,492.3 442.6,483.7 444.0,481.2C445.4,478.8 447.3,477.9 450.0,477.3C452.7,476.7 455.3,477.2 460.0,477.4C464.7,477.6 474.7,475.4 478.0,478.6C481.3,481.7 478.9,496.1 479.6,496.3C480.3,496.5 480.3,482.7 482.0,479.6C483.7,476.5 487.0,478.2 490.0,477.7C493.0,477.2 494.5,477.0 500.0,476.8C505.5,476.6 519.0,476.6 522.8,476.6L522.8,480.6C519.0,480.7 505.5,480.9 500.0,481.2C494.5,481.5 493.0,481.8 490.0,482.3C487.0,482.8 483.7,481.3 482.0,484.4C480.3,487.5 480.3,501.3 479.6,501.1C478.9,501.0 481.3,486.5 478.0,483.4C474.7,480.4 464.7,482.7 460.0,482.6C455.3,482.5 452.7,482.0 450.0,482.7C447.3,483.4 445.4,484.3 444.0,486.8C442.6,489.2 442.1,497.9 441.5,497.4C440.9,496.9 442.2,485.6 440.6,483.8C439.0,482.0 434.4,486.6 432.0,486.9C429.6,487.1 427.7,484.2 426.2,485.2C424.7,486.3 424.0,489.9 423.0,493.0C422.0,496.1 421.0,499.1 420.0,503.8C419.0,508.5 418.1,516.2 416.9,521.0C415.7,525.8 414.2,528.9 412.8,532.6C411.4,536.3 410.1,538.0 408.7,543.3C407.3,548.5 405.8,556.7 404.6,563.8C403.4,571.0 402.5,580.9 401.5,586.0C400.5,591.1 399.2,595.4 398.4,594.5C397.5,593.6 397.1,588.0 396.4,580.5C395.7,573.1 395.0,557.3 394.3,549.8C393.6,542.3 393.0,538.6 392.3,535.4C391.6,532.1 391.2,529.9 390.2,530.3C389.2,530.7 387.3,532.9 386.1,537.7C384.9,542.6 383.9,552.1 383.0,559.2C382.1,566.3 381.7,573.3 381.0,580.3C380.3,587.3 379.8,593.7 378.9,601.3C378.0,609.0 377.0,622.1 375.8,626.3C374.6,630.5 373.1,625.6 371.7,626.3C370.3,627.0 369.0,631.4 367.6,630.5C366.2,629.6 364.7,623.5 363.5,621.1C362.3,618.7 361.5,618.8 360.4,616.2C359.3,613.6 357.7,609.9 356.8,605.5C355.9,601.0 355.8,594.6 355.0,589.6C354.2,584.5 353.1,580.0 352.1,575.2C351.1,570.4 350.2,565.4 349.2,560.9C348.2,556.4 347.1,551.7 346.3,548.5C345.5,545.2 344.8,544.6 344.3,541.4C343.8,538.1 343.8,534.0 343.3,529.0C342.8,524.0 342.0,516.2 341.4,511.6C340.8,507.0 340.0,503.4 339.4,501.4C338.8,499.3 338.1,499.2 337.5,499.3C336.9,499.5 336.1,499.4 335.5,502.1C334.9,504.8 334.2,509.2 333.6,515.7C333.0,522.1 332.3,531.2 331.6,540.9C330.9,550.7 330.2,562.7 329.6,574.0C329.0,585.3 328.5,599.3 327.7,609.0C326.9,618.7 325.8,626.8 324.8,632.3C323.8,637.7 322.6,639.5 321.5,641.7C320.4,643.9 318.5,644.9 317.9,645.5Z" fill="#3762B5" fill-opacity="0.24" stroke="none"/><path d="M317.9,645.0C318.5,644.3 320.4,643.3 321.5,641.0C322.6,638.7 323.8,636.8 324.8,631.3C325.8,625.8 326.9,617.6 327.7,607.8C328.5,598.0 329.0,584.1 329.6,572.7C330.2,561.3 330.9,549.3 331.6,539.5C332.3,529.7 333.0,520.6 333.6,514.1C334.2,507.6 334.9,503.2 335.5,500.4C336.1,497.6 336.9,497.7 337.5,497.5C338.1,497.3 338.8,497.6 339.4,499.4C340.0,501.2 340.8,504.1 341.4,508.2C342.0,512.3 342.8,519.2 343.3,523.8C343.8,528.3 343.8,532.6 344.3,535.5C344.8,538.4 345.5,538.5 346.3,541.4C347.1,544.3 348.2,548.5 349.2,553.1C350.2,557.7 351.1,563.6 352.1,568.8C353.1,574.0 354.2,579.2 355.0,584.4C355.8,589.6 355.9,595.7 356.8,600.0C357.7,604.3 359.3,607.7 360.4,610.0C361.5,612.3 362.3,611.8 363.5,613.7C364.7,615.6 366.2,620.5 367.6,621.5C369.0,622.5 370.3,619.5 371.7,619.5C373.1,619.5 374.6,625.2 375.8,621.5C377.0,617.8 378.0,604.8 378.9,597.3C379.8,589.8 380.3,583.6 381.0,576.8C381.7,569.9 382.1,563.7 383.0,556.2C383.9,548.7 384.9,537.9 386.1,531.6C387.3,525.3 389.2,519.5 390.2,518.3C391.2,517.1 391.6,520.8 392.3,524.4C393.0,528.0 393.6,533.8 394.3,539.8C395.0,545.8 395.7,556.2 396.4,560.3C397.1,564.4 397.5,564.5 398.4,564.5C399.2,564.5 400.5,562.7 401.5,560.3C402.5,557.9 403.4,554.2 404.6,550.1C405.8,546.0 407.3,539.5 408.7,535.7C410.1,531.9 411.4,530.6 412.8,527.5C414.2,524.4 415.7,521.7 416.9,517.2C418.1,512.8 419.0,505.3 420.0,500.8C421.0,496.3 422.0,493.1 423.0,490.0C424.0,486.9 424.7,483.3 426.2,482.3C427.7,481.3 429.6,484.2 432.0,484.0C434.4,483.8 439.0,479.2 440.6,481.0C442.2,482.8 440.9,494.1 441.5,494.6C442.1,495.1 442.6,486.4 444.0,484.0C445.4,481.6 447.3,480.7 450.0,480.0C452.7,479.3 455.3,479.8 460.0,480.0C464.7,480.2 474.7,477.9 478.0,481.0C481.3,484.1 478.9,498.5 479.6,498.7C480.3,498.9 480.3,485.1 482.0,482.0C483.7,478.9 487.0,480.5 490.0,480.0C493.0,479.5 494.5,479.2 500.0,479.0C505.5,478.8 519.0,478.7 522.8,478.6" fill="none" stroke="#3762B5" stroke-width="2.1" stroke-linejoin="round" stroke-linecap="round"/><path d="M317.9,643.0C318.2,641.4 319.2,637.1 319.9,633.2C320.5,629.3 321.1,626.0 321.8,619.5C322.5,613.0 323.2,602.9 323.8,594.1C324.4,585.3 325.1,576.6 325.7,566.8C326.3,557.0 327.0,545.3 327.7,535.5C328.4,525.7 329.0,515.7 329.6,508.2C330.2,500.7 330.9,494.2 331.6,490.6C332.3,487.0 333.0,486.6 333.6,486.3C334.2,486.0 334.8,487.7 335.5,488.6C336.2,489.5 336.9,492.6 337.8,491.6C338.7,490.6 339.7,484.3 340.9,482.4C342.1,480.4 343.6,480.6 345.0,479.9C346.4,479.2 347.7,478.3 349.1,478.3C350.5,478.3 352.0,479.0 353.2,479.9C354.4,480.8 355.3,482.6 356.3,483.4C357.3,484.1 358.4,483.5 359.4,484.4C360.4,485.2 361.5,487.3 362.5,488.5C363.5,489.7 364.5,490.1 365.5,491.6C366.5,493.2 367.7,495.9 368.6,497.8C369.5,499.7 370.0,503.4 370.7,502.9C371.4,502.4 372.0,495.4 372.7,494.7C373.4,494.0 374.1,496.4 374.8,498.8C375.5,501.2 376.1,509.5 376.8,509.1C377.5,508.8 378.2,500.1 378.9,496.7C379.6,493.3 380.1,489.2 381.0,488.5C381.9,487.8 383.0,490.2 384.0,492.6C385.0,495.0 386.1,499.6 387.1,502.9C388.1,506.1 389.3,511.4 390.2,512.1C391.1,512.8 391.4,510.6 392.3,507.0C393.2,503.4 394.3,493.7 395.3,490.6C396.3,487.5 397.4,487.8 398.4,488.5C399.4,489.2 400.5,494.5 401.5,494.7C402.5,494.9 403.6,490.0 404.6,489.6C405.6,489.2 406.7,493.0 407.7,492.6C408.7,492.2 409.6,487.8 410.8,487.5C412.0,487.2 413.4,490.6 414.9,490.6C416.4,490.6 418.5,488.5 420.0,487.5C421.5,486.5 422.4,485.2 424.1,484.4C425.8,483.5 428.2,482.0 430.3,482.4C432.4,482.8 434.5,484.6 436.4,486.5C438.3,488.4 440.2,493.4 441.6,493.7C443.0,494.0 443.2,490.2 444.7,488.5C446.2,486.8 448.8,484.6 450.8,483.4C452.9,482.2 454.9,481.1 457.0,481.3C459.1,481.5 461.1,484.2 463.2,484.4C465.2,484.6 467.6,481.9 469.3,482.4C471.0,482.9 471.7,487.2 473.4,487.5C475.1,487.8 477.9,484.2 479.6,484.4C481.3,484.6 482.3,487.5 483.7,488.5C485.1,489.5 486.4,491.1 487.8,490.6C489.2,490.1 490.2,486.9 491.9,485.5C493.6,484.1 496.0,483.3 498.1,482.4C500.2,481.5 502.2,480.3 504.3,480.3C506.4,480.3 508.7,481.2 510.4,482.4C512.1,483.6 513.1,485.8 514.5,487.5C515.9,489.2 517.2,493.3 518.6,492.6C520.0,491.9 522.1,484.9 522.8,483.4L522.8,488.4C522.1,490.3 520.0,498.7 518.6,499.6C517.2,500.5 515.9,495.9 514.5,494.1C513.1,492.2 512.1,489.9 510.4,488.5C508.7,487.1 506.4,485.9 504.3,485.8C502.2,485.7 500.2,486.7 498.1,487.9C496.0,489.0 493.6,490.7 491.9,492.5C490.2,494.3 489.2,498.0 487.8,498.6C486.4,499.2 485.1,497.3 483.7,496.2C482.3,495.0 481.3,492.1 479.6,491.7C477.9,491.4 475.1,494.8 473.4,494.4C471.7,493.9 471.0,489.6 469.3,488.9C467.6,488.3 465.2,490.8 463.2,490.4C461.1,490.1 459.1,487.2 457.0,486.9C454.9,486.5 452.9,487.0 450.8,488.5C448.8,489.9 446.2,493.2 444.7,495.4C443.2,497.6 443.0,501.9 441.6,501.7C440.2,501.5 438.3,496.1 436.4,494.1C434.5,492.1 432.4,490.1 430.3,489.6C428.2,489.1 425.8,490.4 424.1,491.1C422.4,491.9 421.5,493.0 420.0,493.9C418.5,494.9 416.4,496.8 414.9,496.7C413.4,496.6 412.0,493.0 410.8,493.3C409.6,493.5 408.7,497.9 407.7,498.2C406.7,498.4 405.6,494.7 404.6,494.9C403.6,495.2 402.5,500.0 401.5,499.8C400.5,499.6 399.4,494.4 398.4,493.8C397.4,493.3 396.3,493.3 395.3,496.6C394.3,499.9 393.2,509.8 392.3,513.6C391.4,517.3 391.1,519.8 390.2,519.1C389.3,518.4 388.1,512.9 387.1,509.6C386.1,506.2 385.0,501.5 384.0,499.0C383.0,496.5 381.9,493.5 381.0,494.6C380.1,495.7 379.6,500.9 378.9,505.8C378.2,510.7 377.5,523.0 376.8,524.1C376.1,525.2 375.5,515.3 374.8,512.4C374.1,509.5 373.4,506.6 372.7,506.9C372.0,507.1 371.4,513.6 370.7,513.8C370.0,514.0 369.5,510.3 368.6,508.0C367.7,505.7 366.5,502.2 365.5,500.0C364.5,497.9 363.5,496.8 362.5,495.1C361.5,493.3 360.4,490.5 359.4,489.4C358.4,488.2 357.3,489.0 356.3,488.2C355.3,487.4 354.4,485.4 353.2,484.5C352.0,483.6 350.5,482.7 349.1,482.7C347.7,482.6 346.4,483.4 345.0,484.0C343.6,484.6 342.1,484.4 340.9,486.3C339.7,488.1 338.7,494.3 337.8,495.3C336.9,496.3 336.2,493.1 335.5,492.1C334.8,491.2 334.2,489.4 333.6,489.7C333.0,490.0 332.3,490.3 331.6,493.9C330.9,497.5 330.2,504.0 329.6,511.4C329.0,518.8 328.4,528.9 327.7,538.6C327.0,548.3 326.3,560.0 325.7,569.8C325.1,579.5 324.4,588.2 323.8,597.0C323.2,605.7 322.5,615.8 321.8,622.2C321.1,628.7 320.5,631.9 319.9,635.8C319.2,639.7 318.2,643.9 317.9,645.5Z" fill="#7360B8" fill-opacity="0.24" stroke="none"/><path d="M317.9,645.0C318.2,643.4 319.2,639.1 319.9,635.2C320.5,631.3 321.1,628.0 321.8,621.5C322.5,615.0 323.2,604.9 323.8,596.1C324.4,587.3 325.1,578.6 325.7,568.8C326.3,559.0 327.0,547.3 327.7,537.5C328.4,527.7 329.0,517.7 329.6,510.2C330.2,502.7 330.9,496.2 331.6,492.6C332.3,489.0 333.0,488.6 333.6,488.3C334.2,488.0 334.8,489.7 335.5,490.6C336.2,491.5 336.9,494.6 337.8,493.6C338.7,492.6 339.7,486.3 340.9,484.4C342.1,482.4 343.6,482.6 345.0,481.9C346.4,481.2 347.7,480.3 349.1,480.3C350.5,480.3 352.0,481.0 353.2,481.9C354.4,482.8 355.3,484.6 356.3,485.4C357.3,486.1 358.4,485.5 359.4,486.4C360.4,487.2 361.5,489.3 362.5,490.5C363.5,491.7 364.5,492.1 365.5,493.6C366.5,495.2 367.7,497.9 368.6,499.8C369.5,501.7 370.0,505.4 370.7,504.9C371.4,504.4 372.0,497.4 372.7,496.7C373.4,496.0 374.1,498.4 374.8,500.8C375.5,503.2 376.1,511.5 376.8,511.1C377.5,510.8 378.2,502.1 378.9,498.7C379.6,495.3 380.1,491.2 381.0,490.5C381.9,489.8 383.0,492.2 384.0,494.6C385.0,497.0 386.1,501.6 387.1,504.9C388.1,508.1 389.3,513.4 390.2,514.1C391.1,514.8 391.4,512.6 392.3,509.0C393.2,505.4 394.3,495.7 395.3,492.6C396.3,489.5 397.4,489.8 398.4,490.5C399.4,491.2 400.5,496.5 401.5,496.7C402.5,496.9 403.6,492.0 404.6,491.6C405.6,491.2 406.7,495.0 407.7,494.6C408.7,494.2 409.6,489.8 410.8,489.5C412.0,489.2 413.4,492.6 414.9,492.6C416.4,492.6 418.5,490.5 420.0,489.5C421.5,488.5 422.4,487.2 424.1,486.4C425.8,485.5 428.2,484.0 430.3,484.4C432.4,484.8 434.5,486.6 436.4,488.5C438.3,490.4 440.2,495.4 441.6,495.7C443.0,496.0 443.2,492.2 444.7,490.5C446.2,488.8 448.8,486.6 450.8,485.4C452.9,484.2 454.9,483.1 457.0,483.3C459.1,483.5 461.1,486.2 463.2,486.4C465.2,486.6 467.6,483.9 469.3,484.4C471.0,484.9 471.7,489.2 473.4,489.5C475.1,489.8 477.9,486.2 479.6,486.4C481.3,486.6 482.3,489.5 483.7,490.5C485.1,491.5 486.4,493.1 487.8,492.6C489.2,492.1 490.2,488.9 491.9,487.5C493.6,486.1 496.0,485.3 498.1,484.4C500.2,483.5 502.2,482.3 504.3,482.3C506.4,482.3 508.7,483.2 510.4,484.4C512.1,485.6 513.1,487.8 514.5,489.5C515.9,491.2 517.2,495.3 518.6,494.6C520.0,493.9 522.1,486.9 522.8,485.4" fill="none" stroke="#7360B8" stroke-width="2.1" stroke-linejoin="round" stroke-linecap="round"/><path d="M317.9,645.0C319.4,644.6 324.2,643.8 326.7,642.4C329.1,641.0 331.0,638.8 332.6,636.5C334.2,634.2 335.4,632.3 336.5,628.7C337.6,625.1 338.4,620.5 339.4,615.0C340.4,609.5 341.5,602.6 342.3,595.5C343.1,588.4 343.6,579.9 344.3,572.1C345.0,564.3 345.7,556.8 346.3,548.6C346.9,540.5 347.6,530.7 348.2,523.2C348.8,515.7 349.5,509.2 350.2,503.7C350.9,498.2 351.5,493.4 352.1,490.0C352.8,486.6 353.3,484.9 354.1,483.2C354.9,481.5 355.8,480.7 357.0,479.9C358.2,479.1 359.3,478.9 361.4,478.6C363.5,478.3 366.3,478.1 369.7,478.0C373.1,477.9 378.9,477.7 382.0,478.0C385.1,478.3 386.6,478.7 388.1,479.7C389.6,480.7 390.2,482.6 391.2,483.8C392.2,485.0 393.1,487.1 394.3,486.9C395.5,486.7 397.0,484.1 398.4,482.7C399.8,481.3 400.4,479.4 402.5,478.6C404.6,477.8 407.9,478.1 410.8,478.0C413.7,477.9 405.1,478.0 420.0,478.0C434.9,478.0 484.2,477.9 500.0,478.0C515.8,478.1 511.2,478.0 515.0,478.4C518.8,478.8 521.5,480.1 522.8,480.4L522.8,481.6C521.5,481.3 518.8,480.0 515.0,479.6C511.2,479.2 515.8,479.3 500.0,479.2C484.2,479.1 434.9,479.2 420.0,479.2C405.1,479.2 413.7,479.1 410.8,479.2C407.9,479.3 404.6,479.0 402.5,479.8C400.4,480.6 399.8,482.5 398.4,483.9C397.0,485.3 395.5,487.9 394.3,488.1C393.1,488.3 392.2,486.2 391.2,485.0C390.2,483.8 389.6,481.9 388.1,480.9C386.6,479.9 385.1,479.5 382.0,479.2C378.9,478.9 373.1,479.1 369.7,479.2C366.3,479.3 363.5,479.5 361.4,479.8C359.3,480.1 358.2,480.3 357.0,481.1C355.8,481.9 354.9,482.7 354.1,484.4C353.3,486.1 352.8,487.8 352.1,491.2C351.5,494.6 350.9,499.4 350.2,504.9C349.5,510.4 348.8,516.9 348.2,524.4C347.6,531.9 346.9,541.7 346.3,549.8C345.7,558.0 345.0,565.5 344.3,573.3C343.6,581.1 343.1,589.6 342.3,596.7C341.5,603.9 340.4,610.7 339.4,616.2C338.4,621.7 337.6,626.3 336.5,629.9C335.4,633.5 334.2,635.4 332.6,637.7C331.0,640.0 329.1,642.2 326.7,643.6C324.2,645.0 319.4,645.8 317.9,646.2Z" fill="#D2B964" fill-opacity="0.24" stroke="none"/><path d="M317.9,645.6C319.4,645.2 324.2,644.4 326.7,643.0C329.1,641.6 331.0,639.4 332.6,637.1C334.2,634.8 335.4,632.9 336.5,629.3C337.6,625.7 338.4,621.1 339.4,615.6C340.4,610.1 341.5,603.2 342.3,596.1C343.1,589.0 343.6,580.5 344.3,572.7C345.0,564.9 345.7,557.4 346.3,549.2C346.9,541.1 347.6,531.3 348.2,523.8C348.8,516.3 349.5,509.8 350.2,504.3C350.9,498.8 351.5,494.0 352.1,490.6C352.8,487.2 353.3,485.5 354.1,483.8C354.9,482.1 355.8,481.3 357.0,480.5C358.2,479.7 359.3,479.5 361.4,479.2C363.5,478.9 366.3,478.7 369.7,478.6C373.1,478.5 378.9,478.3 382.0,478.6C385.1,478.9 386.6,479.3 388.1,480.3C389.6,481.3 390.2,483.2 391.2,484.4C392.2,485.6 393.1,487.7 394.3,487.5C395.5,487.3 397.0,484.7 398.4,483.3C399.8,481.9 400.4,480.0 402.5,479.2C404.6,478.4 407.9,478.7 410.8,478.6C413.7,478.5 405.1,478.6 420.0,478.6C434.9,478.6 484.2,478.5 500.0,478.6C515.8,478.7 511.2,478.6 515.0,479.0C518.8,479.4 521.5,480.7 522.8,481.0" fill="none" stroke="#D2B964" stroke-width="2.1" stroke-linejoin="round" stroke-linecap="round"/><path d="M317.9,644.5C318.4,643.8 319.8,643.0 320.8,640.4C321.8,637.7 322.8,634.2 323.8,628.6C324.8,623.0 325.9,615.8 326.7,607.0C327.5,598.2 328.0,586.5 328.7,575.7C329.4,565.0 330.0,552.9 330.6,542.4C331.2,532.0 332.0,520.6 332.6,513.1C333.2,505.6 333.7,500.9 334.5,497.3C335.3,493.7 336.5,492.9 337.5,491.4C338.5,489.9 339.3,489.0 340.4,488.3C341.5,487.6 343.0,487.1 344.3,487.3C345.6,487.4 347.1,488.4 348.2,489.0C349.3,489.6 349.9,491.1 351.1,490.9C352.3,490.7 353.9,488.9 355.3,487.7C356.7,486.4 358.0,484.5 359.4,483.4C360.8,482.4 362.1,481.8 363.5,481.3C364.9,480.7 366.2,479.9 367.6,480.2C369.0,480.6 370.3,483.0 371.7,483.3C373.1,483.7 374.4,481.9 375.8,482.3C377.2,482.6 378.5,484.5 379.9,485.4C381.3,486.2 382.6,487.3 384.0,487.3C385.4,487.3 386.7,485.3 388.1,485.3C389.5,485.3 390.9,487.1 392.3,487.3C393.7,487.4 395.0,486.9 396.4,486.2C397.8,485.5 399.1,484.0 400.5,483.1C401.9,482.2 403.1,481.2 404.6,481.0C406.1,480.8 408.0,481.5 409.7,482.0C411.4,482.5 413.2,484.7 414.9,484.0C416.6,483.3 418.1,478.6 420.0,477.9C421.9,477.2 424.1,479.0 426.2,479.8C428.2,480.7 430.2,482.0 432.3,482.9C434.4,483.7 436.4,485.3 438.5,484.9C440.6,484.6 442.6,481.1 444.7,480.7C446.8,480.3 449.1,481.4 450.8,482.8C452.5,484.1 453.5,488.8 454.9,488.9C456.3,489.1 457.4,484.1 459.0,483.7C460.6,483.3 462.5,487.1 464.2,486.8C465.9,486.4 467.6,481.5 469.3,481.6C471.0,481.8 472.8,487.5 474.5,487.7C476.2,487.8 477.7,482.6 479.6,482.5C481.5,482.5 483.9,487.1 485.8,487.6C487.7,488.1 489.2,486.4 490.9,485.6C492.6,484.7 494.1,482.7 496.0,482.4C497.9,482.1 500.5,483.1 502.2,483.8C503.9,484.4 504.9,484.7 506.3,486.5C507.7,488.3 509.0,492.4 510.4,494.7C511.8,497.0 513.3,499.8 514.5,500.1C515.7,500.4 516.6,498.2 517.6,496.7C518.6,495.2 519.8,492.7 520.7,491.2C521.6,489.7 522.4,488.2 522.8,487.6L522.8,497.6C522.4,498.4 521.6,500.3 520.7,502.2C519.8,504.1 518.6,507.1 517.6,509.1C516.6,511.0 515.7,514.2 514.5,513.9C513.3,513.5 511.8,509.8 510.4,506.9C509.0,504.0 507.7,499.3 506.3,496.7C504.9,494.1 503.9,492.6 502.2,491.2C500.5,489.8 497.9,488.3 496.0,488.4C494.1,488.4 492.6,490.6 490.9,491.4C489.2,492.3 487.7,493.9 485.8,493.4C483.9,492.9 481.5,488.3 479.6,488.3C477.7,488.2 476.2,493.5 474.5,493.3C472.8,493.1 471.0,487.4 469.3,487.2C467.6,487.0 465.9,491.9 464.2,492.2C462.5,492.6 460.6,488.8 459.0,489.1C457.4,489.4 456.3,494.5 454.9,494.3C453.5,494.1 452.5,489.4 450.8,488.0C449.1,486.7 446.8,485.6 444.7,485.9C442.6,486.2 440.6,489.7 438.5,490.1C436.4,490.4 434.4,488.8 432.3,487.9C430.2,487.0 428.2,485.6 426.2,484.8C424.1,483.9 421.9,482.1 420.0,482.7C418.1,483.4 416.6,488.1 414.9,488.8C413.2,489.5 411.4,487.3 409.7,486.8C408.0,486.2 406.1,485.5 404.6,485.6C403.1,485.8 401.9,486.8 400.5,487.7C399.1,488.5 397.8,490.1 396.4,490.8C395.0,491.4 393.7,491.9 392.3,491.7C390.9,491.6 389.5,489.7 388.1,489.7C386.7,489.7 385.4,491.7 384.0,491.7C382.6,491.7 381.3,490.5 379.9,489.6C378.5,488.8 377.2,486.9 375.8,486.5C374.4,486.2 373.1,487.8 371.7,487.5C370.3,487.1 369.0,484.7 367.6,484.4C366.2,484.0 364.9,484.8 363.5,485.3C362.1,485.8 360.8,486.4 359.4,487.4C358.0,488.4 356.7,490.2 355.3,491.3C353.9,492.5 352.3,494.1 351.1,494.3C349.9,494.4 349.3,492.9 348.2,492.2C347.1,491.5 345.6,490.4 344.3,490.1C343.0,489.9 341.5,490.3 340.4,490.9C339.3,491.5 338.5,492.4 337.5,493.8C336.5,495.2 335.3,495.9 334.5,499.5C333.7,503.0 333.2,507.6 332.6,515.1C332.0,522.6 331.2,534.0 330.6,544.4C330.0,554.7 329.4,566.8 328.7,577.5C328.0,588.2 327.5,599.9 326.7,608.6C325.9,617.4 324.8,624.5 323.8,630.0C322.8,635.5 321.8,639.0 320.8,641.6C319.8,644.2 318.4,644.9 317.9,645.5Z" fill="#48B4D8" fill-opacity="0.24" stroke="none"/><path d="M317.9,645.0C318.4,644.3 319.8,643.6 320.8,641.0C321.8,638.4 322.8,634.8 323.8,629.3C324.8,623.8 325.9,616.6 326.7,607.8C327.5,599.0 328.0,587.3 328.7,576.6C329.4,565.9 330.0,553.8 330.6,543.4C331.2,533.0 332.0,521.6 332.6,514.1C333.2,506.6 333.7,502.0 334.5,498.4C335.3,494.8 336.5,494.1 337.5,492.6C338.5,491.1 339.3,490.2 340.4,489.6C341.5,489.0 343.0,488.5 344.3,488.7C345.6,488.9 347.1,490.0 348.2,490.6C349.3,491.2 349.9,492.8 351.1,492.6C352.3,492.4 353.9,490.7 355.3,489.5C356.7,488.3 358.0,486.4 359.4,485.4C360.8,484.4 362.1,483.8 363.5,483.3C364.9,482.8 366.2,482.0 367.6,482.3C369.0,482.6 370.3,485.0 371.7,485.4C373.1,485.8 374.4,484.0 375.8,484.4C377.2,484.8 378.5,486.6 379.9,487.5C381.3,488.4 382.6,489.5 384.0,489.5C385.4,489.5 386.7,487.5 388.1,487.5C389.5,487.5 390.9,489.3 392.3,489.5C393.7,489.7 395.0,489.2 396.4,488.5C397.8,487.8 399.1,486.3 400.5,485.4C401.9,484.5 403.1,483.5 404.6,483.3C406.1,483.1 408.0,483.9 409.7,484.4C411.4,484.9 413.2,487.1 414.9,486.4C416.6,485.7 418.1,481.0 420.0,480.3C421.9,479.6 424.1,481.5 426.2,482.3C428.2,483.1 430.2,484.5 432.3,485.4C434.4,486.3 436.4,487.9 438.5,487.5C440.6,487.1 442.6,483.7 444.7,483.3C446.8,482.9 449.1,484.0 450.8,485.4C452.5,486.8 453.5,491.4 454.9,491.6C456.3,491.8 457.4,486.8 459.0,486.4C460.6,486.0 462.5,489.8 464.2,489.5C465.9,489.2 467.6,484.2 469.3,484.4C471.0,484.6 472.8,490.3 474.5,490.5C476.2,490.7 477.7,485.4 479.6,485.4C481.5,485.4 483.9,490.0 485.8,490.5C487.7,491.0 489.2,489.4 490.9,488.5C492.6,487.6 494.1,485.6 496.0,485.4C497.9,485.2 500.5,486.5 502.2,487.5C503.9,488.5 504.9,489.4 506.3,491.6C507.7,493.8 509.0,498.2 510.4,500.8C511.8,503.4 513.3,506.6 514.5,507.0C515.7,507.4 516.6,504.6 517.6,502.9C518.6,501.2 519.8,498.4 520.7,496.7C521.6,495.0 522.4,493.3 522.8,492.6" fill="none" stroke="#48B4D8" stroke-width="2.1" stroke-linejoin="round" stroke-linecap="round"/>
</g>
</g>
<g id="p7">
<rect x="36.3" y="690.9" width="226.3" height="183.6" fill="#EAEAF2"/>
<line x1="36.3" x2="262.6" y1="729.4" y2="729.4" stroke="#ffffff" stroke-width="1.2"/>
<line x1="36.3" x2="262.6" y1="775.3" y2="775.3" stroke="#ffffff" stroke-width="1.2"/>
<line x1="36.3" x2="262.6" y1="821.1" y2="821.1" stroke="#ffffff" stroke-width="1.2"/>
<line x1="36.3" x2="262.6" y1="867.0" y2="867.0" stroke="#ffffff" stroke-width="1.2"/>
<line x1="46.8" x2="46.8" y1="690.9" y2="874.5" stroke="#ffffff" stroke-width="1.2"/>
<line x1="252.5" x2="252.5" y1="690.9" y2="874.5" stroke="#ffffff" stroke-width="1.2"/>
<clipPath id="cp7"><rect x="36.3" y="690.9" width="226.3" height="183.6"/></clipPath>
<g clip-path="url(#cp7)">
<path d="M46.9,866.1C47.5,865.0 49.3,861.9 50.4,859.8C51.5,857.7 52.2,855.0 53.4,853.5C54.6,851.9 55.9,851.1 57.6,850.3C59.3,849.5 61.7,849.2 63.7,848.6C65.8,848.0 67.9,847.7 69.9,846.8C72.0,845.9 74.0,844.8 76.0,843.5C78.0,842.2 80.1,840.5 82.2,839.2C84.3,837.8 86.4,836.6 88.4,835.3C90.5,833.9 92.8,832.7 94.5,831.2C96.2,829.8 97.3,828.5 98.7,826.7C100.1,824.9 101.4,822.5 102.8,820.4C104.2,818.3 105.5,816.2 106.9,814.3C108.3,812.4 109.6,811.0 111.0,809.0C112.4,807.0 113.7,805.4 115.1,802.5C116.5,799.6 118.0,795.4 119.2,791.8C120.4,788.2 121.3,784.8 122.3,781.0C123.3,777.3 124.4,772.9 125.4,769.1C126.4,765.3 127.5,762.1 128.5,758.3C129.5,754.5 130.5,750.3 131.5,746.4C132.5,742.4 133.6,738.1 134.6,734.7C135.6,731.3 136.5,726.8 137.7,726.1C138.9,725.4 140.4,730.9 141.8,730.3C143.2,729.7 144.7,723.3 145.9,722.4C147.1,721.5 148.0,725.1 149.0,725.0C150.0,724.9 151.1,723.3 152.1,721.6C153.1,719.9 154.2,716.3 155.2,714.7C156.2,713.1 157.2,713.7 158.2,712.0C159.2,710.2 160.3,705.9 161.3,704.1C162.3,702.3 163.4,702.0 164.4,701.3C165.4,700.6 166.6,699.0 167.5,699.8C168.4,700.5 168.8,702.8 169.6,705.8C170.4,708.8 171.6,716.2 172.6,717.5C173.6,718.8 174.7,713.6 175.7,713.6C176.7,713.6 177.8,716.6 178.8,717.4C179.8,718.1 180.9,717.5 181.9,718.1C182.9,718.8 183.8,720.5 185.0,721.1C186.2,721.6 187.9,722.7 189.1,721.3C190.3,719.9 191.2,714.6 192.2,712.6C193.2,710.5 194.2,709.2 195.2,709.0C196.2,708.9 197.3,710.1 198.3,711.7C199.3,713.3 200.4,718.7 201.4,718.8C202.4,718.9 203.5,713.7 204.5,712.1C205.5,710.6 206.6,709.3 207.6,709.6C208.6,709.9 209.7,712.6 210.7,714.1C211.7,715.6 212.7,717.0 213.7,718.7C214.7,720.5 215.8,724.1 216.8,724.4C217.8,724.7 218.9,721.4 219.9,720.7C220.9,720.0 222.0,721.4 223.0,720.1C224.0,718.8 225.1,712.8 226.1,712.9C227.1,713.1 228.2,720.5 229.1,721.2C229.9,721.9 230.2,720.7 231.2,717.1C232.2,713.5 233.9,701.8 235.3,699.7C236.7,697.6 238.0,702.8 239.4,704.7C240.8,706.6 242.3,709.0 243.5,710.9C244.7,712.8 245.6,714.0 246.6,716.1C247.6,718.2 248.8,722.2 249.7,723.3C250.6,724.5 251.5,723.1 251.8,723.1L251.8,743.1C251.5,743.9 250.6,748.1 249.7,748.1C248.8,748.1 247.6,744.4 246.6,743.0C245.6,741.6 244.7,741.0 243.5,739.9C242.3,738.8 240.8,737.2 239.4,736.2C238.0,735.2 236.7,731.7 235.3,733.7C233.9,735.7 232.2,745.6 231.2,748.5C230.2,751.4 229.9,752.5 229.1,751.3C228.2,750.0 227.1,741.9 226.1,741.0C225.1,740.1 224.0,744.6 223.0,746.1C222.0,747.6 220.9,748.0 219.9,749.7C218.9,751.4 217.8,756.9 216.8,756.4C215.8,755.9 214.7,749.7 213.7,746.6C212.7,743.6 211.7,740.3 210.7,738.0C209.7,735.7 208.6,733.2 207.6,732.8C206.6,732.5 205.5,734.1 204.5,735.7C203.5,737.3 202.4,742.5 201.4,742.7C200.4,742.8 199.3,737.7 198.3,736.5C197.3,735.2 196.2,734.6 195.2,735.2C194.2,735.8 193.2,737.6 192.2,740.1C191.2,742.6 190.3,748.0 189.1,750.3C187.9,752.6 186.2,753.4 185.0,754.1C183.8,754.7 182.9,754.9 181.9,754.0C180.9,753.1 179.8,751.0 178.8,748.8C177.8,746.6 176.7,742.0 175.7,740.6C174.7,739.2 173.6,743.0 172.6,740.6C171.6,738.2 170.4,729.9 169.6,726.1C168.8,722.3 168.4,719.4 167.5,717.7C166.6,716.0 165.4,715.7 164.4,715.8C163.4,715.8 162.3,716.2 161.3,717.8C160.3,719.4 159.2,723.7 158.2,725.3C157.2,727.0 156.2,725.5 155.2,727.7C154.2,729.9 153.1,735.4 152.1,738.5C151.1,741.5 150.0,745.3 149.0,746.0C148.0,746.7 147.1,741.5 145.9,742.4C144.7,743.3 143.2,751.3 141.8,751.3C140.4,751.3 138.9,742.5 137.7,742.1C136.5,741.7 135.6,746.1 134.6,748.8C133.6,751.6 132.5,755.2 131.5,758.7C130.5,762.1 129.5,766.1 128.5,769.5C127.5,772.9 126.4,775.9 125.4,779.3C124.4,782.7 123.3,786.6 122.3,790.0C121.3,793.4 120.4,796.4 119.2,799.6C118.0,802.9 116.5,806.9 115.1,809.5C113.7,812.1 112.4,813.4 111.0,815.2C109.6,817.0 108.3,818.4 106.9,820.3C105.5,822.2 104.2,824.4 102.8,826.4C101.4,828.4 100.1,830.8 98.7,832.5C97.3,834.1 96.2,835.0 94.5,836.2C92.8,837.3 90.5,838.1 88.4,839.1C86.4,840.2 84.3,841.4 82.2,842.6C80.1,843.9 78.0,845.4 76.0,846.5C74.0,847.6 72.0,848.7 69.9,849.4C67.9,850.1 65.8,850.3 63.7,850.8C61.7,851.2 59.3,851.4 57.6,852.1C55.9,852.8 54.6,853.4 53.4,854.9C52.2,856.4 51.5,859.0 50.4,861.0C49.3,863.1 47.5,866.1 46.9,867.1Z" fill="#7360B8" fill-opacity="0.24" stroke="none"/><path d="M46.9,866.6C47.5,865.6 49.3,862.5 50.4,860.4C51.5,858.3 52.2,855.7 53.4,854.2C54.6,852.7 55.9,852.0 57.6,851.2C59.3,850.5 61.7,850.2 63.7,849.7C65.8,849.2 67.9,848.9 69.9,848.1C72.0,847.3 74.0,846.2 76.0,845.0C78.0,843.8 80.1,842.2 82.2,840.9C84.3,839.6 86.4,838.4 88.4,837.2C90.5,836.0 92.8,835.0 94.5,833.7C96.2,832.4 97.3,831.3 98.7,829.6C100.1,827.9 101.4,825.5 102.8,823.4C104.2,821.3 105.5,819.2 106.9,817.3C108.3,815.4 109.6,814.0 111.0,812.1C112.4,810.2 113.7,808.7 115.1,806.0C116.5,803.3 118.0,799.1 119.2,795.7C120.4,792.3 121.3,789.1 122.3,785.5C123.3,781.9 124.4,777.8 125.4,774.2C126.4,770.6 127.5,767.5 128.5,763.9C129.5,760.3 130.5,756.2 131.5,752.6C132.5,749.0 133.6,745.2 134.6,742.3C135.6,739.4 136.5,735.6 137.7,735.1C138.9,734.6 140.4,739.8 141.8,739.3C143.2,738.8 144.7,732.5 145.9,732.1C147.1,731.7 148.0,737.4 149.0,737.0C150.0,736.6 151.1,732.9 152.1,730.0C153.1,727.1 154.2,721.8 155.2,719.7C156.2,717.7 157.2,719.2 158.2,717.7C159.2,716.2 160.3,712.0 161.3,710.5C162.3,709.0 163.4,708.8 164.4,708.5C165.4,708.2 166.6,707.3 167.5,708.5C168.4,709.7 168.8,712.4 169.6,715.6C170.4,718.9 171.6,726.5 172.6,728.0C173.6,729.5 174.7,724.6 175.7,724.9C176.7,725.2 177.8,728.8 178.8,730.0C179.8,731.2 180.9,730.9 181.9,732.1C182.9,733.3 183.8,735.8 185.0,737.2C186.2,738.6 187.9,741.3 189.1,740.3C190.3,739.3 191.2,733.2 192.2,731.0C193.2,728.8 194.2,727.2 195.2,726.9C196.2,726.6 197.3,727.6 198.3,729.0C199.3,730.4 200.4,735.5 201.4,735.1C202.4,734.8 203.5,729.0 204.5,726.9C205.5,724.8 206.6,722.8 207.6,722.8C208.6,722.8 209.7,724.8 210.7,726.9C211.7,729.0 212.7,732.2 213.7,735.1C214.7,738.0 215.8,744.0 216.8,744.4C217.8,744.8 218.9,739.1 219.9,737.2C220.9,735.3 222.0,734.6 223.0,733.1C224.0,731.6 225.1,727.1 226.1,728.0C227.1,728.9 228.2,737.2 229.1,738.2C229.9,739.2 230.2,737.7 231.2,734.1C232.2,730.5 233.9,719.1 235.3,716.7C236.7,714.3 238.0,718.5 239.4,719.7C240.8,720.9 242.3,722.5 243.5,723.9C244.7,725.3 245.6,726.3 246.6,728.0C247.6,729.7 248.8,733.2 249.7,734.1C250.6,735.0 251.5,733.3 251.8,733.1" fill="none" stroke="#7360B8" stroke-width="2.1" stroke-linejoin="round" stroke-linecap="round"/><path d="M46.9,866.1C48.0,865.1 51.3,862.1 53.4,860.2C55.5,858.3 57.5,855.7 59.6,854.4C61.7,853.2 63.8,852.8 65.8,852.8C67.8,852.7 69.2,854.4 71.9,853.9C74.6,853.4 78.8,851.3 82.2,849.9C85.6,848.4 89.1,846.1 92.5,845.0C95.9,843.9 99.0,843.9 102.8,843.3C106.6,842.7 111.7,842.3 115.1,841.4C118.5,840.5 120.6,839.3 123.3,838.0C126.0,836.7 128.8,835.1 131.5,833.6C134.2,832.1 137.4,830.1 139.8,829.1C142.2,828.2 144.4,827.6 145.9,827.9C147.4,828.2 147.4,830.3 149.0,830.9C150.6,831.5 153.1,831.2 155.2,831.3C157.2,831.5 159.2,831.7 161.3,831.8C163.4,832.0 165.4,832.0 167.5,832.2C169.6,832.5 171.6,833.4 173.7,833.4C175.8,833.3 177.8,832.5 179.8,832.0C181.9,831.5 184.3,831.4 186.0,830.5C187.7,829.6 188.4,827.2 190.1,826.8C191.8,826.3 194.2,828.0 196.3,827.9C198.4,827.7 200.4,826.2 202.4,825.9C204.4,825.6 206.5,826.1 208.6,826.0C210.7,825.9 212.8,826.2 214.8,825.6C216.9,824.9 218.9,822.7 220.9,822.3C222.9,821.8 225.0,823.3 227.1,822.9C229.2,822.6 231.2,821.0 233.3,820.2C235.4,819.5 237.4,818.7 239.4,818.4C241.4,818.1 243.5,818.5 245.6,818.6C247.7,818.6 250.8,818.8 251.8,818.8L251.8,848.8C250.8,848.6 247.7,848.1 245.6,847.7C243.5,847.4 241.4,846.7 239.4,846.7C237.4,846.7 235.4,847.2 233.3,847.7C231.2,848.2 229.2,849.7 227.1,849.9C225.0,850.2 222.9,848.8 220.9,849.3C218.9,849.7 216.9,852.0 214.8,852.6C212.8,853.1 210.7,852.9 208.6,852.7C206.5,852.4 204.4,851.2 202.4,851.0C200.4,850.8 198.4,851.8 196.3,851.4C194.2,851.1 191.8,848.8 190.1,848.8C188.4,848.9 187.7,851.2 186.0,851.7C184.3,852.2 181.9,851.9 179.8,851.9C177.8,852.0 175.8,852.4 173.7,852.1C171.6,851.9 169.6,850.7 167.5,850.5C165.4,850.2 163.4,850.6 161.3,850.7C159.2,850.7 157.2,850.7 155.2,850.7C153.1,850.8 150.6,851.4 149.0,850.9C147.4,850.4 147.4,848.0 145.9,847.5C144.4,847.0 142.2,847.2 139.8,847.8C137.4,848.5 134.2,850.1 131.5,851.2C128.8,852.3 126.0,853.5 123.3,854.4C120.6,855.4 118.5,856.4 115.1,856.9C111.7,857.5 106.6,857.4 102.8,857.6C99.0,857.9 95.9,857.9 92.5,858.3C89.1,858.7 85.6,859.7 82.2,860.1C78.8,860.5 74.6,861.0 71.9,860.6C69.2,860.2 67.8,858.2 65.8,857.8C63.8,857.4 61.7,857.4 59.6,858.2C57.5,859.0 55.5,861.1 53.4,862.6C51.3,864.1 48.0,866.4 46.9,867.1Z" fill="#3DA84F" fill-opacity="0.24" stroke="none"/><path d="M46.9,866.6C48.0,865.7 51.3,863.1 53.4,861.4C55.5,859.7 57.5,857.3 59.6,856.3C61.7,855.3 63.8,855.1 65.8,855.3C67.8,855.5 69.2,857.3 71.9,857.3C74.6,857.3 78.8,856.1 82.2,855.3C85.6,854.4 89.1,852.9 92.5,852.2C95.9,851.5 99.0,851.6 102.8,851.2C106.6,850.9 111.7,850.8 115.1,850.1C118.5,849.4 120.6,848.3 123.3,847.1C126.0,845.9 128.8,844.4 131.5,843.0C134.2,841.6 137.4,839.7 139.8,838.8C142.2,837.9 144.4,837.4 145.9,837.8C147.4,838.1 147.4,840.2 149.0,840.9C150.6,841.6 153.1,841.5 155.2,841.9C157.2,842.2 159.2,842.6 161.3,843.0C163.4,843.4 165.4,843.7 167.5,844.0C169.6,844.3 171.6,845.2 173.7,845.0C175.8,844.8 177.8,843.7 179.8,843.0C181.9,842.3 184.3,841.9 186.0,840.9C187.7,839.9 188.4,837.1 190.1,836.8C191.8,836.4 194.2,838.6 196.3,838.8C198.4,839.0 200.4,837.8 202.4,837.8C204.4,837.8 206.5,838.6 208.6,838.8C210.7,839.0 212.8,839.3 214.8,838.8C216.9,838.3 218.9,836.1 220.9,835.8C222.9,835.5 225.0,837.0 227.1,836.8C229.2,836.6 231.2,835.2 233.3,834.7C235.4,834.2 237.4,833.7 239.4,833.7C241.4,833.7 243.5,834.4 245.6,834.7C247.7,835.1 250.8,835.6 251.8,835.8" fill="none" stroke="#3DA84F" stroke-width="2.1" stroke-linejoin="round" stroke-linecap="round"/><path d="M46.9,866.1C48.7,864.9 54.1,860.8 57.6,858.9C61.1,857.0 64.4,855.6 67.8,854.6C71.2,853.6 75.0,854.0 78.1,853.0C81.2,852.0 83.6,849.7 86.3,848.4C89.0,847.1 92.1,845.3 94.5,845.0C96.9,844.8 98.6,846.4 100.7,846.9C102.8,847.4 104.5,848.1 106.9,847.9C109.3,847.7 112.4,846.9 115.1,845.7C117.8,844.4 120.9,841.5 123.3,840.4C125.7,839.4 127.5,839.9 129.5,839.3C131.6,838.8 133.5,837.2 135.6,837.1C137.7,837.1 139.6,839.5 141.8,839.1C144.0,838.7 146.8,835.7 149.0,834.8C151.2,833.9 153.1,834.1 155.2,833.7C157.2,833.3 159.2,833.2 161.3,832.6C163.4,832.1 165.8,831.8 167.5,830.4C169.2,829.0 169.9,825.5 171.6,824.2C173.3,823.0 175.7,822.5 177.8,823.1C179.9,823.8 181.9,827.8 184.0,828.1C186.1,828.4 188.2,826.3 190.1,824.9C192.0,823.5 193.5,821.0 195.2,819.7C196.9,818.5 198.7,817.8 200.4,817.6C202.1,817.3 203.8,819.5 205.5,818.5C207.2,817.4 209.1,813.4 210.7,811.3C212.2,809.2 213.3,807.9 214.8,806.0C216.3,804.1 218.2,800.3 219.9,799.8C221.6,799.2 223.5,802.0 225.0,802.6C226.5,803.3 227.4,804.4 229.1,803.6C230.8,802.9 233.4,798.5 235.3,798.3C237.2,798.1 238.7,800.9 240.4,802.3C242.1,803.6 244.2,805.9 245.6,806.2C247.0,806.6 247.7,804.4 248.7,804.2C249.7,804.0 251.3,804.9 251.8,805.1L251.8,817.1C251.3,816.9 249.7,815.9 248.7,816.0C247.7,816.2 247.0,818.3 245.6,818.0C244.2,817.6 242.1,815.1 240.4,813.7C238.7,812.3 237.2,809.4 235.3,809.5C233.4,809.6 230.8,813.9 229.1,814.6C227.4,815.2 226.5,814.1 225.0,813.4C223.5,812.6 221.6,809.8 219.9,810.2C218.2,810.7 216.3,814.4 214.8,816.2C213.3,818.1 212.2,819.3 210.7,821.3C209.1,823.3 207.2,827.3 205.5,828.3C203.8,829.3 202.1,827.1 200.4,827.2C198.7,827.4 196.9,828.1 195.2,829.3C193.5,830.4 192.0,832.9 190.1,834.3C188.2,835.6 186.1,837.6 184.0,837.3C181.9,836.9 179.9,832.8 177.8,832.1C175.7,831.3 173.3,831.8 171.6,833.0C169.9,834.1 169.2,837.7 167.5,839.0C165.8,840.3 163.4,840.5 161.3,841.0C159.2,841.5 157.2,841.6 155.2,841.9C153.1,842.2 151.2,842.0 149.0,842.8C146.8,843.6 144.0,846.6 141.8,846.9C139.6,847.2 137.7,844.7 135.6,844.7C133.5,844.6 131.6,846.2 129.5,846.7C127.5,847.1 125.7,846.6 123.3,847.6C120.9,848.5 117.8,851.4 115.1,852.5C112.4,853.7 109.3,854.4 106.9,854.5C104.5,854.6 102.8,853.8 100.7,853.3C98.6,852.7 96.9,851.1 94.5,851.2C92.1,851.3 89.0,852.9 86.3,854.0C83.6,855.1 81.2,856.9 78.1,857.6C75.0,858.3 71.2,857.4 67.8,858.0C64.4,858.6 61.1,859.6 57.6,861.1C54.1,862.6 48.7,866.1 46.9,867.1Z" fill="#D2B964" fill-opacity="0.24" stroke="none"/><path d="M46.9,866.6C48.7,865.5 54.1,861.7 57.6,860.0C61.1,858.3 64.4,857.1 67.8,856.3C71.2,855.5 75.0,856.1 78.1,855.3C81.2,854.4 83.6,852.4 86.3,851.2C89.0,850.0 92.1,848.3 94.5,848.1C96.9,847.9 98.6,849.6 100.7,850.1C102.8,850.6 104.5,851.4 106.9,851.2C109.3,851.0 112.4,850.3 115.1,849.1C117.8,847.9 120.9,845.0 123.3,844.0C125.7,843.0 127.5,843.5 129.5,843.0C131.6,842.5 133.5,840.9 135.6,840.9C137.7,840.9 139.6,843.4 141.8,843.0C144.0,842.6 146.8,839.7 149.0,838.8C151.2,837.9 153.1,838.1 155.2,837.8C157.2,837.5 159.2,837.3 161.3,836.8C163.4,836.3 165.8,836.1 167.5,834.7C169.2,833.3 169.9,829.8 171.6,828.6C173.3,827.4 175.7,826.9 177.8,827.6C179.9,828.3 181.9,832.4 184.0,832.7C186.1,833.0 188.2,831.0 190.1,829.6C192.0,828.2 193.5,825.7 195.2,824.5C196.9,823.3 198.7,822.6 200.4,822.4C202.1,822.2 203.8,824.4 205.5,823.4C207.2,822.4 209.1,818.3 210.7,816.3C212.2,814.2 213.3,813.0 214.8,811.1C216.3,809.2 218.2,805.5 219.9,805.0C221.6,804.5 223.5,807.3 225.0,808.0C226.5,808.7 227.4,809.8 229.1,809.1C230.8,808.4 233.4,804.1 235.3,803.9C237.2,803.7 238.7,806.6 240.4,808.0C242.1,809.4 244.2,811.8 245.6,812.1C247.0,812.5 247.7,810.3 248.7,810.1C249.7,809.9 251.3,810.9 251.8,811.1" fill="none" stroke="#D2B964" stroke-width="2.1" stroke-linejoin="round" stroke-linecap="round"/><path d="M46.9,866.1C48.7,865.2 54.5,861.9 57.6,860.6C60.8,859.3 63.8,858.5 65.8,858.3C67.8,858.1 67.9,859.6 69.9,859.2C72.0,858.8 75.0,856.8 78.1,855.8C81.2,854.9 85.0,854.5 88.4,853.5C91.8,852.5 96.0,851.8 98.7,850.1C101.4,848.4 102.8,845.8 104.8,843.2C106.8,840.5 109.3,836.2 111.0,834.3C112.7,832.4 113.4,832.2 115.1,831.8C116.8,831.4 119.6,831.6 121.3,831.8C123.0,832.0 124.0,831.9 125.4,832.8C126.8,833.7 128.1,837.5 129.5,837.0C130.9,836.5 132.2,830.5 133.6,829.8C135.0,829.1 136.3,831.8 137.7,832.8C139.1,833.8 140.4,835.9 141.8,835.9C143.2,835.9 144.7,833.5 145.9,832.8C147.1,832.1 147.8,832.8 149.0,831.8C150.2,830.8 151.7,827.3 153.1,826.8C154.5,826.4 155.8,827.9 157.2,829.0C158.6,830.1 159.9,832.7 161.3,833.3C162.7,833.8 164.0,833.4 165.4,832.4C166.8,831.5 167.9,828.3 169.6,827.5C171.3,826.7 173.6,828.0 175.7,827.7C177.8,827.5 180.2,826.5 181.9,825.9C183.6,825.3 184.6,823.8 186.0,824.0C187.4,824.3 188.7,827.2 190.1,827.3C191.5,827.4 192.8,824.3 194.2,824.4C195.6,824.4 196.8,827.2 198.3,827.6C199.9,828.0 201.9,826.3 203.5,826.7C205.1,827.0 206.1,829.3 207.6,829.8C209.1,830.4 210.8,829.7 212.7,829.9C214.6,830.1 216.8,830.9 218.9,831.1C221.0,831.3 222.9,831.3 225.0,831.2C227.1,831.1 229.5,831.0 231.2,830.3C232.9,829.7 233.8,827.6 235.3,827.3C236.8,827.0 238.7,828.2 240.4,828.5C242.1,828.8 243.7,829.0 245.6,829.2C247.5,829.4 250.8,829.6 251.8,829.7L251.8,835.7C250.8,835.7 247.5,835.5 245.6,835.4C243.7,835.3 242.1,835.2 240.4,834.9C238.7,834.7 236.8,833.6 235.3,833.9C233.8,834.3 232.9,836.4 231.2,837.1C229.5,837.8 227.1,838.0 225.0,838.2C222.9,838.4 221.0,838.5 218.9,838.3C216.8,838.2 214.6,837.6 212.7,837.5C210.8,837.3 209.1,838.0 207.6,837.6C206.1,837.1 205.1,834.8 203.5,834.5C201.9,834.2 199.9,836.1 198.3,835.8C196.8,835.5 195.6,832.8 194.2,832.8C192.8,832.9 191.5,836.0 190.1,836.1C188.7,836.2 187.4,833.3 186.0,833.2C184.6,833.0 183.6,834.6 181.9,835.3C180.2,836.1 177.8,837.2 175.7,837.7C173.6,838.1 171.3,837.0 169.6,837.9C167.9,838.8 166.8,842.1 165.4,843.2C164.0,844.3 162.7,844.8 161.3,844.3C159.9,843.9 158.6,841.4 157.2,840.4C155.8,839.5 154.5,838.0 153.1,838.6C151.7,839.1 150.2,842.8 149.0,843.8C147.8,844.8 147.1,844.1 145.9,844.8C144.7,845.5 143.2,847.9 141.8,847.9C140.4,847.9 139.1,845.8 137.7,844.8C136.3,843.8 135.0,841.1 133.6,841.8C132.2,842.5 130.9,848.5 129.5,849.0C128.1,849.5 126.8,845.7 125.4,844.8C124.0,843.9 123.0,844.0 121.3,843.8C119.6,843.6 116.8,843.5 115.1,843.8C113.4,844.1 112.7,844.0 111.0,845.5C109.3,847.0 106.8,851.2 104.8,853.0C102.8,854.8 101.4,855.6 98.7,856.3C96.0,857.0 91.8,856.7 88.4,857.1C85.0,857.5 81.2,858.0 78.1,858.8C75.0,859.5 72.0,861.3 69.9,861.6C67.9,861.9 67.8,860.4 65.8,860.5C63.8,860.6 60.8,861.1 57.6,862.2C54.5,863.3 48.7,866.3 46.9,867.1Z" fill="#3762B5" fill-opacity="0.24" stroke="none"/><path d="M46.9,866.6C48.7,865.7 54.5,862.6 57.6,861.4C60.8,860.2 63.8,859.6 65.8,859.4C67.8,859.2 67.9,860.8 69.9,860.4C72.0,860.0 75.0,858.1 78.1,857.3C81.2,856.4 85.0,856.0 88.4,855.3C91.8,854.6 96.0,854.4 98.7,853.2C101.4,852.0 102.8,850.3 104.8,848.1C106.8,845.9 109.3,841.6 111.0,839.9C112.7,838.2 113.4,838.1 115.1,837.8C116.8,837.4 119.6,837.6 121.3,837.8C123.0,838.0 124.0,837.9 125.4,838.8C126.8,839.7 128.1,843.5 129.5,843.0C130.9,842.5 132.2,836.5 133.6,835.8C135.0,835.1 136.3,837.8 137.7,838.8C139.1,839.8 140.4,841.9 141.8,841.9C143.2,841.9 144.7,839.5 145.9,838.8C147.1,838.1 147.8,838.8 149.0,837.8C150.2,836.8 151.7,833.2 153.1,832.7C154.5,832.2 155.8,833.7 157.2,834.7C158.6,835.7 159.9,838.3 161.3,838.8C162.7,839.3 164.0,838.8 165.4,837.8C166.8,836.8 167.9,833.6 169.6,832.7C171.3,831.9 173.6,833.1 175.7,832.7C177.8,832.4 180.2,831.3 181.9,830.6C183.6,829.9 184.6,828.4 186.0,828.6C187.4,828.8 188.7,831.7 190.1,831.7C191.5,831.7 192.8,828.6 194.2,828.6C195.6,828.6 196.8,831.4 198.3,831.7C199.9,832.0 201.9,830.3 203.5,830.6C205.1,830.9 206.1,833.2 207.6,833.7C209.1,834.2 210.8,833.5 212.7,833.7C214.6,833.9 216.8,834.5 218.9,834.7C221.0,834.9 222.9,834.9 225.0,834.7C227.1,834.5 229.5,834.4 231.2,833.7C232.9,833.0 233.8,830.9 235.3,830.6C236.8,830.3 238.7,831.4 240.4,831.7C242.1,832.0 243.7,832.1 245.6,832.3C247.5,832.5 250.8,832.6 251.8,832.7" fill="none" stroke="#3762B5" stroke-width="2.1" stroke-linejoin="round" stroke-linecap="round"/><path d="M46.9,866.1C48.7,865.2 52.4,862.7 57.6,860.7C62.8,858.7 71.2,855.8 78.1,854.2C84.9,852.5 91.8,851.8 98.7,850.6C105.6,849.5 114.1,847.9 119.2,847.1C124.3,846.3 124.5,846.4 129.5,846.0C134.5,845.7 144.4,845.4 149.0,844.9C153.6,844.3 154.5,843.3 157.2,842.7C159.9,842.2 162.7,842.2 165.4,841.7C168.2,841.1 170.9,839.7 173.7,839.5C176.4,839.3 179.2,840.7 181.9,840.5C184.6,840.3 187.4,839.1 190.1,838.4C192.8,837.6 195.6,836.7 198.3,836.2C201.0,835.7 203.8,835.5 206.5,835.1C209.2,834.8 212.1,834.6 214.8,834.1C217.6,833.5 220.6,832.6 223.0,831.9C225.4,831.2 227.4,829.5 229.1,829.9C230.8,830.3 231.9,834.4 233.3,834.3C234.7,834.3 235.7,830.6 237.4,829.8C239.1,829.0 241.1,829.7 243.5,829.8C245.9,829.8 250.4,830.0 251.8,830.1L251.8,836.1C250.4,836.0 245.9,835.7 243.5,835.6C241.1,835.6 239.1,834.9 237.4,835.6C235.7,836.3 234.7,840.1 233.3,840.1C231.9,840.0 230.8,836.0 229.1,835.5C227.4,835.1 225.4,836.8 223.0,837.5C220.6,838.1 217.6,839.0 214.8,839.5C212.1,840.0 209.2,840.1 206.5,840.5C203.8,840.8 201.0,840.9 198.3,841.4C195.6,841.9 192.8,842.8 190.1,843.4C187.4,844.1 184.6,845.3 181.9,845.5C179.2,845.6 176.4,844.2 173.7,844.3C170.9,844.5 168.2,845.8 165.4,846.3C162.7,846.8 159.9,846.8 157.2,847.3C154.5,847.8 153.6,848.8 149.0,849.3C144.4,849.8 134.5,849.9 129.5,850.2C124.5,850.5 124.3,850.5 119.2,851.1C114.1,851.7 105.6,852.9 98.7,853.8C91.8,854.7 84.9,855.0 78.1,856.4C71.2,857.8 62.8,860.3 57.6,862.1C52.4,863.9 48.7,866.3 46.9,867.1Z" fill="#CC3540" fill-opacity="0.24" stroke="none"/><path d="M46.9,866.6C48.7,865.7 52.4,863.3 57.6,861.4C62.8,859.5 71.2,856.8 78.1,855.3C84.9,853.8 91.8,853.2 98.7,852.2C105.6,851.2 114.1,849.8 119.2,849.1C124.3,848.4 124.5,848.4 129.5,848.1C134.5,847.8 144.4,847.6 149.0,847.1C153.6,846.6 154.5,845.5 157.2,845.0C159.9,844.5 162.7,844.5 165.4,844.0C168.2,843.5 170.9,842.1 173.7,841.9C176.4,841.7 179.2,843.2 181.9,843.0C184.6,842.8 187.4,841.6 190.1,840.9C192.8,840.2 195.6,839.3 198.3,838.8C201.0,838.3 203.8,838.1 206.5,837.8C209.2,837.5 212.1,837.3 214.8,836.8C217.6,836.3 220.6,835.4 223.0,834.7C225.4,834.0 227.4,832.3 229.1,832.7C230.8,833.1 231.9,837.2 233.3,837.2C234.7,837.2 235.7,833.5 237.4,832.7C239.1,832.0 241.1,832.6 243.5,832.7C245.9,832.8 250.4,833.0 251.8,833.1" fill="none" stroke="#CC3540" stroke-width="2.1" stroke-linejoin="round" stroke-linecap="round"/><path d="M46.9,866.6C48.0,865.7 51.3,863.1 53.4,861.4C55.5,859.7 57.5,857.3 59.6,856.3C61.7,855.3 63.8,855.1 65.8,855.3C67.8,855.5 69.2,857.3 71.9,857.3C74.6,857.3 78.8,856.1 82.2,855.3C85.6,854.4 89.1,852.9 92.5,852.2C95.9,851.5 99.0,851.6 102.8,851.2C106.6,850.9 111.7,850.8 115.1,850.1C118.5,849.4 120.6,848.3 123.3,847.1C126.0,845.9 128.8,844.4 131.5,843.0C134.2,841.6 137.4,839.7 139.8,838.8C142.2,837.9 144.4,837.4 145.9,837.8C147.4,838.1 147.4,840.2 149.0,840.9C150.6,841.6 153.1,841.5 155.2,841.9C157.2,842.2 159.2,842.6 161.3,843.0C163.4,843.4 165.4,843.7 167.5,844.0C169.6,844.3 171.6,845.2 173.7,845.0C175.8,844.8 177.8,843.7 179.8,843.0C181.9,842.3 184.3,841.9 186.0,840.9C187.7,839.9 188.4,837.1 190.1,836.8C191.8,836.4 194.2,838.6 196.3,838.8C198.4,839.0 200.4,837.8 202.4,837.8C204.4,837.8 206.5,838.6 208.6,838.8C210.7,839.0 212.8,839.3 214.8,838.8C216.9,838.3 218.9,836.1 220.9,835.8C222.9,835.5 225.0,837.0 227.1,836.8C229.2,836.6 231.2,835.2 233.3,834.7C235.4,834.2 237.4,833.7 239.4,833.7C241.4,833.7 243.5,834.4 245.6,834.7C247.7,835.1 250.8,835.6 251.8,835.8" fill="none" stroke="#3DA84F" stroke-width="2.1" stroke-linejoin="round" stroke-linecap="round"/><path d="M46.9,866.1C48.7,865.2 54.1,862.2 57.6,860.8C61.1,859.4 64.4,858.6 67.8,857.7C71.2,856.8 74.7,856.0 78.1,855.5C81.5,854.9 85.0,854.9 88.4,854.4C91.8,853.8 95.3,852.7 98.7,852.2C102.1,851.6 105.5,851.5 108.9,851.1C112.3,850.7 115.8,850.4 119.2,850.0C122.6,849.6 126.1,849.2 129.5,848.8C132.9,848.4 136.6,848.1 139.8,847.7C143.1,847.3 145.8,847.3 149.0,846.6C152.2,845.9 155.9,844.1 159.3,843.4C162.7,842.6 166.2,842.8 169.6,842.2C173.0,841.6 176.4,840.7 179.8,840.0C183.2,839.2 186.7,838.5 190.1,837.8C193.5,837.1 197.0,836.5 200.4,835.6C203.8,834.6 207.3,833.4 210.7,832.3C214.1,831.2 217.5,830.2 220.9,829.2C224.3,828.1 228.1,827.0 231.2,825.9C234.3,824.8 237.0,823.8 239.4,822.7C241.8,821.6 243.9,820.5 245.6,819.5C247.3,818.4 248.7,817.0 249.7,816.3C250.7,815.6 251.5,815.5 251.8,815.3L251.8,821.3C251.5,821.5 250.7,821.6 249.7,822.3C248.7,822.9 247.3,824.3 245.6,825.3C243.9,826.3 241.8,827.3 239.4,828.3C237.0,829.3 234.3,830.3 231.2,831.3C228.1,832.3 224.3,833.3 220.9,834.2C217.5,835.2 214.1,836.1 210.7,837.1C207.3,838.1 203.8,839.2 200.4,840.0C197.0,840.9 193.5,841.4 190.1,842.0C186.7,842.6 183.2,843.2 179.8,843.8C176.4,844.5 173.0,845.3 169.6,845.8C166.2,846.3 162.7,846.0 159.3,846.6C155.9,847.3 152.2,848.9 149.0,849.6C145.8,850.2 143.1,850.2 139.8,850.5C136.6,850.8 132.9,851.1 129.5,851.4C126.1,851.7 122.6,852.1 119.2,852.4C115.8,852.7 112.3,853.0 108.9,853.3C105.5,853.6 102.1,853.7 98.7,854.2C95.3,854.7 91.8,855.7 88.4,856.2C85.0,856.7 81.5,856.6 78.1,857.1C74.7,857.6 71.2,858.3 67.8,859.1C64.4,859.9 61.1,860.7 57.6,862.0C54.1,863.3 48.7,866.3 46.9,867.1Z" fill="#48B4D8" fill-opacity="0.24" stroke="none"/><path d="M46.9,866.6C48.7,865.7 54.1,862.8 57.6,861.4C61.1,860.0 64.4,859.2 67.8,858.4C71.2,857.5 74.7,856.8 78.1,856.3C81.5,855.8 85.0,855.8 88.4,855.3C91.8,854.8 95.3,853.7 98.7,853.2C102.1,852.7 105.5,852.5 108.9,852.2C112.3,851.9 115.8,851.6 119.2,851.2C122.6,850.9 126.1,850.5 129.5,850.1C132.9,849.8 136.6,849.4 139.8,849.1C143.1,848.8 145.8,848.8 149.0,848.1C152.2,847.4 155.9,845.7 159.3,845.0C162.7,844.3 166.2,844.5 169.6,844.0C173.0,843.5 176.4,842.6 179.8,841.9C183.2,841.2 186.7,840.6 190.1,839.9C193.5,839.2 197.0,838.7 200.4,837.8C203.8,836.9 207.3,835.7 210.7,834.7C214.1,833.7 217.5,832.7 220.9,831.7C224.3,830.7 228.1,829.6 231.2,828.6C234.3,827.6 237.0,826.5 239.4,825.5C241.8,824.5 243.9,823.4 245.6,822.4C247.3,821.4 248.7,820.0 249.7,819.3C250.7,818.6 251.5,818.5 251.8,818.3" fill="none" stroke="#48B4D8" stroke-width="2.1" stroke-linejoin="round" stroke-linecap="round"/>
</g>
</g>
<g font-family="Liberation Sans, Arial, sans-serif" fill="#1a1a1a" stroke="#1a1a1a" stroke-width="0.25" font-size="12.0">
<text x="35.7" y="43.6" text-anchor="end">2,000</text>
<text x="33.8" y="73.0" text-anchor="end">1,500</text>
<text x="33.8" y="102.4" text-anchor="end">1,000</text>
<text x="33.8" y="131.9" text-anchor="end">500</text>
<text x="33.8" y="161.3" text-anchor="end">0</text>
<text x="33.8" y="190.7" text-anchor="end">−500</text>
<text x="49.3" y="218.0" text-anchor="middle">0</text>
<text x="227.7" y="214.2" text-anchor="middle">1,000,000</text>
<text x="151.5" y="14.0" text-anchor="middle" font-size="11">HalfCheetah-v1</text>
<text x="304.5" y="43.9" text-anchor="end">2,500</text>
<text x="304.5" y="75.2" text-anchor="end">2,000</text>
<text x="304.5" y="106.6" text-anchor="end">1,500</text>
<text x="304.5" y="137.9" text-anchor="end">1,000</text>
<text x="304.5" y="169.3" text-anchor="end">500</text>
<text x="304.5" y="200.7" text-anchor="end">0</text>
<text x="320.0" y="217.7" text-anchor="middle">0</text>
<text x="497.5" y="200.3" text-anchor="middle">1,000,000</text>
<text x="422.0" y="14.0" text-anchor="middle" font-size="11">Hopper-v1</text>
<text x="32.7" y="272.8" text-anchor="end">−20</text>
<text x="32.7" y="302.6" text-anchor="end">−40</text>
<text x="32.7" y="332.4" text-anchor="end">−60</text>
<text x="32.7" y="362.2" text-anchor="end">−80</text>
<text x="32.7" y="392.0" text-anchor="end">−100</text>
<text x="32.7" y="421.9" text-anchor="end">−120</text>
<text x="49.5" y="438.0" text-anchor="middle">0</text>
<text x="227.7" y="436.1" text-anchor="middle">1,000,000</text>
<text x="151.8" y="234.4" text-anchor="middle" font-size="11">Reacher-v1</text>
<text x="303.7" y="260.6" text-anchor="end">120</text>
<text x="303.7" y="285.1" text-anchor="end">100</text>
<text x="303.7" y="309.6" text-anchor="end">80</text>
<text x="303.7" y="334.1" text-anchor="end">60</text>
<text x="303.7" y="358.7" text-anchor="end">40</text>
<text x="303.7" y="383.2" text-anchor="end">20</text>
<text x="303.7" y="407.8" text-anchor="end">0</text>
<text x="320.2" y="438.4" text-anchor="middle">0</text>
<text x="498.9" y="437.9" text-anchor="middle">1,000,000</text>
<text x="422.0" y="234.4" text-anchor="middle" font-size="11">Swimmer-v1</text>
<text x="37.7" y="494.0" text-anchor="end">8,000</text>
<text x="37.7" y="533.1" text-anchor="end">6,000</text>
<text x="37.7" y="572.4" text-anchor="end">4,000</text>
<text x="37.7" y="611.6" text-anchor="end">2,000</text>
<text x="30.7" y="650.8" text-anchor="end">0</text>
<text x="47.0" y="668.7" text-anchor="middle">0</text>
<text x="242.2" y="668.4" text-anchor="middle">1,000,000</text>
<text x="149.5" y="463.9" text-anchor="middle" font-size="11">InvertedDoublePendulum-v1</text>
<text x="301.7" y="482.9" text-anchor="end">1,000</text>
<text x="301.7" y="516.6" text-anchor="end">800</text>
<text x="301.7" y="550.4" text-anchor="end">600</text>
<text x="301.7" y="584.2" text-anchor="end">400</text>
<text x="301.7" y="618.0" text-anchor="end">200</text>
<text x="301.7" y="651.8" text-anchor="end">0</text>
<text x="318.0" y="668.7" text-anchor="middle">0</text>
<text x="518.5" y="667.3" text-anchor="middle">1,000,000</text>
<text x="420.3" y="464.5" text-anchor="middle" font-size="11">InvertedPendulum-v1</text>
<text x="38.0" y="733.8" text-anchor="end">3,000</text>
<text x="37.3" y="779.6" text-anchor="end">2,000</text>
<text x="36.4" y="825.5" text-anchor="end">1,000</text>
<text x="30.9" y="871.4" text-anchor="end">0</text>
<text x="47.1" y="889.8" text-anchor="middle">0</text>
<text x="243.2" y="889.8" text-anchor="middle">1,000,000</text>
<text x="149.0" y="685.0" text-anchor="middle" font-size="11">Walker2d-v1</text>
</g>
<line x1="293" x2="321" y1="695.5" y2="695.5" stroke="#3762B5" stroke-width="1.6"/>
<text x="330" y="700.2" font-family="Liberation Sans, Arial, sans-serif" font-size="13.15" fill="#1a1a1a" stroke="#1a1a1a" stroke-width="0.25">A2C</text>
<line x1="293" x2="321" y1="714.1" y2="714.1" stroke="#3DA84F" stroke-width="1.6"/>
<text x="330" y="718.8" font-family="Liberation Sans, Arial, sans-serif" font-size="13.15" fill="#1a1a1a" stroke="#1a1a1a" stroke-width="0.25">A2C + Trust Region</text>
<line x1="293" x2="321" y1="732.7" y2="732.7" stroke="#CC3540" stroke-width="1.6"/>
<text x="330" y="737.4" font-family="Liberation Sans, Arial, sans-serif" font-size="13.15" fill="#1a1a1a" stroke="#1a1a1a" stroke-width="0.25">CEM</text>
<line x1="293" x2="321" y1="751.3" y2="751.3" stroke="#7360B8" stroke-width="1.6"/>
<text x="330" y="756.0" font-family="Liberation Sans, Arial, sans-serif" font-size="13.15" fill="#1a1a1a" stroke="#1a1a1a" stroke-width="0.25">PPO (Clip)</text>
<line x1="293" x2="321" y1="769.9" y2="769.9" stroke="#D2B964" stroke-width="1.6"/>
<text x="330" y="774.6" font-family="Liberation Sans, Arial, sans-serif" font-size="13.15" fill="#1a1a1a" stroke="#1a1a1a" stroke-width="0.25">Vanilla PG, Adaptive</text>
<line x1="293" x2="321" y1="788.5" y2="788.5" stroke="#48B4D8" stroke-width="1.6"/>
<text x="330" y="793.2" font-family="Liberation Sans, Arial, sans-serif" font-size="13.15" fill="#1a1a1a" stroke="#1a1a1a" stroke-width="0.25">TRPO</text>
</svg>
</body></html>
